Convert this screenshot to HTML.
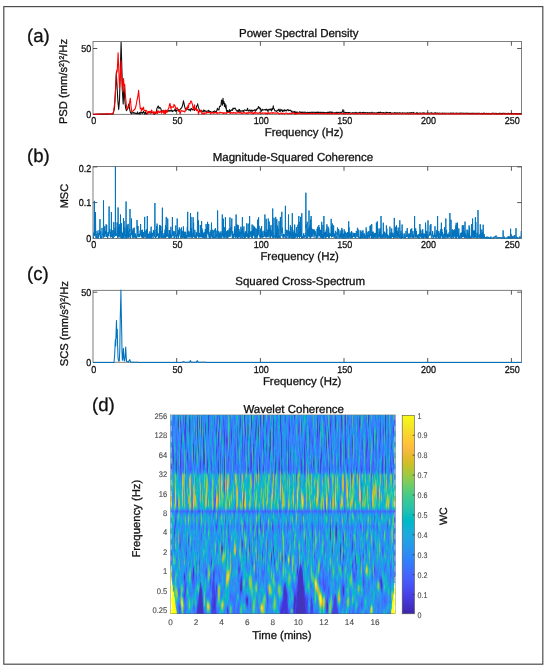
<!DOCTYPE html>
<html><head><meta charset="utf-8"><title>Figure</title>
<style>
html,body{margin:0;padding:0;background:#fff}
#fig{position:relative;width:550px;height:671px;background:#fff;overflow:hidden;font-family:"Liberation Sans",Arial,sans-serif}
#hm{position:absolute;left:170px;top:415px;width:226px;height:199px;display:flex}#hm i{display:block;width:1px;height:199px;flex:none}
</style></head><body>
<div id="fig">
<div id="hm"><i style="background:linear-gradient(#9ce,#9cf,#9cf,#9bf,#9bf,#9bf,#9bf,#9cf,#9cf,#9cf,#9bf,#9ce,#8de,#9dc,#9dc,#9dc,#9dc,#9dc,#9dd,#9dc,#bdb,#adb,#9dc,#bda,#dd9,#ed9,#ed9,#fe9,#fd9,#dd9,#9dc,#8de,#9bf,#9ce,#9ce,#9cf,#9ce,#9ce,#8ce,#8ce,#8de,#9dc,#adb,#9dc,#8dd,#8dd,#9dc,#9dc,#9ce,#9cf,#9cf,#9ce,#ff8,#ff8,#ff8,#ff8,#ff8,#ff8,#ff8,#ff8,#ff8,#ff8,#ff8,#ff8,#ff8,#ff8,#ff8)"></i><i style="background:linear-gradient(#2ad,#2ad,#2ad,#29d,#29e,#38e,#38f,#38e,#29e,#2ad,#1ad,#1ad,#29d,#39e,#38e,#38e,#47e,#45e,#45e,#45e,#2ad,#3ba,#2ba,#1bb,#2bc,#2ac,#1bb,#7c6,#cb3,#cb3,#bb4,#4c9,#37f,#29e,#1ac,#0bc,#0bc,#1ad,#2bb,#2bb,#1ad,#2ad,#29d,#29d,#29e,#28e,#46e,#44c,#45e,#38e,#3ba,#5c7,#7c6,#6c7,#ac4,#ee2,#ef2,#ff1,#ff1,#ff1,#ff1,#ff1,#ff1,#ff1,#ff1,#ff1,#ff1)"></i><i style="background:linear-gradient(#3ba,#1ad,#38e,#37f,#46f,#46f,#46f,#46f,#46f,#46e,#45e,#45e,#45e,#46f,#37f,#38e,#38e,#38e,#38e,#1ad,#2ad,#2ad,#3ba,#5c8,#3ba,#0bc,#1ad,#29d,#38e,#38e,#39d,#39e,#47f,#0bc,#3ca,#2ba,#0bc,#2ad,#0bc,#1bc,#2ad,#29e,#29e,#29e,#29e,#29e,#29e,#38e,#38e,#39e,#2ad,#1bc,#39d,#38e,#38e,#39d,#4c9,#ee2,#ee2,#ff1,#ff1,#ff1,#ff1,#ff1,#ff1,#ff1,#ff1)"></i><i style="background:linear-gradient(#47f,#46f,#46f,#37f,#38f,#29e,#29d,#29e,#39e,#38e,#37f,#46f,#45e,#45e,#44d,#44d,#45d,#46e,#46f,#38f,#29d,#29e,#29e,#2ad,#29d,#29e,#38e,#38e,#2ad,#0bc,#1bb,#2ad,#37f,#1ad,#3ba,#3ba,#0bc,#29e,#29d,#29d,#29e,#29e,#29e,#29e,#29e,#29e,#1bc,#4c9,#6c7,#4c9,#2ad,#38e,#47f,#47f,#38e,#29e,#2ad,#3ad,#39d,#ef2,#ef2,#ff1,#ff1,#ff1,#ff1,#ff1,#ff1)"></i><i style="background:linear-gradient(#46f,#46f,#37f,#37f,#38f,#38f,#38e,#39e,#29e,#1ad,#1bb,#2bb,#2bb,#1ab,#1ab,#2ab,#1ab,#1ad,#29e,#2ad,#2bb,#1bc,#1bc,#1bb,#1bb,#2ac,#39d,#38e,#39d,#2ac,#5c8,#5c8,#38e,#29e,#29d,#2ad,#29e,#46f,#45e,#44d,#45e,#47e,#38e,#38e,#47e,#37f,#29e,#0bb,#5c7,#4c8,#0bc,#29e,#38e,#38e,#38e,#2ad,#1bb,#3ba,#3b9,#4c8,#4c9,#ef2,#ef2,#fe1,#ff1,#ff1,#ff1)"></i><i style="background:linear-gradient(#2ad,#29e,#29e,#29e,#38e,#38f,#38f,#38f,#38f,#38e,#38e,#39e,#39e,#38e,#38e,#38e,#37e,#37e,#37e,#29e,#7c6,#9b4,#9b4,#ab4,#cb4,#db4,#dc4,#dc4,#dc4,#dc4,#db4,#3ba,#46f,#47f,#46f,#45e,#45e,#45e,#38e,#29d,#2bb,#3b9,#4b8,#5c7,#4c8,#0ac,#29e,#2ad,#1bb,#1bc,#29e,#29e,#2ad,#3b9,#5c7,#4c9,#3ba,#4c8,#8c5,#8c5,#5c7,#3c9,#4c9,#db4,#ee2,#ef1,#ff1)"></i><i style="background:linear-gradient(#1bc,#2ad,#29e,#38e,#38f,#37f,#47f,#46f,#46f,#46f,#46f,#46f,#46f,#46f,#46f,#45e,#44d,#44d,#44d,#45d,#2ac,#2bc,#1bc,#1bb,#1bb,#1bb,#2bc,#2ac,#3ac,#39d,#39d,#38e,#45e,#37f,#47f,#37f,#38e,#29e,#0ac,#0bc,#2ad,#29d,#2ad,#1bb,#1bb,#2ad,#29e,#38f,#37f,#38f,#38e,#29e,#0bc,#3ca,#1bb,#2ad,#2ad,#3ba,#8c5,#ac4,#8c5,#3c9,#2ad,#3ad,#2ac,#ac4,#ee2)"></i><i style="background:linear-gradient(#29e,#38e,#38e,#37e,#38e,#38e,#38e,#38f,#38f,#37f,#37f,#37f,#38f,#38f,#38f,#38f,#38e,#29d,#1ad,#2ab,#2ba,#1bb,#0bc,#1bc,#1ad,#1bc,#1bc,#2ad,#47e,#55d,#55d,#47f,#45e,#39e,#2bb,#2ba,#0bc,#29e,#29e,#29d,#39d,#38e,#38e,#29d,#1bb,#0bc,#29e,#38e,#38e,#29e,#1ad,#1bb,#1bb,#1bc,#29e,#38e,#38e,#29e,#2bb,#6c7,#6c6,#3ba,#29e,#38f,#38f,#38e,#48e)"></i><i style="background:linear-gradient(#37f,#45e,#44d,#44d,#44d,#46e,#37f,#38e,#29e,#29d,#29e,#28e,#38e,#38f,#37f,#47f,#47e,#46e,#46e,#47f,#1ad,#0bc,#1ad,#1ad,#0bc,#2ba,#3c9,#5c8,#8b5,#bb4,#bb4,#3ba,#38e,#4c9,#5c8,#1bc,#29e,#38f,#2ad,#3b9,#6b7,#7b6,#7b7,#3ba,#2ad,#2ad,#0bc,#2bb,#2ba,#0bc,#2ad,#29d,#29e,#29e,#29e,#38e,#38e,#38f,#37f,#37e,#38e,#39e,#38f,#46f,#46f,#37f,#38f)"></i><i style="background:linear-gradient(#1ad,#3ba,#4b9,#4b9,#4b9,#2bb,#29e,#38f,#38f,#38e,#2ad,#1ac,#2ab,#2bb,#3ba,#3ba,#3ba,#1ac,#29d,#38e,#47f,#47f,#38e,#2ad,#0bc,#1bb,#1bb,#3c9,#5c7,#6c7,#7c6,#4c9,#29e,#2ad,#2ad,#29e,#28e,#38f,#29e,#39e,#47e,#47e,#38e,#37e,#37f,#38f,#29e,#29e,#2ad,#3ba,#4b9,#3ba,#1ad,#29e,#29e,#2ad,#29e,#38f,#46f,#46f,#37f,#38e,#38e,#46f,#44e,#45e,#46f)"></i><i style="background:linear-gradient(#38e,#46e,#45d,#45e,#46e,#38e,#38e,#38e,#38e,#37e,#37f,#46f,#45e,#44d,#44d,#44d,#44d,#44d,#45e,#45e,#37f,#29e,#1ad,#1bc,#1ac,#2ad,#2ad,#0bc,#1bb,#1bc,#2ac,#2ad,#46f,#38f,#29e,#2ad,#0bc,#1ad,#2ad,#29e,#38e,#37f,#46f,#45e,#46f,#38e,#29e,#29d,#29e,#38e,#38e,#39e,#29e,#2ad,#1ac,#0bc,#1ad,#2ad,#39d,#39d,#1bc,#4b9,#3ba,#39d,#37e,#46e,#46f)"></i><i style="background:linear-gradient(#3ba,#1bb,#2ad,#38e,#37f,#46f,#45e,#44d,#44d,#44d,#45e,#46f,#37f,#37f,#37f,#37f,#46f,#46f,#46f,#46f,#47e,#47e,#48e,#48e,#39d,#2ac,#3ba,#1bb,#2ac,#2ac,#1bb,#2ad,#46f,#29e,#2ad,#0bc,#0bc,#38e,#38f,#37f,#37f,#38e,#38e,#29e,#29e,#38e,#38e,#29e,#29d,#29e,#29e,#29e,#29e,#29e,#29e,#29e,#1bc,#4c8,#7c6,#6c7,#6c6,#db4,#ed3,#eb4,#7c7,#3ba,#1bb)"></i><i style="background:linear-gradient(#29d,#2ad,#2ad,#29d,#29e,#38e,#29e,#29d,#2ad,#1ac,#0ac,#1ac,#2ad,#38e,#38f,#37f,#37f,#37f,#37f,#1ac,#cb4,#cb3,#cb3,#cb4,#cb4,#cb5,#db5,#db5,#db5,#bb4,#7c6,#0bc,#37f,#38e,#38e,#29e,#29e,#38f,#38f,#38e,#38e,#38e,#38e,#29e,#2ad,#2ad,#29e,#29e,#29e,#39e,#29e,#2ad,#1ad,#29e,#38e,#38e,#1ad,#4c8,#5c7,#1bb,#1ac,#7c6,#dd3,#ee3,#db4,#9c4,#7c6)"></i><i style="background:linear-gradient(#47e,#46e,#45e,#46f,#37f,#29e,#1ac,#3bb,#3ba,#1bb,#1ac,#29d,#38e,#38e,#37e,#47e,#46e,#46e,#46f,#38e,#6c7,#8c5,#8c5,#8c5,#4c9,#3ac,#49c,#3ac,#3ac,#2bb,#1ba,#2ad,#46f,#29e,#2ad,#29d,#29e,#38f,#38e,#29e,#2ad,#2ad,#29e,#29e,#29d,#2ad,#2ad,#2ad,#29d,#39d,#29e,#29e,#29e,#38e,#37f,#38f,#39e,#29d,#39e,#37f,#46f,#39d,#2ba,#4c9,#4b9,#1bb,#2ad)"></i><i style="background:linear-gradient(#3ba,#2ab,#1ac,#38e,#37f,#45e,#44d,#45e,#46e,#38e,#29e,#0ac,#3ba,#3b9,#4b9,#4b9,#4b9,#3ba,#3bb,#4b9,#8c6,#5c8,#4c8,#5c8,#5c7,#6c7,#7c6,#7c6,#6c7,#6c7,#8c5,#3b9,#37f,#29e,#2ad,#2ad,#39e,#38f,#29e,#29d,#2ad,#29e,#29e,#29e,#38e,#38e,#29e,#1bc,#4b8,#5c8,#1bc,#29e,#47f,#44d,#43c,#45e,#46f,#46f,#46f,#45e,#44e,#45e,#37f,#38e,#38e,#37f,#37f)"></i><i style="background:linear-gradient(#45e,#44d,#44d,#44d,#44d,#44e,#44e,#44e,#44e,#44e,#45e,#46e,#47f,#38e,#39e,#29d,#38e,#47e,#46e,#45d,#39e,#39e,#38e,#47e,#37e,#38e,#39d,#2ad,#2ad,#2ad,#3ad,#39e,#46f,#0bc,#4c8,#6c7,#4b9,#1bc,#0bc,#0bc,#2ad,#29e,#29e,#38e,#38e,#38e,#38e,#38e,#38e,#38e,#29e,#29e,#38f,#37f,#37e,#37f,#45f,#44d,#44e,#45e,#46f,#46f,#37f,#37f,#46f,#46f,#47f)"></i><i style="background:linear-gradient(#38e,#47e,#47f,#37e,#38e,#38e,#38e,#38e,#37e,#37f,#37f,#37f,#38f,#38e,#28e,#29e,#29e,#2ad,#1ad,#1ac,#2ad,#2ad,#1ad,#2ad,#2ad,#2ad,#39e,#38e,#29e,#29e,#1ad,#1ad,#46f,#28e,#38e,#38e,#39e,#38e,#29e,#29d,#29e,#29e,#38e,#38f,#37f,#46f,#45e,#46f,#38f,#29e,#38f,#46f,#46f,#38f,#29e,#38e,#46f,#47f,#29d,#1ac,#29d,#38e,#38f,#38f,#37f,#38f,#38e)"></i><i style="background:linear-gradient(#3ba,#3ba,#2bb,#1ad,#29d,#29d,#1ad,#0bc,#0bc,#2ad,#29e,#37f,#46e,#44d,#44d,#44e,#46f,#37f,#37f,#37f,#29e,#29e,#29e,#1ad,#2ba,#5c8,#3c9,#2bb,#1ac,#2ad,#29d,#38f,#45f,#38e,#39d,#39d,#39e,#38e,#0bc,#3ba,#3ba,#2bb,#2bb,#1ac,#2ad,#29e,#29e,#29e,#29e,#29d,#29e,#29e,#29e,#2ad,#1ad,#2ad,#29e,#1ad,#3c9,#4c8,#0bc,#29d,#39e,#39e,#29e,#29e,#1ad)"></i><i style="background:linear-gradient(#2ad,#1ac,#1bb,#1bb,#1ab,#1ab,#1bb,#1bb,#1bb,#1bb,#1bc,#1ad,#29e,#38e,#38e,#37f,#46f,#46f,#46f,#47f,#38e,#39d,#39d,#39d,#39d,#2ac,#1bb,#6c6,#ab4,#7c6,#1bb,#39d,#46f,#3ba,#8c6,#8c6,#4c8,#2ad,#29d,#29e,#37e,#45e,#45e,#46f,#38f,#29e,#29e,#29d,#0ac,#2bb,#1bc,#1ad,#2ad,#2ad,#1bc,#0bc,#1ad,#2ad,#1ac,#1bc,#1bb,#2ba,#3ba,#3b9,#2bb,#1ad,#29d)"></i><i style="background:linear-gradient(#38f,#45e,#44d,#44d,#44d,#44d,#45e,#46f,#47f,#47f,#37f,#37f,#38f,#38e,#29e,#38e,#37f,#37f,#37f,#37f,#1bb,#8c5,#cb3,#cb3,#9c5,#4c8,#4c8,#9c4,#cb3,#cb3,#bb3,#5c7,#29e,#2ad,#2ad,#2ad,#1ac,#1ad,#2ad,#29e,#29e,#29d,#29d,#29d,#2ad,#1ad,#2ad,#29e,#38f,#47f,#37f,#39e,#2bb,#6c7,#5c7,#3c9,#1bc,#38e,#38f,#38e,#29d,#2bb,#5c7,#7c6,#5c8,#1ad,#38e)"></i><i style="background:linear-gradient(#29e,#38e,#37e,#37e,#37e,#37f,#37f,#47f,#37f,#38f,#38e,#38e,#38f,#37f,#47f,#46f,#46f,#46f,#45f,#37f,#7c6,#cb3,#db4,#cb3,#cb3,#db5,#db5,#9c5,#4c9,#8c5,#eb4,#9b5,#38e,#29d,#2ad,#2ad,#2ad,#29e,#29e,#2ad,#1bb,#4c9,#4c9,#2bb,#1ad,#1ad,#1ad,#29e,#29e,#29e,#1ac,#3ba,#4c8,#4c8,#3ba,#2bb,#0bc,#29e,#38e,#37f,#38e,#29e,#1bc,#1bb,#1bc,#29e,#38e)"></i><i style="background:linear-gradient(#1bb,#1bb,#1ac,#29e,#29e,#29e,#29e,#1ad,#0bc,#1bc,#0bc,#0bc,#1ac,#2ad,#38e,#38e,#37f,#46f,#46f,#47f,#2ad,#39d,#39d,#39d,#39d,#38e,#48e,#38e,#29d,#39d,#39d,#38e,#45e,#37f,#38e,#29e,#38e,#37f,#38e,#29e,#2ad,#2ad,#29d,#38e,#46f,#46f,#38f,#29e,#1ad,#1bc,#1ad,#39e,#38e,#37e,#37f,#38e,#29e,#1ad,#29d,#38e,#38e,#2ad,#0bc,#1bb,#2ad,#39e,#39e)"></i><i style="background:linear-gradient(#47e,#47e,#37f,#38f,#38e,#29e,#2ad,#2ad,#2ad,#2ad,#1ac,#2ba,#3b9,#4b9,#4b9,#3ba,#1ac,#29e,#37f,#38e,#1ad,#2ad,#2ad,#2ad,#39d,#39d,#38e,#38e,#48e,#57e,#56e,#47e,#45e,#29e,#2ad,#29e,#38f,#37f,#29e,#1ad,#29d,#29e,#38e,#29e,#29e,#29e,#29e,#29e,#29e,#28e,#38e,#38e,#37f,#45f,#45e,#45e,#46f,#37f,#38f,#38e,#29e,#1bb,#3ba,#1bb,#29e,#38e,#39e)"></i><i style="background:linear-gradient(#3ba,#1ac,#2ad,#29e,#38e,#38e,#38e,#38f,#37f,#46f,#44d,#44d,#44c,#44c,#44c,#45d,#37f,#38e,#1ad,#2bb,#2ad,#29d,#2ad,#3ba,#8c5,#bb3,#bb3,#cb3,#db4,#eb4,#eb4,#ab4,#38e,#1ad,#3b9,#3ba,#1ad,#38f,#38f,#29e,#29e,#2ad,#29e,#29e,#2ad,#1bc,#0bc,#29d,#29e,#39e,#47f,#44c,#43c,#43c,#44e,#45f,#46f,#46f,#37f,#38e,#29e,#1ad,#29d,#38e,#46f,#47f,#38e)"></i><i style="background:linear-gradient(#39e,#38e,#29e,#1bc,#3ba,#3ba,#1ac,#29d,#38e,#38e,#29e,#29d,#1ad,#1ad,#29d,#29d,#38e,#37f,#37f,#38e,#4c9,#5c8,#4c9,#5c8,#7c6,#9c4,#cb3,#db3,#cb3,#8c5,#6c7,#1bb,#37f,#29e,#38e,#39e,#29e,#29e,#1ad,#2ad,#29e,#39e,#37f,#47f,#37f,#29e,#0bc,#3ba,#3b9,#3c9,#1bb,#29d,#38e,#37e,#37f,#46f,#46f,#37f,#38e,#29e,#2ad,#2ad,#2ad,#38e,#46f,#47f,#37f)"></i><i style="background:linear-gradient(#39e,#38e,#38f,#37f,#47e,#46e,#46e,#46e,#37f,#38f,#38f,#38f,#37f,#46f,#45e,#45e,#46e,#47f,#38f,#2ad,#2ad,#29d,#29d,#39e,#39d,#3ad,#1bb,#ac4,#db4,#cb3,#7c5,#1bc,#46f,#37f,#47f,#47e,#37f,#37f,#28e,#29e,#38e,#29e,#29e,#29d,#29e,#39e,#29e,#29d,#2ad,#1ac,#0bc,#2bb,#1bc,#29d,#38e,#38e,#38e,#29e,#0bc,#1bb,#0bc,#1bc,#3ba,#2bb,#29e,#38f,#47f)"></i><i style="background:linear-gradient(#3b9,#1ac,#29d,#29d,#1ad,#2ab,#3ba,#3ba,#1ac,#2ad,#38e,#38e,#38e,#38e,#39e,#29d,#29d,#29e,#29e,#2ad,#1bb,#1bb,#1bc,#1ac,#1bc,#2bb,#1bb,#2ba,#3b9,#4c8,#6c6,#3ba,#47f,#29d,#3ba,#4b9,#2bb,#2ad,#2ad,#2ad,#29e,#29e,#29d,#29d,#29e,#29e,#1ad,#1bc,#2ad,#28e,#37e,#37e,#38e,#37f,#46f,#37f,#38e,#2ad,#1bb,#0bc,#29e,#29d,#1bc,#1ac,#38e,#46f,#45e)"></i><i style="background:linear-gradient(#46e,#45d,#44d,#44d,#44c,#44c,#44c,#44d,#46e,#37f,#38e,#1ac,#3ba,#4b9,#4b9,#3ba,#2bb,#29e,#37f,#46f,#29d,#0bc,#1bb,#2ba,#2ba,#1bb,#0bc,#1bc,#0bc,#1bb,#2bb,#2ad,#46f,#29e,#2ad,#1bb,#1bb,#2ad,#29d,#29d,#29e,#29e,#29e,#29e,#29e,#39e,#28e,#29e,#29e,#29d,#1bc,#3b9,#3b9,#1bb,#1ad,#1ad,#2bb,#3ca,#2ba,#1ac,#38e,#47f,#46e,#45e,#44d,#43d,#43d)"></i><i style="background:linear-gradient(#1ad,#2ab,#3b9,#4b9,#3ba,#2ab,#1ac,#29d,#38e,#37f,#46e,#45d,#45c,#46e,#47e,#38e,#29e,#39e,#38f,#38e,#1ad,#2ad,#2ad,#2ad,#1ad,#1bc,#0bc,#1ad,#29e,#38e,#38e,#38e,#45f,#29e,#2ad,#29d,#38e,#37f,#38e,#29e,#29e,#2ad,#0ac,#2ad,#29e,#29e,#2ad,#1bc,#1bc,#1ac,#3ba,#3b9,#1bc,#29e,#38e,#29e,#0bc,#3c9,#5c8,#1bb,#37e,#45e,#44d,#43d,#43c,#43c,#43b)"></i><i style="background:linear-gradient(#47e,#46e,#45c,#45c,#45d,#47e,#38e,#28e,#29e,#1bc,#3ba,#3ba,#2ab,#1ad,#29e,#38e,#37f,#37f,#46f,#47f,#0bc,#3ca,#3c9,#3ba,#2ba,#1bb,#1bb,#2ac,#3ad,#29d,#29d,#38e,#45e,#38f,#38f,#47f,#46f,#46f,#37f,#38f,#38f,#38f,#38f,#38e,#38e,#38e,#38e,#38e,#46e,#45e,#46e,#37e,#38f,#37f,#38f,#29e,#1ac,#1ac,#46e,#44c,#43c,#43c,#43c,#43c,#43b,#43b,#43b)"></i><i style="background:linear-gradient(#4b9,#3ba,#4b9,#4b9,#4b9,#4b9,#3ba,#1ac,#29e,#38e,#38e,#38e,#38e,#47f,#46e,#45e,#44e,#44e,#45e,#46f,#2ad,#1bc,#3ba,#6c7,#8c5,#8c5,#9b5,#ab4,#9b5,#4c9,#1bb,#2ad,#37f,#2ad,#2ad,#29d,#39d,#29e,#29e,#29e,#29e,#38e,#38f,#38e,#39e,#29e,#29e,#29e,#29e,#29e,#39e,#29e,#29e,#39e,#28e,#29e,#44c,#44c,#43c,#43b,#43b,#43b,#43b,#43b,#43b,#43b,#43b)"></i><i style="background:linear-gradient(#37e,#46e,#45e,#45d,#45c,#45c,#45d,#46e,#47f,#38f,#38e,#2ad,#1ad,#2ad,#29d,#38e,#38e,#38f,#38e,#38e,#2ad,#2ad,#29d,#39d,#39d,#39d,#38d,#49c,#2ac,#1bb,#0bc,#2ad,#29e,#5b8,#6c7,#6c7,#5c8,#0bc,#38e,#47f,#45e,#46f,#38e,#29e,#29d,#29e,#29e,#29e,#29e,#2ad,#29d,#29e,#29e,#2ad,#0bc,#1bb,#2ad,#46e,#43c,#43c,#43c,#43c,#43c,#43b,#43b,#43b,#43b)"></i><i style="background:linear-gradient(#29e,#38e,#29d,#1ac,#2ab,#3ba,#3ba,#2ab,#1ac,#29d,#29d,#1ad,#1bb,#3ba,#2bb,#1ac,#28e,#37f,#38f,#29e,#1bb,#0bc,#0bc,#1bb,#3ba,#3ba,#5c8,#8b5,#7c6,#3c9,#2bb,#2ad,#45e,#47e,#39d,#2ad,#29d,#38e,#38e,#29d,#2ad,#29e,#29e,#2ad,#1ad,#2ad,#29d,#2ad,#1ad,#2ad,#39e,#38f,#38e,#2ad,#1bb,#0bc,#2ad,#29e,#38e,#46e,#45e,#44d,#44d,#43c,#43c,#43c,#43c)"></i><i style="background:linear-gradient(#29e,#38e,#38f,#37f,#37f,#47e,#46e,#46e,#44d,#44d,#44d,#44d,#44d,#44d,#44d,#44d,#44e,#45e,#45f,#47f,#2ad,#2ad,#2ac,#2ac,#2ad,#2ad,#2ad,#2ac,#2ac,#1bc,#1bb,#0bc,#38f,#29d,#2ad,#2ad,#29e,#37f,#47f,#38e,#2ad,#2ad,#29e,#29e,#1ad,#3c9,#3c9,#1bb,#29d,#38e,#37f,#38f,#38e,#29e,#29e,#29e,#29d,#1ad,#1bc,#1ac,#1bb,#2ba,#2ac,#39d,#37e,#45e,#44d)"></i><i style="background:linear-gradient(#37f,#38f,#38e,#29e,#29d,#2ad,#1ac,#1ac,#1ac,#29d,#38e,#37e,#46e,#44d,#44c,#44c,#44d,#46e,#37f,#2ad,#3c9,#5c8,#7c6,#7c6,#4c8,#2ba,#2bb,#1bb,#1bb,#1bb,#2ba,#0bc,#38e,#1bb,#1ad,#2ad,#2ad,#2ad,#1bb,#2bb,#0bc,#2ad,#29e,#29e,#29d,#1bc,#1bc,#29d,#39e,#38e,#38e,#38e,#38f,#38f,#38e,#29e,#1bc,#2ba,#2ba,#3ca,#5c8,#6c7,#7c6,#4c9,#0ac,#38e,#46f)"></i><i style="background:linear-gradient(#29e,#38f,#47f,#45e,#44d,#44d,#45e,#37f,#29e,#2bb,#3b9,#4b9,#4b9,#4b9,#4b9,#4b9,#3b9,#2bb,#1ac,#1ac,#3c9,#1bb,#2bb,#2ba,#3b9,#3ba,#4c8,#9c4,#cb3,#db4,#cb3,#3c9,#37f,#2ad,#0bc,#2bb,#3ba,#1bc,#1bb,#2ad,#29e,#2ad,#2ba,#3ba,#0bc,#2ad,#29e,#29e,#29e,#38e,#38f,#47f,#46f,#37f,#38e,#2ad,#2bb,#2ba,#0bc,#2ad,#29d,#39d,#2ad,#2ad,#29d,#38e,#47f)"></i><i style="background:linear-gradient(#29e,#29e,#2ad,#1ac,#1ad,#29e,#38e,#38f,#38f,#38e,#38e,#38e,#38e,#38e,#38e,#38e,#38e,#38e,#37e,#38e,#5c8,#7c6,#8c5,#9c4,#cb3,#db4,#db4,#db4,#cb3,#cb3,#8c5,#0bc,#46f,#38f,#29e,#38e,#38e,#37f,#37f,#37f,#38f,#29e,#1bc,#1bc,#2ad,#2ad,#1ad,#0bc,#1bc,#2ad,#38e,#46f,#45e,#45e,#47f,#38e,#29d,#2ad,#29e,#38f,#37f,#29e,#1bc,#3ba,#2ba,#2ad,#38e)"></i><i style="background:linear-gradient(#29d,#29e,#29d,#29d,#29d,#29d,#29e,#38e,#38f,#38f,#38f,#38f,#38f,#38f,#37f,#45e,#44d,#44d,#44d,#45e,#1bc,#4c9,#7c6,#8c5,#7c6,#5c7,#3c9,#1bc,#39c,#48d,#39d,#29d,#46f,#1ad,#0bc,#2ad,#38e,#47f,#37f,#38e,#38e,#29e,#2ad,#1ad,#1ad,#2ad,#29e,#29e,#29e,#29e,#39e,#39e,#29d,#2ac,#2ac,#2ad,#29e,#29e,#38f,#37f,#37f,#29d,#6c7,#ec3,#eb4,#4c9,#2ad)"></i><i style="background:linear-gradient(#44d,#44d,#44d,#44d,#44d,#44d,#45e,#46f,#47f,#38f,#38e,#2ad,#1ad,#1ac,#1ac,#1ac,#0ac,#0ac,#2bb,#2bb,#28e,#38e,#38e,#39d,#2ad,#1bc,#0bc,#1bb,#4c9,#7c6,#7c6,#1ad,#46f,#1ad,#2bb,#2bb,#1bc,#1ad,#2bb,#4c8,#3c9,#2ad,#29e,#29e,#29e,#29e,#38e,#38e,#29e,#0bc,#3ba,#4c9,#5c7,#7c6,#6c7,#3c9,#1ac,#29e,#38f,#37f,#37f,#29e,#4c8,#ec3,#ec3,#5c7,#1ad)"></i><i style="background:linear-gradient(#29d,#38e,#37e,#38e,#38e,#29e,#29e,#29e,#38e,#38f,#38f,#37f,#38f,#38f,#38e,#29e,#2ad,#2ad,#29d,#39e,#29d,#1ad,#0ac,#1ad,#2ad,#2ad,#2ad,#1bc,#0bb,#1bb,#1bb,#2ad,#46f,#37f,#39e,#29d,#2ad,#2ad,#1ad,#1bc,#0bb,#1bb,#29d,#38f,#46f,#37f,#38f,#38f,#38f,#28e,#2ad,#3b9,#7c6,#7c6,#3ba,#29d,#38e,#47f,#46f,#47f,#47f,#37f,#2ad,#6c7,#8c5,#3ba,#2ad)"></i><i style="background:linear-gradient(#38e,#38f,#38f,#38e,#38e,#38e,#38e,#29d,#1ad,#1ac,#29d,#38e,#37f,#37f,#37f,#37f,#37f,#38e,#38f,#29e,#1bc,#29e,#38f,#37f,#38e,#29d,#2ad,#1ac,#1ad,#2ad,#1bc,#1ad,#46f,#38e,#29e,#29e,#29e,#38f,#38e,#29e,#29d,#29e,#29e,#29e,#29e,#29e,#29e,#38e,#38f,#37f,#37f,#38e,#38e,#47e,#46e,#45e,#45e,#46f,#37f,#38e,#38e,#38e,#38e,#29d,#2ad,#29e,#38e)"></i><i style="background:linear-gradient(#29e,#29e,#1ad,#1bc,#0ac,#2ad,#29e,#29e,#29e,#29e,#29e,#38e,#38e,#38f,#37f,#46e,#45e,#45e,#45e,#37f,#2ba,#1bc,#39d,#39d,#1ac,#3ba,#3c9,#3c9,#3b9,#3ba,#1bb,#39d,#46f,#29e,#2ad,#2ad,#29e,#37f,#47f,#37f,#37f,#38f,#38e,#29e,#29d,#2ad,#29d,#38e,#45e,#44d,#46e,#39e,#39e,#37f,#47f,#37f,#37f,#37f,#37f,#38e,#38f,#46f,#45f,#45e,#45e,#45e,#45e)"></i><i style="background:linear-gradient(#29e,#28e,#38e,#38e,#38e,#38f,#37f,#46f,#46f,#46f,#37f,#38f,#29e,#1ac,#2bb,#2bb,#1ac,#29e,#38e,#38e,#2bb,#4c8,#8c6,#8c5,#7c6,#9c5,#8c5,#9c5,#cb4,#db5,#cb4,#6c7,#38e,#29e,#29e,#29e,#29e,#38f,#38e,#29e,#29e,#38e,#37f,#38f,#29e,#1ad,#1ad,#2ad,#1ac,#3ba,#4b9,#2ba,#29d,#38e,#38f,#46f,#45e,#44e,#44d,#44e,#45e,#44e,#44e,#44e,#44e,#44e,#44e)"></i><i style="background:linear-gradient(#1bc,#1ac,#1ad,#29d,#29e,#38e,#38f,#38f,#38f,#37f,#47f,#46f,#46f,#47f,#38f,#38e,#29e,#29e,#39e,#38e,#2ad,#2bb,#3c9,#3c9,#3ba,#1bb,#2ac,#2ac,#1ac,#3ba,#4b9,#2ac,#45e,#46e,#28e,#2ad,#2ad,#38f,#37f,#38f,#38e,#29e,#29d,#2ad,#29d,#29e,#29e,#29e,#2ad,#0bc,#1bb,#1ac,#45e,#44e,#44e,#44e,#44e,#44e,#44e,#44e,#44e,#44d,#44d,#43d,#43d,#44d,#44d)"></i><i style="background:linear-gradient(#38e,#46e,#46e,#46f,#37f,#38f,#29e,#1ad,#1ad,#2ad,#29d,#29d,#29e,#38e,#38f,#38f,#38f,#37f,#47f,#37f,#2ad,#2ad,#2ad,#29d,#29d,#29d,#29d,#38e,#37f,#46f,#46e,#45e,#45e,#29d,#0bc,#1ad,#1ad,#1ad,#1bc,#2ad,#29e,#29e,#2ad,#2ad,#2ad,#2ad,#2ad,#2ad,#29e,#29e,#38e,#46f,#45e,#45e,#46f,#46f,#45e,#45e,#44e,#44e,#44d,#43d,#43c,#43c,#43d,#44d,#44d)"></i><i style="background:linear-gradient(#3ba,#1bb,#1ad,#29e,#38e,#37f,#38e,#38e,#2ad,#1bc,#2bb,#1bb,#1ac,#1ac,#1ac,#1ac,#1ad,#29e,#38e,#38e,#29e,#38e,#29e,#2ad,#39e,#47e,#47e,#56e,#55e,#56e,#48e,#39d,#37f,#2ad,#2ac,#29e,#37f,#37f,#38e,#29e,#29e,#29e,#1bc,#5c8,#6c7,#5c8,#3ba,#1ad,#29e,#29e,#38f,#37f,#37f,#38e,#29e,#29e,#38e,#37f,#46f,#45f,#44e,#44d,#44d,#44e,#44e,#44e,#44e)"></i><i style="background:linear-gradient(#2ad,#38e,#37f,#46f,#45e,#44d,#45d,#46e,#37f,#37f,#46f,#45e,#44d,#45e,#46e,#46f,#37f,#37f,#38f,#38f,#29e,#29e,#29e,#1ad,#4c8,#7b6,#8b5,#cb3,#eb4,#eb4,#eb4,#9b4,#1ad,#5c8,#6b7,#1ac,#37f,#44e,#45e,#38f,#29e,#2ad,#29d,#39e,#38e,#37e,#38e,#29e,#1ad,#1ad,#38e,#47f,#37f,#38e,#29e,#38e,#46f,#44d,#44d,#45e,#45e,#46f,#37f,#38e,#37f,#46f,#45f)"></i><i style="background:linear-gradient(#46f,#45e,#46e,#37f,#29e,#2ab,#3ba,#3ba,#1ab,#29e,#37f,#37f,#37f,#38e,#38e,#38e,#37f,#37f,#37f,#38e,#0bc,#1ad,#2ad,#2ad,#2ad,#1bb,#4c9,#ab4,#db4,#cb3,#8c5,#3ba,#47f,#37e,#46e,#46e,#46f,#46f,#38e,#29e,#29e,#29e,#38e,#37f,#37f,#37f,#38f,#39e,#29d,#29e,#38e,#38f,#38f,#38f,#38f,#38f,#38f,#38e,#39d,#39d,#39d,#39d,#2ad,#2ad,#38e,#37f,#47f)"></i><i style="background:linear-gradient(#38e,#29d,#3ba,#3ba,#1ad,#37f,#44d,#44d,#44d,#44d,#44d,#46f,#37f,#37f,#37f,#45e,#44d,#44d,#44d,#44d,#29d,#2ba,#5c8,#3ba,#2ac,#3ad,#39c,#49c,#49c,#3ac,#1bb,#1ad,#46f,#38f,#29e,#29d,#0bc,#1ad,#0bc,#1bc,#0ac,#0ac,#0bc,#1ad,#29d,#29d,#0bc,#3b9,#3b9,#2bb,#29e,#37f,#46f,#37f,#38f,#38e,#2ad,#7c6,#ab4,#ab4,#9c4,#7c6,#3c9,#2ad,#38e,#38e,#29e)"></i><i style="background:linear-gradient(#46e,#45e,#44d,#45d,#46e,#37f,#38e,#38e,#38e,#38e,#38e,#38f,#38e,#29e,#29d,#2ad,#1ad,#1ad,#1ac,#2ab,#7b7,#7c6,#8c5,#ab4,#ab4,#ab4,#bb4,#cb4,#cb4,#9c5,#5c7,#1ad,#46f,#37f,#29e,#2ad,#1bb,#1ad,#2ad,#29e,#38f,#28e,#29d,#1bb,#2bb,#1bb,#0bc,#2ad,#39e,#29e,#29e,#29e,#38f,#46f,#46f,#37f,#2ad,#6c7,#9c4,#9c4,#7c6,#5c7,#3ca,#2ad,#29e,#29e,#2ad)"></i><i style="background:linear-gradient(#1bc,#1ad,#29d,#2ad,#2bb,#3ba,#4b9,#4b9,#3ba,#1ac,#38e,#37f,#46f,#45e,#45e,#45d,#45e,#46e,#46e,#46e,#48d,#49d,#49d,#49d,#4ac,#3ab,#2bb,#2ba,#3ba,#4c9,#3c9,#1ac,#46f,#38e,#2ad,#2ad,#2ad,#29e,#2ad,#29e,#29e,#29e,#2ad,#5b8,#7b6,#6b7,#3ba,#1ad,#2ad,#29e,#29e,#38e,#38e,#38f,#47f,#37f,#39e,#1bc,#1bb,#39d,#38e,#39d,#1bc,#3ba,#1bb,#1bc,#2ad)"></i><i style="background:linear-gradient(#0bc,#1ad,#2ad,#29e,#38e,#38e,#47e,#47e,#47e,#37e,#37f,#38f,#38e,#38e,#29d,#1ac,#2ab,#1ac,#2ad,#1ac,#ab4,#ab4,#cb4,#db4,#db5,#cb4,#8c5,#5c8,#4c8,#3ca,#1bb,#2ad,#38e,#3b9,#6c7,#3c9,#2ad,#37f,#46e,#37f,#29e,#2ad,#38e,#46e,#44d,#45d,#46e,#38e,#2ad,#1ac,#29d,#38e,#38e,#38e,#38e,#38e,#29e,#29e,#29e,#37f,#47f,#29e,#3c9,#ac4,#7c6,#2ba,#1ac)"></i><i style="background:linear-gradient(#29e,#38e,#38e,#38e,#38f,#37f,#37f,#38e,#2ad,#1bb,#3bb,#2bb,#1bc,#2ad,#38f,#37f,#46e,#46e,#46e,#38e,#2ba,#3ba,#6c7,#6c7,#2ba,#3ba,#7c6,#8c5,#5c7,#4c8,#3c9,#2ad,#46f,#39e,#2ac,#1bb,#2bb,#0bc,#0ac,#2ad,#29d,#29d,#29e,#47f,#44d,#45d,#39d,#5c8,#ab3,#3c9,#29d,#38f,#38e,#2ad,#1bc,#0bc,#2ad,#29e,#38e,#38e,#29e,#0bc,#9c4,#ec3,#ac4,#3ba,#1ad)"></i><i style="background:linear-gradient(#37f,#46f,#45e,#45e,#46f,#46f,#37f,#38e,#38e,#29d,#29d,#29e,#38e,#38f,#37f,#38e,#29e,#29d,#1ac,#1ad,#29d,#39e,#38e,#38e,#29d,#1ac,#3ba,#4c8,#3ba,#1bb,#0bb,#1ad,#47f,#29e,#39e,#29d,#2ad,#1ad,#2bb,#3ba,#3ba,#3ba,#3bb,#1ac,#1ab,#4b9,#8c5,#cb3,#9c4,#2ba,#1bb,#0bc,#29e,#38e,#29e,#29e,#29e,#38e,#38e,#29e,#0bc,#1bb,#4c8,#7c6,#3b9,#2ad,#38e)"></i><i style="background:linear-gradient(#1ac,#29e,#37f,#37f,#46f,#45f,#44e,#44d,#44d,#44d,#45e,#46f,#46f,#46e,#45e,#44d,#44d,#44d,#44c,#44c,#45d,#46e,#56e,#55d,#55d,#46e,#37e,#39e,#2ad,#1bc,#1bc,#39d,#46f,#1bb,#4b9,#3ba,#2ad,#38e,#38e,#38e,#38e,#38e,#38e,#38e,#29e,#2ac,#4c8,#7c6,#3c9,#1bc,#1bc,#2ad,#29e,#38e,#38e,#38e,#38e,#28e,#29e,#29d,#2ad,#29d,#2ad,#1bc,#2ad,#38e,#37f)"></i><i style="background:linear-gradient(#46f,#46f,#47f,#37f,#37f,#37f,#38e,#38e,#28e,#38e,#38e,#38e,#29e,#2ab,#4b9,#4b9,#4b9,#3ba,#3ba,#4b9,#6b7,#7b6,#bb4,#ca4,#ca4,#ab5,#4c9,#3ba,#3b9,#5c8,#8c5,#6c7,#38f,#38e,#37e,#46e,#46f,#47f,#38e,#29d,#29d,#2ad,#1bc,#3ba,#3ba,#3c9,#5c8,#4c8,#0bc,#29d,#29e,#39e,#38e,#38e,#39d,#2ac,#1bb,#1bb,#0bc,#1bb,#2ba,#1bb,#1ad,#29d,#38e,#38f,#38f)"></i><i style="background:linear-gradient(#29e,#38e,#38f,#38f,#38f,#37f,#46f,#45e,#44e,#44e,#45e,#46f,#46f,#47e,#47e,#47e,#37e,#37f,#37f,#38e,#1bb,#3ac,#49c,#49c,#4ac,#3ac,#1bb,#4c8,#7c6,#7c5,#9c4,#5c8,#38e,#29e,#2ad,#1ad,#1ad,#1ad,#3ba,#4c9,#3ba,#1bb,#1bc,#2ad,#29d,#29d,#29d,#29d,#29d,#29d,#0bb,#3ba,#5c8,#8c5,#cb3,#db3,#9c4,#4c8,#1bb,#0bc,#1bb,#0bb,#1ad,#39e,#37f,#37f,#38e)"></i><i style="background:linear-gradient(#38e,#38e,#38e,#38e,#39e,#38e,#38e,#47e,#45e,#45d,#46e,#37e,#38e,#29e,#29e,#38e,#37f,#46f,#46f,#37f,#4c8,#8c5,#cb3,#eb4,#dc4,#db5,#bb3,#7c6,#3ba,#1bb,#1bb,#2ad,#46f,#38e,#29d,#2ad,#2ad,#29e,#29d,#29d,#2ad,#1ad,#1ad,#1ac,#0bc,#1bc,#2ad,#0bc,#3c9,#4c8,#3ca,#3ca,#9c4,#ec3,#ed2,#fb3,#8c5,#2ba,#1ad,#1ad,#0bc,#0bc,#2ad,#38f,#45e,#43c,#45e)"></i><i style="background:linear-gradient(#5b8,#4b9,#3c9,#3c9,#3c9,#4c9,#4b9,#4b9,#4b9,#4b9,#4b9,#3ba,#29e,#47f,#45e,#45e,#46f,#46f,#46f,#38e,#7c6,#bb3,#cb3,#bb3,#6c7,#3ba,#4c9,#4c8,#3c9,#1bb,#1bb,#2ad,#46f,#29e,#2ad,#29e,#37f,#45e,#46e,#46f,#46f,#46f,#46f,#38e,#1ad,#3ba,#3ba,#0bc,#0bc,#1bb,#2bb,#3c9,#bc3,#ec3,#ec3,#bb3,#4c9,#1bb,#0bc,#0bc,#1ad,#2ad,#29e,#38e,#47f,#45e,#45e)"></i><i style="background:linear-gradient(#38e,#39e,#1ac,#2bb,#2bb,#1bc,#29d,#38e,#38e,#37e,#37e,#37e,#37f,#37f,#37f,#37f,#38f,#38e,#38f,#38f,#39d,#2ad,#3ad,#39d,#29d,#2ad,#2ad,#1bc,#6c6,#db5,#db5,#2ba,#46f,#39e,#2ad,#2ad,#2ad,#29d,#1ad,#29e,#38f,#46f,#46f,#37f,#37f,#47e,#38e,#39e,#39d,#39d,#39d,#2ba,#7c5,#9c5,#5c7,#2ac,#29e,#29e,#29e,#29e,#38e,#38f,#38e,#2ad,#1ac,#2ad,#38e)"></i><i style="background:linear-gradient(#47e,#47f,#37f,#37f,#37f,#37f,#37f,#37e,#38e,#38e,#38f,#38f,#38e,#29e,#29e,#38e,#37f,#47f,#47f,#37f,#38e,#38f,#37f,#38e,#2ad,#1ac,#1bb,#3c9,#4c8,#2ba,#2ba,#2ba,#46f,#38f,#2ad,#3c9,#3b9,#1ad,#29e,#29e,#38e,#38e,#29e,#38e,#29e,#1ad,#5b8,#7b7,#6b7,#7b6,#8c6,#8c5,#7c6,#2bb,#2ad,#29e,#38e,#38f,#38f,#37f,#46f,#46f,#38e,#0bc,#6c7,#6c6,#3ba)"></i><i style="background:linear-gradient(#4b9,#1ac,#38e,#37f,#46f,#45e,#44d,#44d,#44d,#45e,#46f,#47f,#37f,#37f,#38f,#38e,#38e,#37f,#37f,#38f,#29e,#29e,#2ad,#1ad,#1ac,#0bc,#3c9,#8c5,#8c5,#5c7,#2ba,#2ad,#37f,#2ad,#2ad,#29d,#38e,#37f,#38e,#1ad,#3ba,#4c9,#0bc,#29e,#29e,#29e,#29d,#39d,#38e,#39d,#39d,#39d,#38e,#38e,#29e,#29e,#29e,#38e,#38e,#38f,#37f,#47f,#38f,#29d,#3ba,#3b9,#1bc)"></i><i style="background:linear-gradient(#39e,#38e,#47f,#47f,#37f,#38f,#38e,#29e,#29e,#29e,#29e,#29e,#29e,#2ad,#1ad,#1ac,#2bb,#2bb,#2bb,#1ad,#38e,#28e,#2ad,#1bc,#0bc,#1bb,#2bc,#3ac,#3ac,#1bc,#1bb,#2ad,#37f,#3ba,#3b9,#1ad,#29e,#38f,#29e,#1bc,#0bc,#2ad,#29e,#29e,#29d,#29d,#29d,#29e,#29e,#38e,#38e,#38e,#29e,#2ad,#29e,#38e,#38e,#29e,#29e,#38e,#37f,#46f,#37f,#38f,#38e,#38e,#38e)"></i><i style="background:linear-gradient(#29e,#38f,#38f,#38e,#39e,#28e,#38e,#38e,#38f,#38f,#38e,#38e,#38f,#38f,#37f,#47f,#46e,#46e,#46e,#47f,#2ad,#1ac,#1bc,#2bb,#3c9,#7c6,#8b5,#6c7,#3ba,#1bb,#1bb,#1ad,#46f,#38e,#29d,#29d,#29e,#38f,#29e,#2ad,#2ad,#29e,#38e,#39d,#2ac,#3ba,#2bb,#1ad,#29e,#29e,#38e,#29e,#2ad,#2ad,#29e,#38e,#38e,#29e,#29e,#38f,#47f,#47f,#37f,#37f,#47f,#46f,#46f)"></i><i style="background:linear-gradient(#38f,#37f,#37f,#38e,#2ad,#1ac,#1ac,#2ad,#38e,#37f,#47f,#46f,#46f,#37f,#37f,#37f,#37f,#37f,#37f,#38e,#1bb,#2ac,#3ac,#29d,#39e,#39e,#39d,#2ad,#1bc,#0bc,#1ac,#29e,#45f,#46f,#37f,#38f,#38e,#37f,#39e,#2ad,#2ad,#1bb,#5c8,#9b4,#db4,#db3,#6c6,#0bc,#29d,#29e,#29e,#2ad,#1ad,#1ac,#29d,#39e,#38e,#39e,#39e,#38e,#37f,#37f,#37f,#46f,#46f,#46f,#46f)"></i><i style="background:linear-gradient(#38e,#38e,#38e,#38e,#38f,#37f,#47f,#46f,#47f,#47f,#46f,#46f,#45e,#45e,#45e,#45e,#45e,#46f,#47f,#1ad,#cb4,#db4,#cb3,#5c8,#2ac,#3ac,#2ac,#1bc,#2ad,#38e,#47e,#47e,#46f,#1bc,#2bb,#1bc,#2bb,#1bc,#2bb,#0bc,#1ad,#1bc,#1bb,#4c9,#ab4,#db3,#8c6,#0bc,#29e,#38f,#38e,#29e,#2ad,#2ad,#29e,#38f,#38e,#38e,#38e,#38f,#37f,#37f,#37f,#38f,#38f,#38f,#37f)"></i><i style="background:linear-gradient(#2ba,#1bb,#1bb,#1bb,#1ac,#1ad,#29d,#29d,#1ac,#1ab,#2ab,#1ac,#2ad,#29e,#38e,#38e,#38f,#37f,#37f,#38e,#5c8,#6c6,#9c5,#ab3,#bb3,#cb3,#bb4,#8c6,#7c6,#8c5,#cb3,#8b5,#29e,#2ad,#2ad,#2ad,#29e,#38e,#38e,#2ad,#1bb,#1bb,#1ac,#2ad,#3ad,#48e,#46e,#38e,#2ad,#1ad,#2ad,#0bc,#3ba,#1bc,#29e,#39e,#29e,#38e,#38f,#37f,#38e,#29e,#2ad,#29e,#38f,#37f,#46f)"></i><i style="background:linear-gradient(#3ba,#1bb,#2ad,#38e,#37e,#46e,#46e,#46e,#45e,#45e,#45e,#46f,#37f,#38f,#38f,#38e,#38f,#37f,#46f,#46f,#2ad,#2ac,#1bc,#2ba,#6c6,#cb3,#eb4,#db4,#db4,#db4,#bb3,#2ba,#38f,#2ad,#2ad,#29e,#37f,#46f,#37f,#38e,#29e,#29d,#29d,#29e,#29e,#29e,#29e,#38e,#38e,#29e,#29e,#29e,#39e,#29e,#38e,#38e,#29e,#29e,#38e,#29e,#3ba,#1bc,#38e,#38f,#37f,#46f,#46f)"></i><i style="background:linear-gradient(#38e,#38e,#39e,#2ad,#1ac,#1ac,#1ac,#1ad,#29e,#37f,#37f,#37f,#38e,#38e,#38e,#37f,#37f,#37f,#37f,#37f,#38e,#38e,#29d,#1bc,#2ac,#39d,#3ad,#1bb,#2ba,#1bc,#3ad,#38e,#46f,#29e,#38e,#38f,#38e,#38f,#38f,#38e,#29e,#29e,#29e,#29e,#29d,#29d,#29d,#29e,#38f,#37f,#46f,#45e,#45e,#46f,#37f,#37f,#38f,#38e,#38e,#29e,#2bb,#2ad,#37f,#46f,#46f,#46f,#46f)"></i><i style="background:linear-gradient(#38e,#37f,#37f,#46f,#46e,#45e,#46e,#47f,#38f,#38e,#0ac,#3ba,#4b9,#4b9,#3ba,#2bb,#1ad,#28e,#38f,#38e,#3ba,#4b9,#3ba,#1ac,#2ad,#2ad,#29d,#29d,#2ad,#2ac,#1bc,#29d,#46f,#38e,#39e,#29e,#29e,#29e,#29e,#29e,#38e,#29e,#29d,#2ad,#3ba,#5c8,#3c9,#1bc,#29e,#38e,#46f,#44e,#45e,#37f,#38f,#37f,#37f,#37f,#37f,#37f,#37f,#37f,#38f,#37f,#38e,#38e,#38e)"></i><i style="background:linear-gradient(#46e,#45e,#44d,#44d,#45e,#37f,#38e,#29e,#1ad,#1ad,#2ad,#39e,#38e,#38e,#38e,#29d,#1ad,#1ad,#29d,#38e,#47e,#37e,#38e,#38e,#39e,#2ad,#2ad,#1ad,#1bb,#6c7,#bb3,#3c9,#46f,#39e,#1ad,#2ad,#39e,#46e,#46e,#38f,#29e,#2bb,#4b9,#4b9,#4c9,#5c8,#5c7,#4c8,#2bb,#29d,#38e,#37e,#38e,#38f,#46f,#45e,#44d,#43b,#43c,#45e,#46f,#37f,#29e,#1ac,#3b9,#3c9,#1bb)"></i><i style="background:linear-gradient(#3ba,#1ac,#1ad,#1ad,#1ad,#2ad,#2ad,#2ad,#1ad,#1ad,#2ad,#29d,#38e,#38f,#37f,#37f,#46f,#46f,#47f,#38e,#3ba,#3ba,#3ba,#4c9,#4c9,#1bb,#39d,#39d,#2ac,#2ba,#6c6,#3c9,#37f,#29d,#1bb,#3c9,#3ba,#2ad,#2ad,#2ad,#29e,#47f,#46e,#46e,#47e,#38e,#39d,#2ad,#1bc,#1bb,#3ba,#2bb,#29e,#37f,#44e,#43c,#43b,#43b,#43c,#46f,#38f,#29e,#1ac,#2ba,#4c8,#4c8,#3c9)"></i><i style="background:linear-gradient(#29d,#39e,#38e,#38e,#37e,#46e,#46e,#45e,#45e,#45e,#45e,#45e,#45e,#45f,#46f,#46f,#47f,#37f,#37f,#29e,#bb4,#cb4,#ab4,#3c9,#2ba,#8c5,#db5,#dc4,#db5,#ab4,#6c7,#3ba,#46f,#37f,#29e,#1bc,#5c8,#4b9,#5c8,#4b9,#2ad,#38f,#45e,#44c,#45e,#37f,#29e,#2ad,#0bc,#2ba,#1bb,#2ad,#38e,#47f,#37f,#38e,#38e,#37e,#37e,#37f,#38f,#39e,#29d,#2ad,#2ad,#29d,#29e)"></i><i style="background:linear-gradient(#4b9,#3b9,#4b9,#4b9,#4b9,#3ba,#3bb,#1ac,#29e,#38e,#38e,#38e,#37e,#37f,#37f,#37f,#37f,#37f,#37f,#37f,#48e,#39d,#1bb,#6c7,#8c5,#3b9,#3ad,#48e,#56d,#56d,#56d,#47e,#45e,#38e,#29e,#29d,#39d,#37e,#37e,#38e,#38e,#39e,#29e,#38e,#29e,#29e,#29d,#29e,#29d,#2ad,#0bc,#0bc,#1ad,#2ad,#0bc,#3ba,#4c8,#3b9,#1bb,#29d,#38e,#38e,#29e,#1bc,#1bc,#29e,#38e)"></i><i style="background:linear-gradient(#44c,#44d,#44d,#46e,#37e,#38e,#38e,#38e,#37f,#46f,#45e,#45e,#45e,#45e,#46f,#47f,#37f,#37f,#37f,#38e,#29d,#29d,#2ad,#2ad,#2ad,#2ad,#39d,#2ac,#5b8,#bb3,#db3,#4b9,#37f,#38e,#38e,#46f,#45e,#46f,#29e,#3ba,#5c8,#3c9,#1bc,#39d,#39d,#29e,#1ad,#1bb,#0bc,#2ad,#29e,#2ad,#1bc,#0bc,#1bb,#3ca,#3c9,#2ba,#0bc,#2ad,#29e,#38e,#29d,#2bb,#3ba,#2ad,#38e)"></i><i style="background:linear-gradient(#0ac,#29d,#38e,#37f,#45e,#44d,#44d,#45e,#46f,#38f,#29d,#1ac,#1ac,#1ad,#29e,#38e,#37f,#46e,#46e,#38e,#4c9,#3ba,#0bc,#1bc,#0bc,#5c8,#cb4,#dc4,#dc4,#dc3,#ec3,#9c5,#37f,#2ad,#1ad,#29e,#37f,#45e,#46f,#29d,#2ba,#6c7,#7c6,#7c6,#5c8,#1ac,#29d,#1ad,#1ad,#29e,#38e,#29e,#0bc,#1bb,#0bb,#1ad,#29d,#29d,#29d,#29e,#38f,#46f,#37f,#29d,#2ad,#29e,#37f)"></i><i style="background:linear-gradient(#1ac,#2ad,#2ad,#1ac,#3bb,#3ba,#3ba,#1ac,#29e,#38f,#38f,#38e,#29d,#0ac,#3ba,#3ba,#3ba,#3ba,#3ba,#5b8,#7c6,#1bc,#1ad,#1bc,#0bc,#1bc,#2bc,#2ac,#2bc,#1bc,#3ac,#39d,#46f,#1ad,#1ac,#2ad,#29e,#38f,#29e,#1ad,#2ba,#4c9,#3ba,#2ad,#38e,#47e,#45e,#46e,#46e,#46f,#37f,#38e,#1ad,#2ba,#1ad,#38e,#37f,#38e,#2ad,#29e,#46f,#43c,#43c,#45e,#38e,#39e,#38f)"></i><i style="background:linear-gradient(#29e,#38e,#37f,#37f,#46e,#46e,#46e,#46e,#45e,#46e,#46e,#46e,#46e,#46e,#46e,#37e,#38e,#37e,#37e,#37e,#2ad,#2ad,#1ad,#0bc,#0bb,#0bc,#1bc,#0bb,#1bb,#1bc,#2ad,#38e,#46f,#1ac,#3ba,#2bb,#2ad,#38f,#38e,#38e,#38e,#38e,#29e,#29d,#1bc,#2bb,#2bb,#2bb,#1bb,#1ad,#38e,#38f,#38e,#2ad,#1ad,#29e,#38e,#29e,#0bc,#2ad,#46f,#43c,#43b,#44e,#37f,#38e,#38e)"></i><i style="background:linear-gradient(#28e,#38f,#37f,#47f,#46e,#46e,#46e,#38e,#29d,#1bc,#2bb,#2bb,#2bb,#3ba,#2bb,#1ac,#38f,#46f,#44d,#45e,#2ad,#1ad,#1ac,#0bc,#1bb,#1bb,#1bb,#0bc,#1ad,#2ac,#2bc,#1ac,#46f,#38e,#38e,#38e,#38e,#46f,#46f,#46f,#37f,#38f,#29e,#1ac,#4b9,#6b7,#5c8,#3b9,#2bb,#1ad,#29e,#29e,#29e,#1ad,#1bb,#2ba,#1bb,#1ac,#1ad,#2ad,#38e,#37f,#37f,#37f,#38e,#38e,#39e)"></i><i style="background:linear-gradient(#1bc,#2ad,#1ad,#2bb,#3b9,#3b9,#3ba,#2bb,#0ac,#2ad,#29e,#38e,#38e,#38e,#29e,#29d,#29d,#29e,#29e,#29d,#2bb,#2ba,#1bb,#1bb,#2ba,#6c7,#5c7,#2ba,#3ba,#9c4,#cb3,#3c9,#46f,#37f,#29e,#2ad,#29d,#38e,#38e,#29e,#29e,#37f,#46e,#45d,#44c,#45d,#38e,#29d,#29e,#29e,#38e,#28e,#29e,#0bc,#6c7,#8c5,#7c6,#4c8,#1bb,#1ad,#2ad,#29d,#29e,#38e,#38e,#38e,#29e)"></i><i style="background:linear-gradient(#1bb,#2bb,#3ba,#3ba,#2bb,#29d,#38e,#46e,#45e,#45e,#45e,#45e,#46f,#45e,#45e,#45e,#45e,#45e,#44e,#46f,#5c8,#ab4,#bb3,#bb3,#7c6,#3c9,#4c8,#8c5,#8c5,#6c7,#6c7,#1bc,#46f,#38e,#2ad,#2bb,#3ba,#2bb,#3ba,#1bb,#29e,#29e,#1ad,#1ac,#29e,#38e,#38e,#29e,#29e,#29e,#2ad,#0bc,#2bb,#3c9,#7c6,#9c4,#9c4,#8c5,#3ca,#2ad,#29e,#38e,#37f,#46f,#37f,#38e,#29d)"></i><i style="background:linear-gradient(#44c,#44c,#44c,#44d,#44d,#46f,#38f,#29e,#1ad,#1ad,#29d,#38e,#47e,#45e,#44d,#44d,#44d,#44d,#45e,#37f,#3ba,#4b9,#6c7,#7c6,#5c8,#3ba,#2bb,#3ba,#2bb,#1bc,#2ad,#28e,#37f,#2ad,#29e,#39e,#29d,#2ad,#1ac,#2ad,#29e,#29d,#29d,#28e,#38e,#38e,#37f,#46f,#46f,#37f,#38e,#29e,#29e,#1ac,#4c8,#7c6,#8c5,#7c5,#5c7,#4c9,#2ba,#2ad,#38e,#38e,#38e,#29e,#29d)"></i><i style="background:linear-gradient(#5b8,#3ba,#1ad,#28e,#38e,#38f,#38e,#29e,#29e,#2ad,#1ac,#3ba,#4b9,#4b9,#4b9,#3ba,#2ab,#1ad,#29e,#37f,#46f,#37e,#38e,#38e,#47e,#47e,#37f,#39e,#2ad,#2ad,#1ad,#29d,#45f,#38f,#29e,#29e,#29e,#37f,#37f,#38f,#29d,#3b9,#3b9,#2bb,#3ba,#3ba,#1bb,#29e,#37f,#45e,#46e,#38e,#29e,#29e,#29d,#2ad,#1bb,#3ba,#3ca,#3ca,#3ba,#2bb,#1bb,#2ba,#3ba,#1bb,#2ad)"></i><i style="background:linear-gradient(#3ba,#0bc,#29d,#38e,#38e,#38e,#38e,#38f,#37f,#46f,#45e,#44d,#44d,#45d,#46e,#46e,#46e,#46e,#47f,#37f,#46e,#46e,#46e,#47e,#38e,#29d,#2ad,#2ad,#2ad,#1ac,#0bc,#1ad,#46f,#37f,#38e,#38e,#37f,#45e,#46e,#47e,#38e,#37e,#38e,#39e,#29d,#29d,#29e,#29e,#39e,#29d,#3ba,#3ba,#2ad,#29e,#38e,#38e,#29e,#1ad,#1bc,#2ad,#2ad,#1bb,#4c8,#7c5,#8c5,#6c7,#3ba)"></i><i style="background:linear-gradient(#38e,#38e,#38e,#2ad,#1ac,#1ad,#29e,#38e,#37f,#47f,#46f,#37f,#37f,#47f,#37f,#38f,#29e,#2ad,#1ad,#0bc,#4b9,#6b7,#9b5,#8b6,#4c9,#3ba,#5c7,#5c8,#3ca,#2ba,#2ac,#38e,#46f,#29e,#29e,#38e,#38e,#38e,#1bc,#4b8,#5b8,#0ac,#29e,#38e,#38e,#39e,#29e,#2ad,#3ba,#5b8,#7c7,#7c6,#5b8,#1ac,#38e,#38e,#29d,#2ad,#2ac,#2ad,#0bc,#3c9,#5c7,#5c7,#4c9,#3ba,#1bb)"></i><i style="background:linear-gradient(#29e,#38e,#37f,#37f,#46e,#45e,#44d,#44d,#45e,#47f,#38e,#2ad,#2bb,#2bb,#1ac,#2ad,#29e,#29e,#29e,#1bb,#3c9,#3ac,#39d,#2ad,#1bc,#1bb,#2bb,#1bb,#4c8,#bb3,#cb4,#4c8,#37f,#29e,#2ad,#2ad,#2ba,#3ba,#3ba,#2ad,#38e,#28e,#29e,#1ad,#3c9,#4c9,#1bc,#39d,#38e,#37e,#47e,#47e,#46e,#46e,#46f,#38e,#1bb,#6c7,#5c7,#2bb,#2bb,#3ba,#2ba,#2ad,#39e,#39e,#29e)"></i><i style="background:linear-gradient(#38e,#46f,#45e,#44e,#45e,#46e,#37e,#29d,#0ac,#2bb,#0bc,#29e,#38e,#37f,#37f,#37f,#37f,#37f,#37f,#1ad,#9b5,#ab4,#6c7,#0bc,#1bb,#3c9,#7c6,#9c5,#8c5,#7c6,#5c8,#1bb,#38f,#3ba,#7c6,#7c6,#3ba,#38e,#37e,#38e,#29e,#1ac,#2bb,#2bb,#2ba,#4c9,#5b7,#6b7,#3ba,#29e,#38f,#47f,#47f,#46f,#46f,#29e,#3c9,#bb3,#9c4,#1bb,#29e,#38e,#38e,#38e,#38e,#29e,#2ad)"></i><i style="background:linear-gradient(#37f,#37f,#38e,#29d,#1ab,#2ab,#2ab,#1ac,#2ad,#38e,#38f,#37f,#37f,#37f,#37f,#47f,#46e,#45e,#44d,#44c,#57d,#48d,#39d,#1bc,#2ba,#2bb,#1bb,#1bb,#1bb,#2ac,#2ad,#29d,#45e,#47e,#39d,#39d,#37f,#45e,#45e,#45e,#45e,#46f,#38e,#38e,#38e,#37e,#46e,#46d,#47e,#38e,#29e,#39e,#39e,#29e,#29e,#29e,#2ad,#2ac,#1bc,#2ad,#38e,#38f,#37f,#37f,#38f,#38e,#29e)"></i><i style="background:linear-gradient(#3ba,#1ad,#38e,#37f,#45d,#44c,#44c,#45d,#46e,#37f,#37f,#37f,#37f,#37f,#38e,#1ac,#3ba,#3ba,#3ba,#5b8,#ab4,#9b5,#8b5,#5c8,#1bb,#1bc,#0bc,#0bc,#0bb,#1bb,#3ba,#0bc,#37f,#2bb,#3c9,#1bc,#29e,#38e,#2ad,#2ad,#29d,#38e,#38f,#38f,#29e,#29e,#1bb,#3b9,#3ba,#1ad,#39e,#37f,#47f,#37f,#38e,#38e,#38e,#38f,#28e,#29e,#1ad,#1ac,#2ad,#38e,#38f,#37f,#37f)"></i><i style="background:linear-gradient(#1bb,#1ab,#1ac,#2ab,#3ba,#3b9,#4b9,#3b9,#3ba,#1bb,#1ad,#29e,#38e,#37f,#45e,#44d,#44d,#44d,#44d,#46e,#2ac,#2ac,#2ad,#2ad,#0bc,#0bc,#1ad,#2ad,#1ac,#2ba,#7c6,#3ba,#29e,#3ba,#3b9,#1bb,#1ac,#1ac,#4b9,#4c9,#1bb,#29d,#28e,#38f,#38f,#38f,#38e,#39e,#29e,#29e,#29e,#2ad,#2ad,#29e,#29e,#39e,#38e,#38e,#29e,#1ac,#2ba,#1bb,#2ad,#2ad,#39d,#38e,#38f)"></i><i style="background:linear-gradient(#44d,#44d,#44d,#44d,#45d,#46e,#47e,#37e,#37f,#37f,#37f,#37f,#38f,#37f,#37f,#46f,#46f,#46f,#46f,#46f,#29e,#2ad,#1ad,#1ad,#2ad,#2ac,#1bc,#3ba,#3ba,#1bc,#2ad,#29d,#47f,#38e,#46e,#45e,#45d,#44d,#46e,#39e,#0bc,#2bb,#1bc,#2ad,#29d,#29d,#29e,#39e,#39e,#29e,#29e,#29e,#2ad,#2ad,#29e,#38e,#38e,#29e,#2ad,#1ac,#2ad,#29e,#2ad,#4b9,#8c6,#3ba,#2ad)"></i><i style="background:linear-gradient(#2ac,#39d,#39d,#29d,#29e,#38e,#38f,#37f,#37f,#37f,#37f,#37f,#37f,#37f,#38e,#38e,#29e,#29e,#29e,#29e,#29e,#29e,#2ad,#1bc,#3ba,#8c5,#9b4,#5c7,#1bb,#1bc,#1ac,#1ad,#46f,#39e,#1ad,#3ba,#1ac,#37f,#46f,#46e,#38e,#2ad,#2bb,#2ba,#0bc,#1ad,#1ac,#3ba,#3ba,#1ad,#29e,#38e,#37f,#47f,#47f,#38f,#39e,#1ad,#0bc,#29d,#38e,#38e,#1ac,#cb3,#ee2,#eb4,#3ba)"></i><i style="background:linear-gradient(#6b7,#5b8,#4b9,#2bb,#29e,#38f,#37f,#37f,#37f,#37f,#37f,#38e,#2ad,#2bb,#3ba,#3ba,#1ac,#38e,#37f,#38e,#2ba,#0bc,#1bc,#1bc,#2ad,#3ac,#2ac,#2ba,#4c8,#4c8,#3b9,#2ad,#46f,#29e,#1ad,#2ad,#29e,#38e,#38e,#39d,#2ad,#2ad,#1bc,#1ac,#29e,#37f,#45e,#45d,#46e,#38e,#38e,#38f,#46f,#46f,#47f,#38e,#29e,#1ad,#1bc,#2ad,#29e,#2ad,#3ca,#cb3,#fc3,#db3,#6c6)"></i><i style="background:linear-gradient(#44c,#44d,#44d,#44d,#46e,#47f,#37f,#46f,#45e,#44d,#44d,#44d,#46e,#47f,#37e,#37f,#47f,#45e,#44d,#46e,#1bb,#2bb,#1bb,#0bc,#0bc,#3ba,#4c8,#6c6,#ab4,#bb3,#bb4,#5c8,#46f,#37f,#38e,#29e,#2bb,#3b9,#5b8,#6b7,#4c9,#1ad,#29e,#37f,#37f,#38e,#29e,#1ac,#3ba,#2bb,#29e,#38f,#46f,#46f,#47f,#37f,#38e,#29e,#2ad,#0bc,#2ba,#5c8,#6c6,#8c5,#ac4,#ac4,#6c7)"></i><i style="background:linear-gradient(#37f,#46f,#37f,#38e,#29d,#1ad,#2ad,#2ad,#1ad,#0ac,#1bb,#1ac,#38e,#37f,#46f,#46f,#37f,#29e,#1ac,#2bb,#1bc,#2ba,#3c9,#2bb,#1bb,#3c9,#2ba,#1bb,#1bc,#1bb,#1bb,#2ad,#46f,#29e,#2ad,#29e,#39e,#47f,#47e,#37e,#38e,#38e,#38f,#38f,#38e,#29e,#29d,#29d,#39d,#38e,#37f,#46f,#46f,#38e,#29e,#29e,#39e,#39e,#29e,#0bc,#4c8,#7c6,#6c6,#4c9,#4c9,#4c8,#3c9)"></i><i style="background:linear-gradient(#29d,#29d,#1ad,#0ac,#1ac,#2ad,#29d,#29e,#2ad,#1ac,#1bc,#0ac,#1ad,#29e,#38f,#37f,#37f,#47f,#37f,#38e,#2ba,#3c9,#3c9,#4c8,#7c6,#5c7,#5c8,#5c8,#1bb,#2ad,#39d,#37e,#45f,#38e,#38e,#38f,#37f,#46f,#37f,#38f,#28e,#29e,#2ad,#1bc,#2ad,#29d,#1ad,#2bb,#2bb,#2bb,#1ac,#1ad,#29e,#29e,#29e,#29e,#29e,#29e,#29e,#2ad,#3ba,#4c8,#3ba,#2ad,#29e,#39e,#29d)"></i><i style="background:linear-gradient(#6c7,#3ba,#29e,#37f,#45e,#44d,#45e,#46f,#37f,#47f,#45e,#45d,#45e,#47f,#37f,#38f,#38f,#38f,#38e,#2ad,#1bb,#1bc,#1ac,#2bc,#2bb,#1bb,#1bb,#1bb,#3b9,#8c5,#9b5,#3ba,#37f,#1ad,#2ad,#38e,#46f,#45e,#37f,#29e,#0bc,#3ba,#4b9,#5b8,#4b9,#2bb,#29e,#38e,#38e,#38f,#37f,#38e,#38e,#38e,#38f,#37f,#37f,#37f,#46f,#46f,#37f,#38e,#38e,#38f,#37f,#37f,#38e)"></i><i style="background:linear-gradient(#38e,#38e,#38f,#37f,#37f,#37e,#38e,#38e,#38f,#38e,#38e,#29d,#0ac,#1ac,#29d,#38e,#37f,#37f,#37f,#37f,#39e,#29d,#2ad,#4c9,#9c4,#9c4,#9c4,#bb4,#cb4,#9c5,#1bb,#29d,#46f,#29e,#28e,#38e,#38e,#38e,#29e,#0bc,#1ad,#38e,#46e,#46e,#46e,#46e,#47f,#37f,#38e,#29e,#2ad,#1ad,#1ad,#29e,#38e,#38e,#29e,#39e,#38e,#46f,#45e,#45e,#45e,#46f,#46f,#37f,#38e)"></i><i style="background:linear-gradient(#46f,#46f,#46f,#37f,#38f,#29e,#1ac,#1bb,#2bb,#2bb,#2bb,#0ac,#29d,#38e,#37f,#37f,#47f,#46f,#46f,#38f,#5c8,#7c6,#6c7,#4c8,#3c9,#3c9,#3ba,#1bb,#2bc,#2ac,#1bc,#2ad,#46f,#38e,#1bc,#7c6,#6c7,#3ba,#2bb,#29d,#38e,#38f,#38e,#38e,#39e,#29e,#2ad,#2ad,#29d,#1ad,#2ba,#3c9,#0bc,#29e,#39e,#29e,#1bb,#5c8,#4b9,#2ac,#38e,#37f,#37f,#37f,#38f,#38e,#29e)"></i><i style="background:linear-gradient(#47e,#46e,#46f,#47f,#47f,#47f,#47f,#37f,#37e,#37e,#47f,#45e,#44d,#44d,#44e,#46e,#46f,#47f,#47f,#38e,#4c9,#4c8,#3ba,#1bc,#1ac,#1bc,#2ad,#29d,#2ad,#1bc,#0bc,#2ad,#46f,#38e,#2ad,#2ad,#39d,#38e,#38e,#38f,#37f,#38f,#29e,#29e,#29e,#2ad,#2ba,#3ba,#1bc,#1ac,#0bc,#1bb,#1bc,#2ad,#29e,#29d,#3ca,#db3,#eb4,#9c4,#2bb,#29e,#38e,#29e,#38e,#38e,#29e)"></i><i style="background:linear-gradient(#4b9,#3ba,#2bb,#29d,#38f,#46e,#44d,#44d,#44d,#44d,#44d,#44d,#46e,#38e,#29d,#1ad,#1ac,#1ac,#2bb,#3ba,#3ba,#2ad,#2ad,#2ad,#29e,#28e,#38e,#38e,#3ad,#1bc,#1bb,#2ad,#46f,#29e,#29e,#29e,#39e,#38e,#38e,#38f,#38f,#38e,#29e,#38e,#29e,#0bc,#5b8,#4b9,#2ad,#38e,#38e,#38e,#39e,#29d,#2ad,#2ad,#2bb,#9c5,#bb3,#9c4,#0bb,#38e,#38e,#39e,#29e,#29e,#29e)"></i><i style="background:linear-gradient(#29d,#38e,#38e,#28e,#2ad,#3ba,#3b9,#4b9,#3b9,#3b9,#3b9,#3b9,#3ba,#2bb,#0bc,#2ad,#28e,#37f,#47f,#47e,#38e,#38e,#38e,#39e,#3ad,#2ac,#3ba,#8c6,#9c4,#9c4,#cb4,#8c5,#29d,#1ac,#1ad,#0ac,#3ba,#2bb,#1ac,#29e,#29e,#29e,#1bc,#3ba,#1bc,#29e,#45e,#44b,#44c,#46e,#38e,#1bc,#5b8,#6c7,#3c9,#1ac,#2ad,#1bb,#5c7,#5c8,#1bc,#38e,#38e,#38e,#39e,#38e,#38e)"></i><i style="background:linear-gradient(#38e,#29e,#2ad,#1ad,#1ad,#2ad,#1ac,#1ac,#2ad,#38e,#38e,#38e,#29d,#1ac,#1ac,#2ad,#29e,#38e,#38f,#37e,#48e,#39d,#2ba,#5c7,#9b4,#cb5,#db4,#eb4,#ab4,#3c9,#1bb,#2ad,#46f,#29d,#2ad,#28e,#46e,#44d,#45e,#47f,#37f,#37f,#37f,#38e,#29d,#29d,#1ad,#1ac,#1ad,#1ad,#2ad,#29e,#39e,#39d,#2ba,#3c9,#1bb,#0bc,#1bc,#1bc,#1ad,#29e,#29e,#2ad,#2ad,#38e,#37f)"></i><i style="background:linear-gradient(#38e,#46e,#44d,#44d,#44d,#44d,#44d,#44d,#44d,#44d,#44d,#45e,#45e,#45e,#46e,#46e,#37f,#38f,#2ad,#3b9,#bb4,#bb4,#bb4,#9b5,#3ba,#3ad,#39d,#39d,#39d,#2ac,#0bc,#1ad,#38f,#3ba,#3c9,#1ac,#38e,#46f,#46f,#37f,#29e,#29e,#38e,#47f,#44d,#44b,#45d,#37f,#29e,#29e,#38e,#39e,#1ad,#4c9,#6c6,#7c6,#5c7,#1bb,#2ad,#1ad,#0bc,#2bb,#3ba,#4c8,#4c8,#2ad,#38f)"></i><i style="background:linear-gradient(#1bb,#1bc,#0ac,#1ac,#1ac,#1ac,#2ad,#29e,#28e,#28e,#29d,#2ad,#1ad,#1ac,#2ab,#3bb,#2ab,#1ac,#28e,#37e,#47e,#57d,#57d,#47e,#38e,#39e,#39d,#2ac,#3ba,#5c7,#2ba,#2ad,#46f,#29d,#0bb,#1bb,#0bc,#29e,#29e,#29d,#0bc,#1bc,#1ac,#1ad,#1bb,#3ba,#1ad,#38f,#45e,#44d,#46f,#38e,#2ad,#2ad,#1bc,#3ba,#4c9,#2bb,#1ac,#0bc,#3c9,#6c6,#8c5,#8c5,#7c6,#2ba,#29e)"></i><i style="background:linear-gradient(#0bc,#2ad,#29e,#38e,#38f,#37f,#37f,#38f,#38f,#38e,#38e,#38f,#37f,#47f,#46e,#45e,#44d,#44d,#44d,#44d,#2ba,#6c7,#5c7,#4c9,#4c9,#6c7,#8c6,#6c7,#3c9,#2ba,#1bb,#1ad,#46f,#29e,#1ad,#2ad,#29d,#38e,#29d,#1ad,#1ad,#0bc,#1bb,#1bb,#1bb,#0bc,#2ad,#29e,#28e,#39d,#39d,#38e,#37f,#47f,#37f,#38e,#39e,#39e,#29e,#29e,#2ad,#3c9,#6c6,#6c6,#4c8,#0bc,#29e)"></i><i style="background:linear-gradient(#37f,#47f,#46f,#46f,#46f,#46f,#47f,#37f,#38e,#29e,#29e,#38e,#38f,#38f,#37f,#37f,#37e,#38e,#29d,#3b9,#7c6,#5c8,#4c8,#3c9,#2ba,#1bb,#1bb,#1bc,#1bc,#1bb,#1bb,#0bc,#46f,#38e,#29d,#1bc,#1bb,#29e,#29d,#1ac,#1bc,#1ac,#1ad,#1ad,#2ad,#29e,#38e,#29e,#1bc,#3c9,#4c8,#3ba,#2ad,#38e,#37f,#37f,#38f,#38e,#38e,#38f,#39e,#2ad,#1bb,#1bb,#0bc,#1ac,#2ad)"></i><i style="background:linear-gradient(#38e,#37f,#37f,#38f,#38e,#28e,#38e,#38f,#37f,#37f,#46f,#47f,#37f,#38f,#38f,#29e,#1ac,#1ac,#0ac,#29d,#2ad,#1bc,#1bb,#2ba,#3ba,#1ac,#2ad,#0bb,#3c9,#4c8,#5c7,#1bc,#46f,#38e,#29e,#29e,#29d,#38e,#38e,#38e,#38e,#38f,#38e,#29e,#29e,#38e,#37e,#38e,#29d,#1bc,#3c9,#3c9,#1ad,#38e,#37f,#37f,#29e,#2ac,#2ac,#39e,#38e,#38e,#29e,#29e,#2ad,#0bc,#2bb)"></i><i style="background:linear-gradient(#2bb,#0bc,#1ad,#1ac,#0bc,#0bc,#1ad,#29e,#38f,#38f,#38e,#29e,#29e,#29e,#38f,#37f,#46f,#46e,#46e,#47f,#38e,#29e,#29e,#39e,#39e,#2ad,#2bb,#3c9,#2bb,#3ba,#6c6,#5c8,#29e,#1bc,#29d,#38f,#46f,#46f,#38f,#29e,#29e,#38e,#38f,#38e,#29e,#2bb,#4b8,#5b8,#4b8,#3b9,#1bb,#2ad,#29e,#38f,#47f,#38f,#2ad,#5c7,#8c5,#4c8,#2ad,#29e,#38e,#38e,#38e,#1ad,#3b9)"></i><i style="background:linear-gradient(#2ad,#1ac,#0ac,#1ac,#2ad,#29d,#29e,#29e,#29e,#29e,#38e,#38e,#38f,#37f,#46e,#45e,#44d,#44d,#44d,#46e,#38e,#38e,#38d,#38e,#39d,#3ad,#3ac,#3ac,#39d,#28e,#38e,#47e,#45e,#38f,#29e,#38e,#38f,#46f,#37f,#37f,#38f,#38f,#38f,#38f,#29e,#29d,#39d,#39d,#38e,#38e,#37f,#38e,#2ad,#2ad,#29e,#29e,#1bb,#6c6,#8c5,#7c6,#4c8,#0bc,#39e,#38f,#37f,#37f,#38e)"></i><i style="background:linear-gradient(#44d,#44d,#44d,#44d,#44d,#44d,#46f,#38e,#29d,#1ac,#1ac,#1ad,#1ad,#1ac,#1ab,#1ab,#1ac,#1ac,#2ab,#5b8,#8b5,#8c5,#bb4,#db5,#db5,#db5,#cb4,#ab4,#5c8,#1ac,#29d,#38e,#45f,#37f,#29e,#2ad,#2ad,#29e,#29e,#29e,#29e,#29e,#38e,#38e,#29e,#2ad,#5c8,#7b6,#6b7,#1ac,#38e,#37f,#38e,#29e,#29e,#2ad,#1bb,#4c8,#5c8,#4c8,#3ca,#0bc,#38e,#46f,#45e,#44e,#44d)"></i><i style="background:linear-gradient(#1ac,#29d,#29d,#28e,#37e,#46f,#45e,#44d,#44d,#44d,#44d,#44d,#44d,#44d,#44d,#46e,#46e,#45e,#44d,#45d,#2ac,#1bc,#2ac,#3ac,#3ac,#49c,#49c,#49d,#39d,#39d,#3ad,#2ad,#46f,#38f,#38e,#39e,#38e,#47f,#37e,#38e,#37e,#38e,#38e,#29e,#29e,#29e,#39e,#38e,#38e,#38f,#37f,#47f,#38f,#29e,#2ad,#29d,#29e,#2ad,#1bb,#3ca,#2bb,#29e,#46f,#45e,#44d,#43d,#43d)"></i><i style="background:linear-gradient(#28e,#38e,#38e,#39e,#29e,#29e,#29e,#29e,#38e,#38e,#38e,#38e,#38e,#38e,#38e,#38f,#38e,#37f,#37f,#46f,#29d,#2ad,#1ad,#3ba,#9b5,#bb4,#9c4,#7c6,#9c5,#bb3,#db4,#6c7,#38e,#1ad,#1ad,#2ad,#29e,#2ad,#3ba,#4c9,#4c9,#4b9,#3b9,#1bb,#2ad,#39d,#38e,#46e,#45d,#47e,#39e,#2ac,#1bc,#1bc,#2ad,#38e,#38f,#38e,#29d,#2ad,#38e,#46f,#44e,#43d,#43c,#43c,#43d)"></i><i style="background:linear-gradient(#2ad,#1ad,#2ad,#29e,#38e,#38e,#39e,#29e,#29e,#38e,#38f,#38f,#37f,#38f,#38e,#2ad,#1ad,#2ad,#29d,#2ad,#2ba,#3ba,#1bc,#2ad,#2ac,#2ba,#7c6,#ac3,#cb3,#cb3,#ac4,#1bb,#37f,#1ad,#1bc,#1ad,#2ad,#29e,#29d,#1bb,#4c8,#7c6,#7c6,#7c6,#7c7,#6c7,#6c7,#5b8,#5b8,#4b9,#4c9,#6c7,#7c6,#5c8,#1bb,#29e,#38f,#46f,#45e,#44d,#44d,#44d,#43d,#43d,#43d,#43d,#44d)"></i><i style="background:linear-gradient(#38e,#38f,#37f,#38f,#29e,#29e,#29e,#29e,#29e,#29e,#29d,#29d,#29e,#38f,#38f,#37f,#37f,#37f,#37f,#2ad,#3c9,#3c9,#2ba,#1bb,#1bb,#2bb,#3ba,#4c8,#6c6,#7c5,#6c7,#0bc,#47f,#1ad,#0bc,#2ad,#38e,#46f,#47f,#37f,#38e,#39d,#39d,#39d,#39d,#39d,#29d,#1ac,#1ac,#2ad,#2ad,#2ad,#3ac,#2ad,#1ad,#1ad,#45e,#43d,#43c,#43c,#43c,#43c,#43d,#43d,#43d,#44d,#44d)"></i><i style="background:linear-gradient(#37f,#45e,#45e,#47f,#38f,#29e,#29e,#29e,#38e,#38e,#29e,#29e,#38e,#38f,#37f,#37f,#37f,#37f,#37f,#38f,#2ba,#3ba,#2ba,#2ba,#3ca,#0bc,#2ad,#2ad,#1bc,#1bc,#1bb,#29d,#45e,#37f,#2ad,#2ad,#29d,#38e,#38e,#29e,#29e,#29e,#29e,#29e,#29e,#38f,#46e,#44d,#45e,#38e,#1ad,#3c9,#4c9,#2bb,#2ad,#29d,#45e,#44d,#43c,#43c,#43c,#43c,#43c,#43d,#43d,#43d,#43d)"></i><i style="background:linear-gradient(#1ad,#1ac,#1ad,#29e,#38e,#38f,#37f,#47f,#46f,#45e,#45e,#45e,#46e,#47f,#37f,#38e,#38e,#37f,#37f,#37f,#38e,#38e,#39d,#2ad,#2ac,#2ad,#29d,#29e,#29e,#29e,#38e,#37f,#46f,#29e,#1ad,#3b9,#4b9,#1ac,#29d,#29e,#39e,#37f,#46f,#46f,#38f,#38e,#38f,#37f,#37f,#38e,#29e,#1ad,#1bc,#2ad,#2ad,#0bc,#0ac,#28e,#45e,#43d,#43c,#43c,#43d,#43d,#43d,#43d,#43c)"></i><i style="background:linear-gradient(#2ad,#29e,#38e,#38e,#29e,#1ad,#1ad,#29d,#29e,#38e,#38e,#29d,#1ac,#3bb,#3ba,#3ba,#3ba,#2ab,#1ab,#3ba,#3ba,#3b9,#5c8,#4c8,#3c9,#3ba,#0bc,#2ad,#39d,#39d,#39d,#39d,#47f,#39e,#38e,#38e,#37e,#46f,#46f,#37f,#29e,#29e,#29e,#38e,#37f,#37f,#29e,#2ad,#1bb,#1ac,#2ad,#29d,#2ad,#29e,#39e,#2ad,#0bb,#1ac,#38e,#46f,#45e,#45e,#45e,#44e,#44d,#44d,#43d)"></i><i style="background:linear-gradient(#29e,#38e,#37f,#37f,#37f,#37f,#47f,#46f,#46f,#45e,#45e,#45d,#45d,#45d,#45d,#44d,#44d,#44d,#44d,#45d,#1bc,#2ac,#39d,#39d,#2ad,#2ac,#0bb,#3ba,#6c6,#bb4,#db4,#7c6,#38e,#29e,#29e,#38f,#46f,#46f,#38e,#2ad,#1ad,#29e,#29e,#37f,#46e,#47f,#2ad,#8c5,#dd4,#bb4,#2bb,#1ac,#1bb,#3b9,#4c8,#4c8,#3c9,#2ba,#2ad,#38e,#38f,#37f,#38e,#38e,#37f,#45f,#44e)"></i><i style="background:linear-gradient(#47f,#46f,#46e,#45e,#44d,#44d,#45f,#37f,#38f,#29e,#29d,#1ad,#1ac,#1ac,#29d,#38e,#37f,#37f,#37f,#37f,#0bc,#4c9,#8b5,#7c6,#3c9,#4c9,#5c8,#4c8,#3c9,#4c9,#5c8,#1bb,#46f,#38e,#29d,#29d,#29e,#37f,#38e,#39e,#29e,#29e,#2ad,#1ac,#2bb,#3ba,#2bb,#4b9,#5c8,#2bb,#29d,#29e,#0bc,#5c7,#7c6,#5c7,#3ca,#0bc,#2ad,#29e,#29e,#2ad,#0bc,#1ad,#38e,#46f,#46f)"></i><i style="background:linear-gradient(#1bc,#1ac,#1ad,#29e,#38e,#38e,#38f,#38f,#38f,#38f,#37f,#37f,#46e,#45d,#45e,#45e,#46f,#46f,#46f,#46f,#29d,#2ad,#2ac,#1bb,#0bb,#1bc,#1ac,#1bc,#1bc,#1bc,#1bc,#2ad,#46f,#1ad,#2bb,#2bb,#2ad,#38e,#2ad,#2bb,#0bc,#29d,#2ad,#2ba,#3ba,#2ad,#38e,#46e,#46e,#46e,#37f,#39e,#2ad,#2bb,#4c9,#3ba,#0bc,#1ad,#2ad,#29e,#29e,#2ad,#2ad,#29e,#38e,#39e,#38f)"></i><i style="background:linear-gradient(#38e,#37f,#37f,#37f,#38f,#29e,#29e,#29e,#38e,#38e,#29e,#1ad,#1ac,#1ac,#2ad,#29e,#38e,#37f,#37f,#38f,#29e,#2ad,#1ad,#1ad,#1ac,#0bc,#0bc,#1bb,#3ba,#3c9,#2ba,#2ad,#37f,#0bc,#2ba,#2ad,#38e,#46f,#47f,#38e,#29e,#29e,#28e,#38e,#38e,#29e,#1ad,#2ad,#39d,#39d,#39d,#39d,#39e,#29e,#39e,#39e,#29e,#1ad,#1bb,#2bb,#1bc,#2ad,#29e,#38f,#29d,#6c7,#1ac)"></i><i style="background:linear-gradient(#38e,#37f,#47f,#37f,#37f,#37f,#37f,#47f,#37f,#37f,#38e,#29e,#2ad,#1ad,#1ad,#1ad,#2ad,#29e,#29d,#1ad,#2ad,#29d,#2ad,#1bc,#0bb,#1bb,#2ba,#4c9,#4c9,#2ba,#1bb,#2ad,#45f,#29e,#4c8,#6c7,#2bb,#29e,#38e,#38e,#38e,#29d,#0ac,#1ad,#29e,#29e,#29d,#3c9,#7c6,#8c6,#8c6,#8b6,#4c9,#1ad,#29e,#38f,#37f,#37f,#38e,#0bc,#3b9,#3ba,#1ad,#38e,#29d,#4b8,#29d)"></i><i style="background:linear-gradient(#1ab,#2ad,#29e,#38f,#37f,#46f,#46f,#47f,#38f,#38e,#38e,#38e,#38f,#37f,#47f,#47f,#46f,#46f,#46e,#37f,#4c9,#5c8,#4c9,#3ba,#4c8,#8c5,#bb4,#db5,#db5,#cb4,#ab4,#3ba,#46f,#38e,#38e,#38e,#29e,#0bc,#3ba,#29e,#47f,#46e,#38e,#29d,#2ad,#1ad,#2bb,#4c9,#5c8,#4c9,#2ac,#39d,#2ad,#1bb,#1bb,#29d,#37f,#46f,#46f,#37f,#38e,#38e,#37f,#45e,#44d,#46e,#45e)"></i><i style="background:linear-gradient(#44d,#45e,#37f,#37f,#37f,#38f,#38e,#38e,#38e,#38f,#37f,#37f,#38f,#38e,#38e,#38e,#38e,#38e,#38e,#29e,#1bc,#2ac,#2ad,#2ad,#2ad,#3ad,#39d,#39d,#39d,#39d,#39d,#38e,#46f,#37f,#37f,#38e,#29e,#38e,#39e,#1ad,#3ba,#5b8,#6c7,#5c8,#3ba,#0bc,#29d,#39e,#39e,#39e,#39e,#39e,#2ad,#3c9,#5c8,#2bb,#29e,#37f,#46f,#45e,#44d,#43c,#43b,#43b,#43c,#43d,#44d)"></i><i style="background:linear-gradient(#38e,#38e,#38e,#38e,#39e,#38e,#38e,#38e,#37f,#38f,#38e,#2ad,#1bc,#1bb,#0bc,#2ad,#29e,#38f,#38f,#29e,#2bb,#3ba,#3ba,#0bc,#2ad,#29e,#29e,#2ad,#1ad,#0bc,#4c8,#5c8,#29e,#2ad,#1ac,#1bc,#2ad,#29e,#2ad,#2bb,#3ca,#1bb,#2ac,#2ac,#2ad,#29e,#38e,#39e,#29e,#1ad,#3ba,#4b9,#3ba,#0bc,#2ad,#29e,#38e,#38f,#46f,#45f,#44e,#43c,#43d,#44d,#44d,#44d,#44d)"></i><i style="background:linear-gradient(#4b9,#2bb,#0ac,#1bb,#3ba,#3ba,#3ba,#1bb,#2ad,#38e,#38f,#37f,#38f,#38e,#2ad,#1bb,#1bc,#29d,#37f,#46f,#45d,#46d,#47e,#38e,#39d,#3ad,#2bc,#2bc,#2ac,#2ac,#2bc,#2ac,#29e,#5c8,#7c6,#6c7,#3ba,#1ad,#29e,#29d,#2ad,#29e,#38e,#38e,#29e,#29e,#29e,#38e,#38f,#38e,#39e,#39d,#29d,#28e,#38e,#38f,#37f,#46f,#45f,#45e,#44e,#44d,#43d,#44d,#43c,#43c,#43c)"></i><i style="background:linear-gradient(#29d,#38e,#38f,#38f,#38e,#38e,#38e,#29e,#29e,#38e,#38e,#38e,#38f,#38f,#38e,#38e,#37f,#47f,#46f,#46f,#4b8,#7b6,#4b8,#3b9,#7c6,#db4,#dc4,#dd4,#dc4,#db5,#ab4,#5c8,#37f,#39e,#39d,#38e,#38e,#38f,#38e,#29e,#29e,#29e,#38e,#37f,#47f,#37f,#37f,#38f,#38f,#38e,#47f,#44d,#43c,#44e,#46f,#46f,#45e,#44d,#44d,#43c,#43c,#43c,#43c,#43c,#43b,#43b,#43b)"></i><i style="background:linear-gradient(#39e,#38f,#37f,#46f,#45f,#45e,#45f,#47f,#38f,#29d,#1ac,#1bb,#2ad,#38e,#37f,#47f,#37f,#38f,#29d,#2ba,#ac4,#ab3,#ab4,#ac4,#9c5,#6c7,#3b9,#3ba,#3ba,#1bb,#1bc,#29d,#46f,#39e,#29e,#2ad,#1ad,#2ad,#29e,#38e,#38f,#29e,#0bc,#3ba,#2bb,#29d,#38e,#47e,#46e,#46e,#46e,#37f,#46e,#44e,#43d,#43c,#43c,#43c,#43c,#43b,#43b,#43b,#43b,#43b,#43b,#43b,#43b)"></i><i style="background:linear-gradient(#38e,#38f,#37f,#46e,#46e,#46e,#47f,#47f,#47f,#46f,#46e,#46f,#37f,#38f,#29e,#1ac,#1ac,#1ac,#1bb,#3c9,#5c8,#1bb,#2bc,#1bb,#3ba,#1bb,#2ad,#29d,#2ad,#0bc,#0bc,#29d,#46f,#29e,#29e,#38e,#38f,#47f,#37f,#38e,#29e,#29d,#1bb,#4c9,#5c8,#4c9,#3ba,#4c8,#6b7,#6b8,#1ab,#45e,#43c,#43c,#43b,#43b,#43b,#43b,#43b,#43b,#43b,#43b,#43b,#43b,#43b,#43b,#43b)"></i><i style="background:linear-gradient(#29e,#2ad,#2bb,#3ba,#4b9,#3ba,#2ab,#29e,#38f,#38f,#38f,#38f,#37f,#46f,#46f,#46f,#46e,#46f,#37f,#38e,#2ad,#29e,#29d,#29d,#39e,#39e,#39d,#39d,#39d,#2ac,#3c9,#3ba,#46f,#38e,#29e,#38e,#37f,#45e,#46f,#37f,#38e,#29e,#29e,#39e,#39d,#29d,#1ac,#1bc,#2ad,#47e,#44c,#43c,#43b,#43b,#43b,#43b,#43b,#43b,#43b,#43b,#43b,#43b,#43b,#43b,#43b,#43b,#43b)"></i><i style="background:linear-gradient(#38e,#47f,#46e,#45e,#45e,#45e,#46e,#37f,#38f,#38f,#38e,#29e,#38e,#37f,#47f,#45e,#44d,#44d,#44d,#45e,#2ad,#1bc,#2ba,#2ba,#1bb,#5c8,#cb4,#eb4,#db4,#bb3,#7c6,#2ba,#46f,#38f,#29e,#29e,#39e,#37f,#38e,#29e,#29e,#29e,#29e,#29e,#38e,#37f,#29e,#2ad,#0bc,#1bc,#46f,#43c,#43c,#43c,#43b,#43b,#43b,#43b,#43b,#43b,#43b,#43b,#43b,#43b,#43b,#43b,#43b)"></i><i style="background:linear-gradient(#2bb,#1ac,#29d,#29e,#38e,#38e,#38e,#38f,#38f,#37f,#37f,#46f,#46f,#37f,#38e,#29d,#29d,#38e,#37f,#46e,#2ad,#2bb,#1bb,#1bc,#1ac,#1bc,#4c9,#db4,#ec3,#ed3,#ec3,#7c6,#46f,#46f,#38e,#38e,#37e,#46f,#47f,#38e,#39e,#29d,#1ad,#0bc,#2bb,#2bb,#0bc,#2ad,#29e,#28e,#37f,#37f,#45e,#44d,#43c,#43c,#43c,#43c,#43b,#43b,#43b,#43b,#43b,#43b,#43b,#43b,#43b)"></i><i style="background:linear-gradient(#38e,#28e,#38e,#2ad,#1bc,#2bb,#1bb,#1ad,#29e,#38e,#38e,#29e,#29d,#1ac,#1ab,#2bb,#2bb,#1ac,#1ac,#1ab,#1bc,#2ad,#29e,#29d,#1ad,#0bc,#1bb,#4c9,#9c5,#9c4,#5c8,#2ac,#37f,#0ac,#6c7,#6c7,#3b9,#1ad,#1ac,#2bb,#2ba,#1bb,#1ad,#29e,#29e,#29d,#2ad,#29e,#38e,#37f,#38e,#29e,#1ac,#1ad,#38e,#46f,#45e,#43d,#43c,#43c,#43c,#43b,#43b,#43b,#43b,#43b,#43b)"></i><i style="background:linear-gradient(#1bb,#1bb,#2bb,#1bc,#1ad,#29e,#38e,#38e,#37f,#46f,#45e,#44d,#44d,#44d,#44d,#44d,#44d,#44d,#44d,#44d,#37f,#38e,#28e,#29d,#1ad,#0bc,#1ac,#29d,#39d,#39d,#29e,#38f,#46f,#29d,#29d,#2ad,#2ad,#0bc,#3ba,#5c8,#6c7,#5b8,#1ad,#38e,#38f,#38e,#29e,#29e,#2ad,#1bb,#2bb,#2ad,#29e,#29e,#29e,#38e,#37f,#46e,#45e,#44e,#44d,#43d,#43c,#43c,#43c,#43b,#43b)"></i><i style="background:linear-gradient(#0bc,#0ac,#2ad,#38e,#37f,#46f,#45e,#44e,#45e,#46f,#37f,#38e,#38e,#37e,#37f,#46f,#46e,#46e,#46e,#47e,#38e,#39d,#1bb,#4c8,#2ba,#1bb,#2ac,#39d,#48e,#38e,#2ad,#2ad,#46f,#38e,#29e,#2ad,#1ad,#38e,#39e,#39e,#38e,#46e,#45e,#46e,#47f,#47f,#37f,#29e,#0ac,#3b9,#3b9,#2bb,#1bb,#1bb,#1bc,#2ad,#1ad,#1ac,#2ad,#38f,#45f,#44e,#44e,#44d,#44d,#43d,#43c)"></i><i style="background:linear-gradient(#37f,#47f,#47f,#37f,#38e,#38e,#28e,#38e,#37e,#47f,#46e,#46e,#37f,#38e,#29e,#0ac,#2bb,#3ba,#3ba,#5b9,#8b6,#6c7,#7c5,#8c5,#7c6,#7c5,#8c5,#ab4,#bb4,#9b5,#7c6,#3ba,#46f,#38f,#29e,#29e,#37f,#46f,#38e,#1ad,#2bb,#3bb,#3ba,#2bb,#1ac,#2ad,#29d,#29e,#29e,#38e,#29d,#0bc,#0bc,#1ad,#1ac,#0bc,#0bb,#1bb,#0bc,#38e,#46f,#45e,#44e,#44e,#44e,#44e,#44e)"></i><i style="background:linear-gradient(#1ad,#1ad,#1ac,#1ac,#1bc,#1bc,#0bc,#1bb,#1bb,#1bb,#1bb,#1bb,#1bc,#0ac,#1ad,#2ad,#38e,#38e,#47e,#47e,#2ac,#3c9,#3c9,#1bb,#1bb,#1bb,#1bb,#2ba,#1bb,#2ac,#2ac,#29d,#46f,#1ad,#2bb,#1ad,#29e,#38f,#38e,#38e,#38e,#39e,#29d,#29d,#29d,#29e,#39e,#29d,#1bc,#3ba,#2bb,#29d,#29e,#29e,#1ac,#0bb,#2ba,#1bb,#2ad,#38e,#46f,#45e,#44e,#45e,#45e,#45e,#44e)"></i><i style="background:linear-gradient(#29e,#38f,#37f,#37f,#38e,#29e,#1ad,#1bb,#2ba,#2ba,#1bb,#2ad,#38e,#38e,#38f,#38e,#2ad,#1ac,#2bb,#4b9,#8c5,#7c6,#7c6,#6c6,#2ba,#1bc,#0bb,#1bb,#1bb,#1ad,#2ad,#29e,#46f,#29e,#29d,#29e,#2ad,#2ad,#29e,#38f,#37f,#29e,#2ad,#1bc,#0bc,#2bb,#3ba,#3ba,#3ba,#1bc,#29e,#37f,#38f,#29e,#2ad,#2bb,#3c9,#4c9,#1bb,#29e,#38f,#37f,#38f,#38e,#37f,#47f,#45f)"></i><i style="background:linear-gradient(#29e,#38e,#38f,#37f,#46f,#45e,#44d,#45e,#45e,#46e,#46e,#46f,#46f,#46f,#47f,#37f,#38f,#37f,#47f,#37e,#2ac,#1bb,#3c9,#6c7,#6c7,#4c8,#5c7,#8c5,#6c6,#2ba,#2ac,#39d,#46f,#2ad,#1ad,#2ad,#1ad,#1ac,#0bc,#2ad,#2ad,#1ad,#1ac,#1ad,#2ad,#2ad,#29d,#29d,#29d,#29e,#29e,#29e,#29e,#29e,#29e,#2ad,#3ba,#3b9,#2bb,#2ad,#38e,#38e,#29e,#2ad,#1ad,#38e,#46f)"></i><i style="background:linear-gradient(#38e,#37f,#37f,#37f,#37f,#37f,#46f,#46f,#37f,#37f,#38f,#38e,#29d,#1ac,#2bb,#1ac,#29e,#37f,#37f,#38e,#1bb,#2ac,#2ac,#2ac,#2bc,#2ba,#3ca,#1bb,#3ba,#ab4,#db5,#9b5,#38e,#29e,#2ad,#1ad,#1ad,#29e,#1ad,#2bb,#3ba,#0bc,#29e,#38e,#37f,#38e,#29e,#1ad,#2ad,#2ad,#2ad,#2ad,#1bc,#2ad,#29d,#38e,#37f,#37e,#38e,#38e,#38e,#37f,#46f,#46e,#45e,#45e,#45e)"></i><i style="background:linear-gradient(#29e,#38f,#37f,#46f,#46f,#47f,#37f,#37f,#37f,#37f,#38f,#38f,#38f,#38f,#37e,#47e,#46e,#45e,#46f,#38f,#9b4,#ab4,#8c6,#5c8,#6c7,#7c6,#5c7,#1bb,#1bc,#1bb,#2ba,#2ac,#47f,#1ad,#1ad,#29e,#37f,#46f,#38e,#29d,#29d,#29e,#29e,#29e,#29e,#29e,#39e,#29e,#2ad,#1bc,#3ba,#4c9,#6c7,#6c7,#4c9,#2ad,#38e,#37f,#38f,#38e,#37f,#44e,#44d,#44d,#44d,#44e,#44e)"></i><i style="background:linear-gradient(#39d,#38e,#38e,#38e,#38e,#38e,#38f,#37f,#46f,#45e,#45e,#46f,#37f,#38f,#29d,#2ab,#2ab,#1ad,#37f,#37f,#2ad,#39d,#39d,#39d,#2ad,#1bc,#1bb,#1bb,#2ba,#4c9,#2ba,#2ad,#46f,#38e,#38f,#38e,#37f,#45f,#45e,#45e,#45e,#46e,#37f,#38e,#37e,#38e,#39e,#29d,#29d,#29d,#29d,#29d,#2ac,#3ca,#5c7,#4c8,#1ac,#29e,#38e,#38f,#38f,#37f,#46f,#44e,#44d,#44e,#44e)"></i><i style="background:linear-gradient(#5b8,#3b9,#2bb,#1bc,#2ad,#29e,#38f,#37f,#37f,#37e,#38e,#38f,#37f,#37f,#46f,#45d,#44d,#45e,#46f,#38e,#1ad,#2ad,#2ac,#1bb,#1bb,#1ad,#29e,#39d,#3ad,#2ac,#1bc,#2ad,#47f,#29e,#2ad,#2ad,#29e,#37f,#38e,#29e,#29d,#1ad,#1ac,#3ba,#3b9,#3b9,#3ba,#2bb,#1bc,#1bc,#1ac,#2ad,#0ac,#3b9,#6c6,#4c8,#1bb,#2ad,#28e,#38e,#38e,#28e,#38e,#38e,#38e,#37f,#46f)"></i><i style="background:linear-gradient(#38e,#38e,#38e,#29e,#29e,#29e,#1ad,#1bc,#2bb,#2bb,#1bc,#29e,#38f,#37f,#47f,#46e,#46e,#46e,#46f,#47f,#1ad,#3ba,#7c6,#8c5,#3c9,#0bc,#0bc,#6c7,#9b5,#3c9,#0bc,#29d,#46f,#29e,#29d,#29d,#29e,#29e,#39e,#39e,#38e,#37e,#38e,#39d,#2ad,#39e,#46e,#45e,#47f,#29e,#29e,#38e,#47f,#38e,#2bc,#6c7,#6c7,#3ba,#1bc,#1bb,#2bb,#1bb,#2ad,#29e,#29e,#38e,#37f)"></i><i style="background:linear-gradient(#2ad,#29e,#29e,#38e,#38e,#38e,#38e,#38e,#39e,#39e,#29e,#29e,#2ad,#1ac,#2bb,#3ba,#3ba,#2ba,#1bc,#29d,#0bc,#3c9,#3c9,#1bb,#1bc,#0bc,#1bb,#1bb,#1bb,#1bb,#1bb,#1ad,#46f,#29e,#1ac,#1ad,#1ad,#1ac,#3ba,#4c8,#5c8,#6c7,#6c7,#6c7,#4b9,#1ad,#29e,#38e,#38f,#38f,#38f,#37f,#38e,#2ad,#4c8,#ec3,#ee2,#ec4,#9c4,#4c8,#4c8,#5c8,#3c9,#0ac,#39e,#37f,#47f)"></i><i style="background:linear-gradient(#2bb,#1ac,#2ab,#3ba,#3ba,#1ac,#38e,#37f,#37f,#37f,#37f,#38f,#38f,#38e,#38e,#29d,#1ad,#1bb,#2ba,#4b9,#0bc,#2ad,#3ad,#39d,#39d,#3ad,#1bb,#4c8,#ac4,#cb3,#ab3,#1bb,#46f,#29e,#2ad,#2ad,#29e,#38f,#38e,#39e,#2ad,#4c9,#4c9,#1ac,#29d,#29e,#29e,#39e,#37f,#37f,#29e,#1bc,#2ba,#2ba,#5c8,#cb3,#ed3,#fc3,#cb3,#3c9,#2ac,#2ad,#29d,#29e,#38f,#37f,#46f)"></i><i style="background:linear-gradient(#46f,#45e,#44d,#44d,#44d,#44d,#44d,#44d,#46f,#46f,#46f,#46f,#46f,#37f,#38f,#38e,#38f,#37f,#37f,#38e,#1bc,#2ba,#7c6,#cb4,#db4,#eb4,#ec4,#dc3,#ec4,#ac3,#4c8,#0bc,#47f,#29e,#2ad,#0bc,#1ac,#38e,#38f,#37f,#38f,#39e,#29d,#38e,#47f,#47f,#39e,#29e,#29e,#38e,#39d,#2ac,#2ba,#1bc,#2ad,#1bb,#6c7,#db3,#eb3,#6c6,#1bc,#29e,#28e,#38e,#38e,#37f,#47f)"></i><i style="background:linear-gradient(#37f,#37f,#38e,#29e,#29d,#38e,#37e,#46f,#46f,#46f,#46f,#37f,#38f,#37f,#47f,#46e,#45e,#45e,#45f,#37f,#3ca,#5c7,#6c6,#6c6,#7c6,#bb3,#bb3,#7c6,#4b9,#3b9,#3ba,#0bc,#46f,#38e,#37f,#37f,#46f,#46f,#37f,#38e,#39e,#38e,#47f,#47f,#38e,#29e,#29e,#29e,#1bc,#4c8,#7c6,#8c5,#7c6,#2bb,#38e,#29e,#2ac,#5c8,#cb3,#db3,#9c5,#4c9,#2bc,#2ad,#29e,#38e,#38f)"></i><i style="background:linear-gradient(#38e,#37f,#46f,#45e,#44d,#44d,#45d,#46e,#37e,#38e,#29e,#29e,#29e,#29e,#2ad,#2ab,#2ab,#29d,#38e,#37f,#1bb,#2bb,#1bc,#1bc,#1bc,#2ac,#39d,#38e,#37e,#38e,#39d,#29e,#46f,#0ac,#1ad,#29e,#29e,#38e,#1ac,#3ba,#3b9,#2bb,#2ad,#29e,#38e,#29e,#29e,#1ad,#3ba,#5c8,#5c7,#3ba,#39d,#37f,#46f,#46f,#37f,#2ad,#4c9,#cb3,#ed2,#ee2,#eb4,#8c5,#3b9,#1bc,#2ad)"></i><i style="background:linear-gradient(#37f,#37f,#37f,#38e,#29d,#0ac,#3ba,#3ba,#3ba,#3ba,#2bb,#1ac,#2ad,#38e,#37f,#44d,#44d,#44d,#44d,#44d,#29e,#29e,#29e,#29e,#29d,#2ad,#1ad,#1bc,#1bb,#3b9,#6c7,#3ba,#46f,#28e,#29e,#29e,#38e,#37f,#37f,#38e,#38e,#37f,#47f,#38e,#29d,#0bc,#0bc,#0bc,#2ad,#39e,#46e,#46e,#47f,#38f,#37f,#46f,#46f,#38f,#1ad,#8c5,#ee2,#ff1,#fe1,#ec3,#7c5,#3c9,#3ca)"></i><i style="background:linear-gradient(#1ad,#2ad,#2ad,#1ac,#0bc,#0bc,#2ad,#39e,#38e,#37e,#47f,#46e,#45e,#44d,#44d,#44e,#46e,#37f,#28e,#2ad,#29e,#39e,#39d,#39e,#39e,#29d,#1bc,#4c9,#7c6,#9c4,#9c4,#5c7,#38e,#29e,#2ad,#2ad,#29e,#38f,#38e,#38e,#38e,#29e,#29d,#2ad,#0bc,#1bc,#2ad,#29e,#38f,#37f,#37f,#38e,#29e,#1ad,#29e,#38e,#37f,#38e,#2ad,#3b9,#bc3,#ed3,#ed2,#cb3,#3c9,#0bb,#1bb)"></i><i style="background:linear-gradient(#1ad,#0ac,#2bb,#3ba,#3ba,#3ba,#2bb,#0bc,#1ad,#2ad,#29e,#29e,#38e,#28e,#29d,#1ad,#1ac,#2ad,#29e,#29e,#1bc,#4b9,#8b6,#6c7,#3ba,#3ba,#5c8,#7c5,#8c5,#5c7,#2ba,#39d,#45e,#46f,#38f,#38e,#38f,#37f,#38e,#29e,#2ad,#1bb,#3ba,#3ca,#3ca,#3c9,#3ba,#29e,#38f,#37f,#37f,#47f,#46f,#47f,#47f,#46f,#46f,#47f,#37f,#39e,#2ac,#5c7,#ac4,#7c6,#2ba,#1bc,#1ac)"></i><i style="background:linear-gradient(#46f,#46f,#37f,#38e,#38e,#38e,#29e,#2ad,#29d,#29e,#38e,#38e,#38e,#38e,#38e,#38f,#37f,#46f,#46f,#46f,#37f,#38e,#39d,#2ad,#0bc,#1bb,#1bb,#3b9,#8c5,#ab4,#cb4,#7c6,#37f,#38e,#29e,#29d,#29e,#38f,#38f,#37f,#29e,#0bc,#3ba,#3ba,#1ac,#39e,#38e,#38f,#29e,#2ad,#2ad,#38e,#37f,#46f,#45f,#45f,#45e,#45e,#46f,#38e,#2ba,#bc3,#eb3,#db3,#8c5,#3ca,#1bb)"></i><i style="background:linear-gradient(#37f,#46f,#46f,#47f,#37f,#38e,#28e,#38e,#37f,#46f,#46f,#47f,#38f,#29e,#2ad,#29e,#38f,#47f,#46f,#38f,#2ad,#2ac,#1ac,#1bc,#1bc,#2ad,#2ad,#2ad,#39d,#38e,#39d,#39d,#37f,#2bb,#2bb,#0bc,#0bc,#29e,#38e,#37f,#47f,#37f,#47f,#47f,#46e,#46e,#37f,#29e,#1ad,#2ad,#29e,#38e,#38f,#37f,#38f,#37f,#46f,#45e,#45f,#38e,#2ba,#9c4,#bb4,#9b4,#3b9,#1bc,#1bc)"></i><i style="background:linear-gradient(#1ac,#29e,#37f,#46f,#45e,#44d,#45e,#47f,#38f,#29e,#29e,#38e,#37f,#37f,#38f,#29e,#2ad,#29e,#37f,#38f,#5c7,#6c7,#4c8,#3c9,#3c9,#3b9,#3ba,#1bb,#39d,#57e,#55d,#55d,#45e,#29d,#1bc,#0bb,#1ac,#29e,#2ad,#1ad,#29e,#38e,#38e,#38e,#38e,#29d,#2bb,#3ba,#0bc,#2ad,#29e,#38e,#38e,#38f,#37f,#46f,#45f,#45f,#46f,#37f,#38e,#38d,#39d,#38d,#38e,#38e,#38e)"></i><i style="background:linear-gradient(#29e,#38f,#38f,#38e,#29e,#29e,#38e,#37e,#46e,#44d,#44c,#44d,#46e,#47f,#37f,#37f,#37f,#37f,#37f,#38f,#2ba,#2ba,#2ba,#3c9,#4c8,#8c5,#bb3,#cb4,#ec4,#dc4,#dc4,#bb4,#37f,#29d,#3c9,#4c8,#1bb,#38e,#29e,#1bb,#2ba,#2ad,#38e,#37f,#38e,#29d,#29d,#39e,#28e,#38e,#38e,#28e,#38e,#38f,#37f,#37f,#47f,#37f,#37f,#37f,#47f,#46f,#45e,#44d,#44d,#44e,#46f)"></i><i style="background:linear-gradient(#39d,#37e,#46e,#46e,#38f,#2ad,#3ba,#4b9,#4b9,#4b8,#4b9,#3ba,#1ad,#38e,#47f,#46e,#45e,#46e,#46f,#37f,#0bc,#4c8,#5c8,#3b9,#1bb,#1bb,#3ba,#6c7,#9b5,#7c6,#4c8,#2bb,#38e,#0ac,#1bb,#2ad,#28e,#37f,#29e,#1ac,#2bb,#2bb,#1ad,#29e,#39e,#29e,#29e,#29e,#29e,#29e,#1ad,#0bc,#29d,#38e,#37f,#37f,#37f,#37f,#37f,#37f,#46f,#45f,#44d,#43c,#43c,#44e,#46f)"></i><i style="background:linear-gradient(#4c8,#4b9,#4b9,#4b9,#1ad,#37f,#45d,#44c,#44c,#44d,#45e,#38e,#2ad,#2bb,#3ba,#3ba,#2ab,#1ac,#29d,#2ad,#3ba,#9b5,#cb4,#cb4,#bb4,#6c7,#1bc,#38e,#47e,#38e,#39e,#38e,#45e,#38f,#28e,#38e,#29e,#29e,#0bc,#0bc,#2ad,#29e,#29e,#29e,#29e,#29e,#29e,#29e,#29e,#2ad,#0bc,#2bb,#1bc,#29e,#29e,#38e,#38f,#46f,#45f,#45f,#46f,#37f,#38e,#38d,#38d,#39d,#39d)"></i><i style="background:linear-gradient(#29d,#39d,#39d,#29d,#1ac,#2ab,#2ab,#1ac,#28e,#37f,#47f,#46f,#46e,#46e,#47e,#37f,#46f,#45e,#44d,#44d,#46e,#47e,#38e,#39d,#3ad,#2ad,#2ad,#1ad,#1ac,#2ac,#2ad,#39e,#46f,#29d,#29e,#29e,#29e,#29d,#2ad,#29d,#28e,#29e,#2ad,#1bb,#1ac,#29d,#2ad,#0bc,#1bc,#2ad,#29d,#38e,#46f,#46f,#37f,#38e,#38e,#37f,#46f,#46f,#37f,#39e,#1bb,#5c8,#7c6,#6c6,#5c8)"></i><i style="background:linear-gradient(#37f,#46f,#45e,#44d,#44d,#44d,#45e,#37f,#38f,#38e,#29e,#29d,#29d,#29d,#29e,#38e,#38f,#38f,#29e,#1ab,#1bc,#29e,#37f,#47f,#38e,#29e,#2ad,#1ad,#2bb,#6c7,#7b6,#2bb,#46f,#38f,#38e,#38e,#37e,#45e,#44c,#44b,#44b,#44d,#38e,#1ad,#1bb,#2ad,#2ad,#1bb,#5c8,#6c7,#3ba,#29e,#38e,#38e,#38e,#29e,#29e,#29e,#29e,#29e,#1ad,#3ba,#5c7,#7c6,#8c5,#8c5,#6c7)"></i><i style="background:linear-gradient(#38e,#37f,#46f,#46f,#47f,#47f,#47f,#47f,#46f,#46f,#46e,#45e,#45e,#45e,#45e,#46f,#37f,#37f,#37f,#38e,#2bc,#2ad,#39d,#39d,#29d,#2ad,#2ad,#39e,#47e,#47e,#48d,#39e,#46f,#29e,#3ba,#6b7,#4b9,#1ab,#3ba,#3b9,#3ba,#3ba,#2bb,#2ad,#29d,#29e,#29e,#29e,#39d,#39d,#38e,#38e,#38e,#29e,#29e,#29d,#2ad,#2ad,#2ad,#0bc,#3ba,#4c9,#5c7,#5c7,#4b9,#39d,#46e)"></i><i style="background:linear-gradient(#29d,#38e,#38f,#38f,#38f,#38e,#29e,#29e,#29e,#29e,#2ad,#29d,#29e,#38e,#37e,#47f,#47f,#46f,#37f,#29e,#6c7,#7c6,#7c6,#6c7,#4c8,#3ca,#3ba,#4c8,#9b5,#9b5,#ab4,#6c7,#38f,#39e,#29d,#39e,#37e,#47f,#38e,#1ac,#2ba,#1bc,#29d,#38e,#46e,#45d,#46e,#39e,#1ad,#2bb,#3ba,#3ba,#3ba,#1bb,#2ad,#29d,#2ad,#29d,#29e,#29e,#38e,#38e,#39e,#39d,#37e,#45e,#44d)"></i><i style="background:linear-gradient(#3ba,#2bb,#0ac,#2ad,#29e,#39e,#38e,#38e,#38e,#38f,#38e,#38e,#2ad,#2bb,#3ba,#3ba,#3ba,#1ac,#29e,#38e,#3ba,#5c8,#4c9,#1bb,#1bb,#3b9,#5c7,#8c5,#bb3,#cb4,#cb3,#5c8,#38f,#29e,#29e,#38e,#38e,#38e,#2ad,#1bb,#1bb,#1bb,#3ba,#3b9,#4b9,#4b8,#1bb,#29e,#38e,#38e,#2ad,#3c9,#7c5,#5c7,#1bb,#2ad,#2ad,#2ad,#29e,#38f,#46f,#46f,#46f,#45e,#44e,#44d,#43d)"></i><i style="background:linear-gradient(#38e,#38e,#29e,#29d,#29e,#29e,#29e,#2ad,#1ad,#1ad,#29e,#39e,#38f,#38f,#47f,#47f,#47f,#37f,#38f,#38e,#39e,#38e,#38e,#39d,#39d,#39d,#3ac,#2bb,#2bb,#3ac,#3ab,#2ac,#37f,#29d,#2ad,#1ad,#1bc,#1ac,#3ba,#4b9,#6b7,#6c7,#5c7,#2bb,#2ad,#29d,#2ad,#29d,#29e,#2ad,#1bc,#1bb,#2bb,#1ac,#29d,#38e,#38e,#29e,#29e,#38e,#37f,#44e,#44d,#44d,#44d,#44d,#44d)"></i><i style="background:linear-gradient(#46f,#44d,#44d,#44d,#44d,#46e,#47f,#37f,#38f,#38e,#38f,#38f,#37f,#37f,#46f,#46f,#46e,#46f,#46f,#37f,#3b9,#6c7,#6c7,#7c6,#9c5,#cb4,#db5,#dc4,#dc4,#dc4,#db4,#5c8,#47f,#29e,#2ad,#2ad,#38e,#46e,#45e,#45d,#45e,#47e,#38e,#29e,#29e,#29e,#29e,#29e,#29e,#29d,#29e,#29d,#29d,#29e,#29e,#37f,#47f,#37f,#38e,#39e,#44d,#44d,#44d,#44d,#44d,#44d,#44d)"></i><i style="background:linear-gradient(#39e,#38e,#37e,#38e,#38e,#38e,#38e,#39e,#38e,#38e,#38e,#38e,#29e,#1ad,#1bc,#2bb,#2bb,#1ac,#1ad,#2ad,#2ac,#3ac,#2bb,#3ba,#4c9,#2ba,#2bb,#2ac,#1bb,#3c9,#5c8,#3ba,#38e,#1ad,#2ad,#39e,#46e,#44c,#43c,#43c,#44c,#45e,#46f,#39e,#2ad,#1ac,#29d,#29e,#39e,#29e,#38f,#38f,#38e,#29e,#2ad,#29e,#38e,#38f,#38e,#29e,#29d,#46e,#45e,#45e,#44e,#44d,#44d)"></i><i style="background:linear-gradient(#29e,#29e,#1bc,#3ba,#3ba,#1bc,#29e,#38e,#37f,#37f,#47f,#37f,#37f,#38e,#29e,#29e,#38e,#37f,#37f,#38f,#3ba,#8c6,#8c5,#7c6,#7c5,#6c6,#3c9,#2bb,#1bb,#1ac,#2ad,#39e,#46f,#29d,#1bc,#2bb,#0ac,#29e,#28e,#29d,#29d,#29d,#2ad,#29e,#29e,#29e,#1ad,#3b9,#4c9,#0bc,#39e,#38e,#38e,#2ad,#1bc,#0bc,#29e,#29e,#2ad,#1bc,#2ba,#3ba,#2ad,#37f,#45f,#44e,#44e)"></i><i style="background:linear-gradient(#1ac,#39e,#38f,#47e,#47e,#37f,#37f,#37f,#47f,#47f,#37f,#38f,#38f,#38f,#37f,#46f,#45e,#45e,#46e,#37f,#2ad,#2ad,#2ac,#1bc,#1bb,#1bc,#2ad,#2ad,#29e,#37f,#37f,#37f,#46f,#38e,#29e,#2ad,#0bc,#1ad,#1bb,#3ba,#1bb,#2ad,#29d,#29e,#29e,#29e,#29e,#39e,#29d,#1ad,#3ba,#3b9,#1bb,#2ad,#29e,#29e,#28e,#29d,#2ba,#7c6,#ac3,#bb3,#6c7,#0bc,#38e,#37f,#46f)"></i><i style="background:linear-gradient(#29e,#29e,#29e,#29e,#29e,#2ad,#2ad,#2ad,#2ad,#1ad,#1ac,#1ac,#1ac,#2ad,#29d,#1ac,#2ab,#2ab,#1ac,#1ac,#1bb,#1ac,#1ac,#1bb,#3ba,#3ba,#1bb,#1bb,#0bc,#2ad,#39d,#38e,#46f,#2ad,#29e,#38e,#38f,#37f,#38e,#29e,#0bc,#3ba,#1bb,#2ad,#1ad,#1ac,#2ad,#38e,#38f,#29e,#1bc,#3c9,#1bb,#2ad,#29e,#29e,#1ad,#2ba,#4c9,#6c7,#bb3,#eb4,#8c5,#2bb,#1ad,#29e,#38f)"></i><i style="background:linear-gradient(#29e,#38e,#38e,#38e,#38e,#38e,#37f,#47f,#46e,#44d,#44d,#44d,#44d,#44d,#44d,#44d,#44d,#45e,#47f,#38f,#29e,#28e,#38e,#37f,#47e,#37e,#29e,#3ad,#2bc,#3ba,#9c4,#3c9,#46f,#37f,#47f,#37f,#38f,#37f,#37f,#38e,#29e,#29d,#29e,#45e,#44c,#34b,#44c,#45d,#46e,#37f,#2ad,#4c8,#5c7,#1bb,#29e,#38e,#29e,#2ad,#29d,#39d,#2ac,#3ba,#1bb,#29d,#28e,#38e,#38e)"></i><i style="background:linear-gradient(#44d,#44d,#44d,#44d,#44d,#45e,#46f,#47f,#37f,#37e,#37e,#46e,#45e,#46e,#46e,#47e,#37f,#46f,#46f,#37f,#2ad,#2ac,#2ac,#3ad,#39d,#2ad,#2bb,#ab4,#db4,#db4,#db3,#3c9,#37f,#2ad,#1bc,#39d,#38e,#37f,#29e,#1ad,#1ad,#1ad,#0bc,#0ac,#2ac,#1ac,#3ba,#4b9,#3ba,#0ac,#29e,#29d,#1bb,#2bb,#2ad,#38e,#38e,#37f,#37f,#37f,#37f,#38e,#37f,#47f,#37f,#38e,#29e)"></i><i style="background:linear-gradient(#2ad,#38e,#47e,#47e,#37e,#37e,#38e,#38e,#29d,#0bc,#3bb,#3ba,#3ba,#3bb,#3bb,#3bb,#2bb,#1ad,#29e,#1ad,#9c4,#bb3,#cb3,#cb3,#cb3,#8c5,#4c8,#6c6,#db4,#eb4,#bb3,#1bb,#46f,#29e,#3ba,#7c7,#5b8,#2ad,#38e,#37f,#38e,#38e,#29e,#0ac,#4b8,#5c8,#3ba,#2ac,#39e,#38f,#45e,#45e,#46f,#38e,#38f,#37f,#46f,#45e,#45e,#45e,#46f,#46f,#46f,#37f,#38e,#2ad,#2bb)"></i><i style="background:linear-gradient(#3ba,#4b9,#4b9,#4b9,#3b9,#3ba,#2bb,#1bc,#1ad,#29d,#38e,#38e,#38e,#38e,#38e,#38e,#37f,#46f,#46f,#38f,#6c7,#ab4,#cb3,#cb3,#bb3,#8c5,#3ba,#1bc,#2ac,#2ac,#2bb,#2bb,#37f,#29e,#29d,#38e,#39e,#29e,#2ad,#38e,#45e,#44c,#45e,#46e,#37e,#47e,#45e,#44d,#45e,#38f,#38e,#28e,#29e,#38e,#38e,#37f,#46f,#44d,#43b,#43c,#45e,#47f,#37f,#38f,#29e,#1ad,#0bc)"></i><i style="background:linear-gradient(#38e,#38e,#37e,#37e,#38e,#38e,#38e,#38e,#38e,#38e,#29e,#1ac,#2ab,#1ab,#1ac,#29d,#29e,#39e,#38e,#37f,#38e,#47e,#47e,#47e,#47e,#47e,#37f,#38f,#38f,#38f,#47f,#46e,#45e,#2ad,#1bb,#1ad,#29e,#38e,#0bc,#4b8,#6b7,#6b7,#3ba,#1ac,#0ac,#2bb,#2ad,#28e,#38e,#29e,#29e,#2ad,#1bc,#1bb,#2bb,#2ad,#38e,#46f,#46f,#46f,#37f,#38e,#38f,#37f,#38f,#28e,#29e)"></i><i style="background:linear-gradient(#44c,#44d,#44d,#44d,#45e,#45e,#45e,#45e,#45e,#44d,#44d,#44d,#44d,#44d,#44d,#46f,#37f,#29e,#0bc,#3b9,#3ba,#2ad,#39d,#38d,#48e,#38e,#39d,#39e,#39e,#29e,#2ad,#29e,#46f,#29e,#1ad,#1bb,#1ac,#38e,#38e,#39d,#29d,#2ad,#29d,#29d,#29e,#29e,#38e,#37f,#38f,#38e,#2ad,#3c9,#3ca,#2ad,#39e,#38f,#38f,#38e,#29e,#29e,#29e,#38e,#38e,#38e,#38e,#29e,#1ac)"></i><i style="background:linear-gradient(#5b8,#4b9,#3ba,#2ab,#1ad,#29d,#29e,#38e,#37f,#37f,#37f,#46f,#45e,#45e,#45e,#46f,#37f,#37f,#38e,#2ad,#5c8,#9c5,#bb4,#cb3,#bb3,#bb4,#9c4,#7c6,#3ba,#1bb,#1bb,#0bc,#38e,#2bb,#1bc,#29d,#28e,#46f,#47f,#38e,#29e,#1ad,#3ba,#4b9,#1ad,#38e,#38f,#38e,#29e,#2ad,#2bb,#3ba,#1ac,#29e,#38e,#37f,#38e,#29d,#1bc,#1ad,#29d,#29d,#2ac,#1ac,#1ad,#1bb,#4c9)"></i><i style="background:linear-gradient(#47e,#46e,#46e,#37f,#38f,#38f,#38f,#37f,#38f,#38e,#38e,#38e,#38e,#38e,#38e,#37f,#46f,#45e,#44e,#45e,#2ad,#2ba,#5c8,#7c6,#bb3,#eb4,#ec4,#dc4,#cb4,#ab3,#9c4,#2ba,#46f,#46e,#46e,#37f,#29e,#29e,#29d,#29e,#2ad,#2ad,#29d,#39e,#29e,#29e,#0bc,#2ba,#1bc,#29e,#37f,#38e,#29d,#2ba,#2bb,#2ad,#2ad,#1bb,#3c9,#2bb,#1bb,#5c7,#9c4,#7c6,#2bb,#1ad,#2ad)"></i><i style="background:linear-gradient(#38f,#37f,#38f,#38e,#29d,#1ad,#1ad,#1ad,#0bc,#2bb,#3ba,#3ba,#4b9,#3b9,#3ba,#0ac,#29e,#37f,#37f,#38e,#1ad,#1bb,#3ba,#3c9,#1bb,#39d,#49d,#3ac,#2ba,#5c7,#8c5,#1bb,#46f,#46f,#47f,#47f,#47f,#46f,#37f,#38f,#38f,#29e,#29e,#29e,#29e,#29e,#2ad,#1ad,#1ad,#29e,#39e,#38e,#29e,#1ad,#1bb,#0bb,#0bc,#1bb,#3ba,#2bb,#2bb,#7c6,#ab4,#6c6,#0bc,#39e,#37f)"></i><i style="background:linear-gradient(#29e,#38e,#38f,#47f,#45e,#45e,#46f,#38f,#29e,#29e,#38e,#38e,#38e,#38e,#39e,#29e,#29e,#29e,#38e,#29e,#2ac,#2ad,#3ad,#2ac,#1bb,#3ba,#5c7,#6c7,#2ba,#2bc,#3ac,#2ad,#37f,#2ad,#2bb,#3b9,#2bb,#29e,#38e,#29e,#29e,#29e,#1ad,#1bb,#1ad,#29e,#38e,#38e,#29e,#29e,#29d,#29e,#29e,#1ad,#2ba,#3c9,#2ba,#2ad,#29e,#39e,#29e,#2ad,#2ac,#29d,#38f,#46f,#46f)"></i><i style="background:linear-gradient(#2ad,#29e,#38e,#38e,#38e,#29e,#29e,#38e,#38f,#37f,#37f,#37f,#37f,#37f,#37f,#38f,#38f,#38f,#37f,#29d,#9b5,#8b6,#8b6,#9b5,#9b5,#6c6,#4c8,#3c9,#4c8,#ab4,#db4,#7c6,#38e,#2ad,#1bb,#1bb,#0bc,#29e,#38e,#38f,#46f,#47f,#38e,#29d,#29d,#29e,#29e,#29e,#2ad,#2bb,#0bc,#29e,#29d,#1bb,#5c7,#6c7,#3c9,#2ad,#38f,#37f,#37f,#38e,#29e,#29e,#38e,#38f,#38f)"></i><i style="background:linear-gradient(#38e,#47e,#46e,#47e,#37f,#38f,#38f,#37f,#37f,#37f,#37f,#37f,#47f,#46f,#47f,#37f,#47f,#46f,#46f,#45e,#45d,#46e,#47e,#48d,#3ac,#1bb,#3c9,#5c7,#ac4,#bc3,#6c7,#1bc,#47f,#39e,#29d,#29d,#28e,#37f,#37f,#38f,#38e,#38e,#38e,#38e,#37f,#46f,#37f,#29e,#0bc,#2bb,#0ac,#1ac,#3ba,#5c8,#6c7,#7c6,#5c7,#1bb,#39e,#38f,#38e,#29d,#1ac,#1ad,#29e,#38e,#38f)"></i><i style="background:linear-gradient(#4b9,#4b9,#4b9,#4b9,#2bb,#29e,#38f,#46e,#45e,#44d,#44d,#45d,#45e,#46e,#47f,#38f,#38e,#29e,#2ad,#29e,#39d,#3ba,#7c6,#ab4,#9c5,#5c7,#5c7,#ac3,#db4,#bb3,#3c9,#2ad,#38e,#4c9,#4c9,#0bc,#29e,#37f,#37f,#37f,#47f,#46e,#45e,#44d,#44d,#45e,#38e,#29e,#38e,#46e,#44d,#46e,#37f,#38e,#39d,#1bc,#3ba,#3ba,#1bb,#0bc,#3ba,#5c8,#4c8,#0bc,#38e,#37f,#46f)"></i><i style="background:linear-gradient(#38e,#47e,#47e,#37e,#38e,#29e,#0ac,#3bb,#3b9,#4b9,#4b9,#4b9,#4b9,#3b9,#3ba,#1ad,#38f,#46f,#46f,#38e,#bb4,#cb4,#bb3,#7c6,#4c8,#4c8,#5c7,#4c8,#1bb,#39d,#29d,#29e,#46f,#1bc,#5c8,#2ba,#29e,#38f,#38e,#29d,#1bc,#1bb,#29d,#28e,#29e,#1ad,#2bb,#2ad,#38f,#46f,#47f,#37f,#46f,#45e,#46f,#37f,#39e,#2ad,#1ad,#0bc,#2ba,#3ba,#1bc,#28e,#47f,#46f,#46f)"></i><i style="background:linear-gradient(#29e,#38e,#38e,#38e,#38e,#38e,#28e,#38e,#38e,#38e,#38e,#38e,#38e,#38e,#37f,#37f,#37f,#37f,#37f,#2ad,#3b9,#2ac,#3ad,#2ad,#0bc,#3c9,#3ba,#1bb,#0bc,#1bb,#3b9,#2ba,#46f,#37f,#29d,#2ad,#1ad,#29d,#2ad,#0bc,#4c9,#4c8,#2ad,#38e,#38e,#29d,#2ad,#29d,#29d,#29d,#2ad,#38e,#47f,#45e,#45e,#46f,#38f,#38e,#2ad,#0bc,#1bc,#2ad,#29e,#28e,#38f,#38f,#38e)"></i><i style="background:linear-gradient(#29e,#28e,#38f,#38e,#38e,#38e,#38e,#38e,#38e,#28e,#38e,#38f,#37f,#46f,#46f,#47f,#37f,#29e,#1ac,#1bb,#39e,#37f,#28e,#29e,#29d,#2ad,#2ad,#1ad,#0bc,#4c8,#9c4,#3c9,#46f,#37f,#38e,#29e,#2ad,#29e,#2ad,#0bc,#2ba,#3ba,#3ba,#4b9,#3b9,#1ad,#38e,#45d,#44c,#45e,#46f,#46f,#37f,#37f,#37f,#37f,#38f,#39e,#2ad,#0bc,#1ad,#2ad,#2ad,#1bc,#1bb,#1ad,#29e)"></i><i style="background:linear-gradient(#1bb,#1ac,#1ac,#1ac,#2bb,#2bb,#1ac,#1ac,#1ad,#1ad,#1ad,#1ac,#1ac,#1ac,#1ac,#29e,#37f,#46f,#44d,#45d,#3ad,#1bc,#1bb,#1bc,#29d,#38e,#29e,#1ad,#1ac,#1bc,#1bb,#2ad,#46f,#38e,#29e,#29d,#1ad,#29e,#38e,#37f,#46e,#47f,#38e,#38e,#38e,#29e,#1bb,#5b8,#1bb,#38e,#45e,#45e,#46f,#46f,#38f,#28e,#29e,#29d,#29d,#29e,#29e,#29e,#1bb,#4c9,#2bb,#29e,#37f)"></i><i style="background:linear-gradient(#46e,#46e,#46f,#37f,#37f,#37f,#37f,#37f,#38f,#38f,#38f,#38f,#37f,#47f,#46f,#46e,#46f,#46f,#37f,#1ab,#ab4,#9b5,#6c7,#3c9,#0bc,#2ad,#2ad,#1ad,#0bc,#0bc,#1ad,#2ad,#38e,#2ad,#2ad,#29d,#38e,#37f,#38e,#39e,#38e,#38e,#29e,#29e,#29e,#29d,#1ad,#0bb,#2bb,#1bb,#1ad,#29d,#2ad,#2ad,#1ad,#1ac,#0bc,#2ba,#3ba,#2ad,#29e,#29e,#2ad,#2ad,#38e,#37f,#46f)"></i><i style="background:linear-gradient(#3ba,#1ac,#29e,#37f,#47f,#46f,#46f,#47f,#37f,#47f,#47f,#47f,#37f,#37f,#38e,#29e,#2ad,#2ad,#29e,#38f,#57d,#48d,#49d,#3ac,#3ac,#39d,#48e,#48e,#39d,#1bc,#0bc,#2ad,#46f,#1ac,#3ba,#0bc,#29e,#38f,#38e,#29e,#39e,#38e,#29e,#29e,#29e,#2ad,#1ad,#0bc,#1bb,#1bb,#0bc,#0bc,#2bb,#1ac,#29e,#29e,#0bc,#7c5,#ab4,#3ba,#29d,#38e,#38e,#38f,#46f,#46f,#37f)"></i><i style="background:linear-gradient(#47f,#45e,#44d,#44d,#44e,#46f,#37f,#37f,#37f,#37f,#38f,#38e,#2ad,#1ac,#2bb,#1bc,#1ad,#29e,#38f,#29e,#7b6,#bb4,#cb5,#db5,#dc4,#dc4,#ec3,#ec4,#eb4,#7c6,#1bb,#2ad,#46f,#29e,#39e,#28e,#38e,#38f,#29e,#29e,#29e,#29e,#38e,#38f,#47f,#46f,#38f,#29d,#1bb,#0bc,#29e,#29e,#29e,#29e,#29e,#2ad,#0bc,#3c9,#3ba,#2ad,#39e,#38e,#38f,#37f,#37f,#47f,#38f)"></i><i style="background:linear-gradient(#38e,#37e,#37e,#37e,#38e,#29e,#29e,#29e,#29e,#29e,#29e,#38e,#38f,#37f,#47f,#46f,#46f,#46f,#37f,#38e,#39d,#39d,#2ac,#2bb,#4b9,#8c6,#db3,#eb4,#eb4,#9b4,#6c7,#3ba,#38f,#1bb,#3ba,#2ad,#37f,#45f,#47f,#38f,#29e,#2ad,#2ad,#2ad,#2ad,#29e,#38e,#46f,#46e,#47e,#38e,#39d,#2ad,#2ad,#1ad,#0bc,#0bb,#1bc,#2ad,#29d,#39e,#38e,#38f,#37f,#38f,#38e,#29d)"></i><i style="background:linear-gradient(#1ac,#2bb,#3ba,#3b9,#3ba,#1ac,#38e,#37f,#47f,#46f,#46f,#46f,#37f,#37f,#38f,#37f,#47f,#45f,#44e,#45e,#2ad,#2ad,#29e,#28e,#38e,#38e,#47e,#56e,#56d,#57d,#48e,#38e,#46f,#2ad,#0bc,#1bc,#39e,#46f,#47f,#29e,#0bc,#2bb,#1ac,#29d,#29e,#29e,#2ad,#1ac,#1ac,#2bb,#5b8,#7b6,#6c7,#3ba,#1ac,#1ac,#1bb,#3ba,#4c9,#2ba,#2ad,#38f,#46f,#45e,#46f,#38e,#29e)"></i><i style="background:linear-gradient(#3b9,#2ba,#1bb,#1ac,#29d,#38e,#37f,#47f,#46f,#45e,#45e,#45e,#46f,#46f,#37f,#37f,#46f,#46f,#46f,#38e,#7c6,#4c9,#2bb,#0ac,#1ac,#1ac,#1ac,#1bb,#3b9,#7c6,#8b5,#0bc,#46f,#38e,#2ad,#1bc,#3ba,#3bb,#3ba,#3ba,#0ac,#2ad,#0bc,#3ba,#2bb,#29e,#38e,#37f,#38f,#38e,#38e,#38e,#38e,#38e,#38f,#38e,#38e,#29d,#1bc,#0bc,#29e,#37f,#46f,#46f,#37f,#39e,#2ad)"></i><i style="background:linear-gradient(#38e,#38e,#38e,#38e,#38e,#38e,#29e,#2ad,#1ac,#1bb,#1bb,#1ac,#39e,#38e,#37e,#38e,#38e,#38e,#38e,#38e,#2ad,#2ad,#1ad,#0bc,#2bb,#3ca,#3c9,#4c8,#3ca,#4c9,#5c7,#0bc,#46f,#38e,#29e,#29e,#38e,#37f,#47f,#37e,#28e,#29e,#29d,#2ad,#29d,#38e,#46f,#45e,#47f,#39e,#29e,#38e,#37f,#46f,#45f,#45e,#45e,#46f,#38f,#28e,#38e,#38f,#38e,#38e,#29e,#2ad,#1ad)"></i><i style="background:linear-gradient(#38e,#47f,#46f,#47f,#38f,#29e,#1ad,#0bc,#1bb,#2bb,#3ba,#3b9,#4b9,#4b9,#4b9,#3ba,#3ba,#1bc,#0ac,#1ad,#1bc,#1bb,#1bc,#1bb,#4c9,#5c8,#3c9,#2ba,#3c9,#7c5,#9c4,#1bb,#37f,#29d,#2ad,#2ad,#29e,#38f,#38e,#29d,#1ad,#2ad,#29e,#29e,#29e,#2ad,#1bc,#3ba,#3ba,#2bb,#1ad,#2ad,#29d,#38e,#47f,#46f,#46f,#47f,#37f,#37f,#38e,#2ad,#1bb,#0bc,#2ad,#29e,#38e)"></i><i style="background:linear-gradient(#29e,#38e,#37f,#37f,#37f,#38f,#38e,#38e,#38e,#38e,#38e,#38e,#37e,#37e,#37e,#37e,#37e,#37f,#38e,#1ad,#4c8,#6c7,#7c6,#2ba,#1ac,#2ac,#0bb,#5c7,#8c5,#5c7,#3ba,#0bc,#37f,#39e,#29e,#29e,#29e,#37f,#37f,#37f,#38e,#38e,#38f,#37f,#46f,#38f,#29e,#2ad,#29d,#29e,#39d,#3ba,#5c8,#1bb,#29d,#38e,#38e,#38e,#38f,#38f,#29e,#0bc,#3ca,#2bb,#2ad,#38e,#37f)"></i><i style="background:linear-gradient(#47e,#46e,#47f,#37f,#46f,#46f,#45f,#46f,#46f,#46f,#45e,#44e,#44d,#44e,#45e,#46f,#46f,#45f,#45f,#46f,#29d,#29d,#2ad,#1bc,#1bb,#1bb,#3ba,#2ba,#2ba,#1bb,#0bc,#29d,#46f,#29e,#29e,#38e,#37f,#46f,#38e,#1bb,#4c8,#3ba,#29e,#37f,#46e,#46f,#37f,#38f,#29e,#0bc,#9b4,#dd3,#eb4,#3c9,#2ad,#29e,#29e,#29e,#38e,#38e,#39e,#2ad,#2ad,#1ad,#2ad,#38e,#46f)"></i><i style="background:linear-gradient(#5b8,#4b9,#3ba,#1ac,#29e,#38f,#37f,#46f,#45e,#44d,#44d,#45e,#46f,#37f,#37f,#47f,#46f,#46f,#46f,#37f,#2ad,#1ac,#1bc,#1bb,#7c6,#bb4,#bb4,#ab4,#7c6,#4c8,#3ba,#2ad,#46f,#29e,#1bc,#3ba,#2bb,#1ac,#2bb,#3c9,#4c9,#2ba,#1ac,#1ad,#2bb,#1bb,#2ad,#29e,#29e,#2ad,#3ba,#8c5,#9c5,#3ca,#1ad,#2ad,#29d,#29e,#38e,#38e,#29e,#29d,#29e,#29e,#39e,#38e,#37f)"></i><i style="background:linear-gradient(#44c,#44d,#44d,#45d,#46f,#38f,#29e,#1ad,#1ac,#2ab,#2ab,#1ac,#38e,#37f,#47f,#46f,#37f,#37f,#37f,#38f,#2ad,#1bb,#3ba,#1bb,#2bc,#2ac,#3ac,#3ac,#2bc,#2ba,#8c5,#6c7,#37f,#2ad,#5c8,#6c7,#2bb,#2ad,#2ad,#2ad,#39e,#38e,#29e,#29d,#1ad,#0bc,#1bc,#2ad,#29d,#29e,#29d,#3ad,#1bb,#1bb,#2ad,#38e,#37f,#37f,#38f,#38e,#29e,#29e,#29e,#38e,#38e,#38f,#38f)"></i><i style="background:linear-gradient(#29e,#28e,#29d,#1ac,#1ac,#2ad,#38e,#38e,#37f,#47f,#47f,#47f,#46f,#46f,#47f,#46f,#46e,#45e,#44d,#46e,#6c6,#6c6,#3ba,#1bb,#1bc,#1bb,#2bb,#3b9,#3ba,#1bb,#1bb,#29d,#46f,#29e,#29d,#39d,#29d,#28e,#29e,#38e,#37f,#38e,#29e,#2ad,#0bc,#3ba,#5c8,#5c7,#4b9,#2bb,#0bc,#1bb,#3c9,#3c9,#2ad,#38e,#38f,#38e,#38e,#29e,#29e,#29e,#39e,#29e,#29e,#39d,#39e)"></i><i style="background:linear-gradient(#38e,#38e,#38e,#38e,#29e,#29d,#2ad,#2ad,#29e,#38e,#38e,#38e,#38e,#39e,#1ac,#3ba,#3ba,#3ba,#3ba,#3ba,#3b9,#1bb,#2ad,#29e,#29e,#2ad,#1ad,#2ad,#2ad,#1ad,#1bb,#1bc,#37f,#0bc,#1bb,#3ba,#3ba,#1ac,#1bc,#1bc,#1ac,#39d,#39d,#39e,#28e,#38e,#38e,#38e,#38e,#38e,#28e,#2ad,#3ba,#1bb,#2ad,#29e,#29e,#2ad,#1ad,#2ad,#29e,#29e,#29e,#1ad,#4c8,#8c6,#4c9)"></i><i style="background:linear-gradient(#5b8,#3ba,#1ad,#38e,#37f,#37f,#37f,#38f,#2ad,#2bb,#3b9,#4b9,#4b9,#3ba,#2bb,#2ad,#39e,#37e,#37f,#46e,#45d,#47e,#37e,#38e,#28e,#38e,#38e,#39d,#39d,#47e,#47e,#38e,#46f,#28e,#29d,#29d,#38e,#37f,#38e,#2ad,#4c8,#6c7,#5c8,#2bb,#2ad,#29e,#29e,#38e,#38e,#38e,#38e,#38e,#38e,#38f,#37f,#38f,#38e,#29e,#2ad,#29e,#38e,#39e,#1ad,#3c9,#ec4,#dd3,#7c6)"></i><i style="background:linear-gradient(#38e,#38e,#38f,#37f,#47f,#46f,#46f,#37f,#38e,#29d,#2ad,#2ad,#29d,#38e,#38e,#47f,#46f,#46f,#46f,#37f,#4b9,#4b9,#4b9,#3ba,#2bb,#5c8,#cb3,#db4,#db4,#db4,#bb4,#3ba,#37f,#29e,#29d,#29e,#38f,#37f,#1ad,#2bb,#2ad,#39d,#39d,#2ad,#1ac,#1ad,#29e,#29e,#29e,#0bc,#1bb,#39d,#38e,#46e,#46f,#37f,#38f,#39e,#29e,#29d,#29d,#2ad,#1ad,#1bb,#7c7,#7c6,#1bb)"></i><i style="background:linear-gradient(#38e,#38f,#38f,#38f,#37f,#46f,#45d,#44d,#44d,#44d,#44d,#44d,#46f,#46f,#46f,#46e,#45e,#46f,#46f,#37f,#38e,#39d,#1bc,#6c6,#bb3,#bb3,#ac3,#9c4,#9c5,#9c4,#8c5,#2ba,#46f,#29e,#2ad,#29e,#38f,#46f,#47f,#38e,#38e,#38f,#46f,#45e,#45e,#46f,#38f,#29e,#2ad,#1bb,#4b8,#6b7,#5b8,#3bb,#1ac,#1ad,#2ad,#29e,#2ad,#0bc,#2ba,#1bb,#2ad,#29e,#29d,#39d,#29e)"></i><i style="background:linear-gradient(#1ac,#29e,#38e,#29e,#1ad,#2bb,#3b9,#3b9,#4b9,#3ba,#1ac,#29e,#38e,#38e,#29e,#2ad,#29d,#38e,#37f,#37f,#3ba,#3c9,#2ba,#3ba,#7c6,#cb2,#cb3,#8c5,#4c8,#3c9,#5c7,#3c9,#47f,#37f,#46e,#46e,#38f,#37f,#38f,#29e,#29e,#29e,#38e,#37f,#37f,#38e,#38e,#38f,#38e,#38f,#46e,#45d,#45e,#47f,#38e,#29e,#29e,#29e,#29d,#1bc,#0bc,#1ad,#29e,#29e,#39e,#38e,#38f)"></i><i style="background:linear-gradient(#37f,#46f,#47f,#38f,#29d,#1bc,#1bb,#1ac,#29d,#38e,#37f,#46f,#46f,#37f,#37f,#38f,#38f,#37f,#37f,#29e,#1ac,#2ba,#6c7,#ac4,#cb3,#cb3,#9c4,#5c7,#3c9,#3c9,#4c8,#0bc,#37f,#2ad,#0ac,#1bb,#1bc,#2ad,#0ac,#1bc,#0bc,#1bc,#2bb,#1bb,#29d,#29e,#29e,#29e,#29e,#38e,#38f,#37f,#37f,#46f,#47f,#38f,#39e,#29e,#29e,#29e,#28e,#38e,#38e,#38e,#38e,#38e,#38e)"></i><i style="background:linear-gradient(#2ad,#29e,#38e,#37f,#47f,#46e,#45e,#45d,#45e,#46f,#37f,#37f,#37f,#46f,#46f,#46f,#37f,#37f,#38e,#2ad,#0bc,#0bb,#3ba,#5c7,#7c6,#7c6,#7c6,#7c6,#4c8,#2bb,#0bb,#2ad,#38f,#0bc,#0bc,#1ad,#29e,#37f,#38e,#29e,#29e,#29d,#29d,#2ad,#2ad,#29e,#29d,#2ad,#1ac,#29e,#38e,#38f,#37f,#47f,#37f,#38e,#29d,#2ad,#29d,#39e,#38e,#38f,#38f,#38e,#29e,#29e,#29e)"></i><i style="background:linear-gradient(#29d,#29e,#38e,#38e,#38e,#29e,#2ad,#1ac,#2bb,#3bb,#3bb,#1bb,#1ad,#29e,#29e,#29e,#2ad,#2ad,#29d,#1ad,#2bb,#3ba,#3ca,#1bc,#39d,#38e,#47e,#38e,#2ad,#2ad,#2ad,#29e,#46f,#29e,#1ad,#29e,#37f,#46e,#46f,#37f,#29e,#0bc,#1bb,#2bb,#2bb,#2bb,#2ba,#3b9,#3ba,#1ad,#29e,#38e,#37f,#37f,#38e,#2ad,#4c8,#5c7,#2bb,#29d,#39e,#38e,#38f,#37f,#38f,#38f,#37f)"></i><i style="background:linear-gradient(#46e,#46f,#47f,#37f,#38f,#38e,#38e,#38e,#38e,#38e,#38e,#38e,#38e,#38e,#38e,#38f,#37f,#47f,#46e,#46e,#29d,#1ac,#0bb,#1bc,#2ac,#3ad,#39d,#39d,#2ac,#1bb,#3c9,#1ad,#46f,#47f,#29e,#0bc,#2bb,#2ad,#29e,#29e,#2ad,#1ad,#2ad,#39d,#39d,#39d,#39d,#39e,#38e,#38f,#38e,#38e,#38e,#29e,#29d,#2bb,#9c5,#bb3,#3c9,#29d,#39e,#38e,#38e,#37f,#37f,#37f,#37f)"></i><i style="background:linear-gradient(#1ac,#29e,#38f,#37f,#37f,#37f,#37f,#37f,#37f,#46f,#45f,#45e,#45f,#46f,#37f,#38f,#29e,#29d,#2ad,#1ac,#3ba,#2ba,#1bb,#3c9,#ab4,#db5,#db5,#db5,#ab4,#6c7,#4c9,#1bb,#37f,#38e,#29e,#1ad,#3ba,#1bb,#0bc,#29d,#29e,#2ad,#3ba,#5c8,#6c7,#6c7,#4b9,#2ad,#39e,#29e,#29e,#29e,#38e,#37f,#46f,#46f,#2ac,#4b9,#2bb,#2ad,#29e,#29e,#38e,#38e,#38e,#38e,#38e)"></i><i style="background:linear-gradient(#37e,#46f,#46e,#45e,#45e,#45e,#44d,#44e,#45e,#46f,#47f,#37f,#37f,#38f,#38e,#2ad,#0bc,#1ad,#2ad,#1ac,#ab4,#ab4,#8c5,#4c9,#1bb,#3ad,#3ac,#2bb,#2ba,#1bc,#1ac,#1ad,#46f,#46e,#37e,#29e,#2ad,#2ad,#2ad,#29e,#38e,#38e,#29e,#2ad,#1ac,#2ad,#29d,#29e,#29e,#29e,#29e,#38e,#38f,#47f,#45f,#44d,#45e,#37e,#38e,#29e,#29e,#29e,#38e,#38e,#38e,#38e,#29e)"></i><i style="background:linear-gradient(#1bb,#1ac,#1ad,#1ad,#1ad,#2ad,#29e,#38e,#38e,#38f,#38f,#38f,#38e,#29e,#2ad,#2ad,#28e,#37f,#46f,#46f,#39d,#39d,#39d,#29d,#2ad,#1ac,#5c8,#ab4,#9c5,#2bb,#0bc,#2ad,#37f,#3ba,#4c9,#1bc,#29e,#38f,#38e,#29e,#2ad,#29e,#38e,#38e,#38e,#29e,#1ad,#1bb,#1bb,#1ac,#29e,#29e,#29d,#29e,#46f,#43c,#43c,#43c,#45e,#47f,#38f,#38e,#38e,#38f,#38f,#38e,#38e)"></i><i style="background:linear-gradient(#29e,#28e,#29e,#29e,#38e,#38e,#38e,#29e,#2ad,#2ad,#29e,#38f,#37f,#46f,#45e,#44d,#44d,#44d,#44d,#44e,#29e,#1ad,#1bb,#2bb,#0ac,#2ad,#29d,#39d,#2ac,#0bc,#0bc,#29e,#47f,#1bb,#3c9,#2ba,#1ad,#38e,#38e,#38e,#38e,#38e,#38e,#38f,#46f,#45e,#46f,#38e,#2ad,#1ad,#29e,#29d,#1bc,#2bb,#2ad,#38e,#46e,#45e,#46f,#37f,#37f,#37f,#37f,#37f,#37f,#38f,#38e)"></i><i style="background:linear-gradient(#2ad,#29e,#38e,#37f,#46e,#45e,#45e,#46e,#46e,#47e,#37f,#37f,#37f,#47f,#47f,#47e,#47e,#47f,#37f,#38e,#1bc,#29d,#47e,#47e,#29e,#2ad,#1ad,#2ad,#2ad,#2ad,#1ad,#2ad,#46f,#29d,#1ad,#2ad,#29e,#38f,#38f,#37e,#38e,#39e,#29e,#38e,#37f,#37f,#37e,#38e,#29e,#29e,#29e,#29e,#29e,#2ad,#2bb,#2bb,#1ad,#2ad,#2ad,#29e,#38e,#37f,#47f,#38f,#38e,#2ad,#1ad)"></i><i style="background:linear-gradient(#3ba,#1ab,#1ac,#1ac,#1ac,#2ab,#3ab,#3ba,#3ba,#2bb,#1ac,#29d,#29e,#2ad,#1ac,#3ba,#3ba,#2ab,#1ab,#2bb,#5c7,#4c9,#4c8,#4b9,#3ba,#3ca,#2bb,#1bc,#1ad,#1ac,#1bb,#1bc,#46f,#29e,#1ac,#1bc,#29e,#38f,#1ad,#5c8,#6c7,#5c7,#1bb,#29e,#29e,#1ac,#3ba,#2ba,#1ad,#29e,#38f,#46f,#37f,#29e,#1bc,#1bb,#2bb,#3ca,#1bc,#29e,#37f,#46f,#46f,#37f,#38e,#2ad,#2bb)"></i><i style="background:linear-gradient(#44d,#44d,#44d,#44d,#44d,#44d,#45d,#45e,#46e,#37f,#38f,#38e,#38e,#37f,#45e,#44d,#44d,#44d,#44d,#44d,#3ad,#1bb,#2ba,#3ba,#4c8,#4c8,#3c9,#3ba,#1bb,#2ba,#4c9,#1bc,#46f,#38e,#2ad,#1ac,#2ad,#38e,#29e,#1ac,#2bb,#1bc,#29d,#38e,#38e,#29e,#1ad,#3ba,#0bc,#38e,#46f,#47f,#29e,#1ac,#1bc,#2ad,#1ad,#1bc,#2ad,#38f,#47f,#46f,#46f,#37f,#38e,#29e,#1ad)"></i><i style="background:linear-gradient(#38e,#38e,#38e,#29e,#29d,#1ad,#2ad,#38e,#38f,#38f,#29e,#1ad,#1ac,#1ac,#1ac,#1ad,#29d,#29d,#29d,#1ac,#5c8,#8b5,#bb4,#bb4,#ab4,#5c7,#2ba,#3ba,#6c6,#cb3,#db4,#6c6,#38e,#1bb,#1bb,#2ad,#29d,#29d,#29d,#29e,#37f,#37f,#29e,#1ad,#2ad,#29e,#29e,#39e,#29e,#38e,#38e,#38e,#38e,#29e,#1ad,#1bb,#1bb,#0bc,#29d,#38e,#37f,#47f,#37f,#38e,#29e,#2ad,#1ad)"></i><i style="background:linear-gradient(#29e,#38e,#38f,#38f,#38e,#29e,#29e,#38e,#38f,#37f,#37f,#37f,#37f,#37f,#37f,#38f,#38e,#29e,#29e,#29e,#38e,#38e,#39d,#39d,#2ac,#1bc,#4c8,#9c4,#bc3,#9c4,#7c7,#2ba,#37f,#29e,#2ad,#38f,#45e,#45e,#46f,#37f,#38f,#38f,#29e,#1ad,#1ad,#29e,#38e,#38e,#29e,#2ad,#2ad,#29e,#29e,#38e,#29e,#29e,#2ad,#1ad,#0bc,#1ad,#29e,#38e,#38e,#29e,#2ad,#29e,#29e)"></i><i style="background:linear-gradient(#37e,#37e,#37f,#37f,#47f,#46f,#46e,#45e,#46e,#46e,#46f,#46f,#37f,#37f,#38e,#38e,#38f,#37f,#38f,#38e,#38e,#38e,#29e,#2ad,#2ad,#1bc,#2ba,#6c6,#bb3,#db4,#db4,#5c8,#37f,#39e,#29e,#29d,#29d,#38e,#38e,#38e,#38f,#37f,#46f,#37f,#29e,#29e,#29e,#29e,#2ad,#0bc,#0bc,#2ad,#29e,#38e,#38e,#38e,#29e,#1ac,#2ba,#2bb,#2ad,#39e,#29e,#2ad,#2ad,#38e,#37f)"></i><i style="background:linear-gradient(#4b9,#4b9,#3ba,#2bb,#2ad,#39e,#39e,#29d,#1ad,#1ad,#2ad,#29e,#2ad,#1ac,#2bb,#2bb,#1ac,#29e,#37f,#37f,#2ad,#2ac,#0bc,#3ba,#3c9,#2ba,#1bb,#3ca,#4c8,#4c9,#1bb,#2ad,#46f,#29e,#2bb,#5c8,#4c9,#0ac,#29e,#38f,#38f,#39e,#29e,#1ac,#1ac,#2ad,#29e,#29e,#29e,#29d,#29d,#29e,#29e,#29e,#38e,#38e,#38e,#29d,#1ad,#2ad,#38e,#38f,#38e,#29e,#29e,#38e,#37f)"></i><i style="background:linear-gradient(#39d,#38e,#38e,#29e,#1ac,#2bb,#2bb,#0ac,#29d,#29e,#38e,#38e,#38f,#37f,#46e,#45e,#45e,#46f,#46f,#38e,#7c6,#8c5,#4c8,#3ca,#2bb,#1bb,#3ca,#3c9,#2bb,#2ad,#29e,#38e,#46f,#38e,#29d,#2ad,#2ad,#28e,#38e,#39e,#39e,#39e,#39e,#29e,#29e,#29d,#0bc,#2bb,#2ad,#38f,#46f,#46f,#37f,#46f,#46f,#47f,#37f,#38e,#28e,#38e,#38e,#38e,#28e,#2ad,#1ad,#39d,#48e)"></i><i style="background:linear-gradient(#38f,#37f,#37f,#38f,#38e,#38e,#37f,#37f,#47f,#46f,#45e,#45e,#46f,#37f,#38f,#38e,#37f,#46f,#44d,#45e,#4c9,#7c6,#6c7,#4c8,#3ba,#3ca,#3c9,#1bb,#2ad,#2ad,#2ad,#29d,#46f,#29e,#29e,#38e,#38e,#2ad,#3c9,#5c8,#4c9,#3ba,#3b9,#3ba,#2bb,#2ad,#29e,#39e,#38e,#38e,#37f,#47f,#47f,#37f,#38f,#29e,#2ad,#1ad,#1bb,#3c9,#5c8,#3ba,#1bb,#2bb,#3ca,#ee2,#ee2)"></i><i style="background:linear-gradient(#29d,#38e,#38f,#38f,#37f,#37f,#37f,#37f,#37f,#37f,#38e,#38e,#37f,#37f,#37f,#37f,#28e,#29e,#28e,#38e,#38e,#47e,#47e,#38e,#2ad,#0bc,#3c9,#3c9,#3c9,#4c9,#5c7,#1bb,#47f,#2ad,#1bb,#3b9,#4c8,#3c9,#5c8,#7c6,#7c6,#7c6,#5c8,#1bb,#29e,#29e,#2bb,#4b9,#3ba,#2bb,#2bb,#1ad,#38e,#38f,#38e,#29e,#0bc,#1bb,#2ba,#6c6,#9c4,#7c6,#ee2,#ef2,#ef2,#ff1,#ff1)"></i><i style="background:linear-gradient(#5b8,#3ba,#29e,#37f,#45e,#44d,#45e,#37f,#29e,#2bb,#3ba,#2bb,#2ad,#38e,#46e,#45d,#45e,#46f,#37f,#2ad,#4b9,#3ba,#3b9,#5c8,#5c8,#1bb,#1bc,#1bb,#4c8,#6c7,#5c7,#1bc,#46f,#1bc,#5c8,#6c7,#4c8,#1bb,#2ad,#38e,#38e,#38e,#38e,#38e,#38f,#38f,#38e,#38e,#38e,#39e,#29e,#29e,#38e,#38e,#38e,#29e,#1ad,#1bb,#1bb,#7c5,#ef1,#ef2,#ff1,#ff1,#ff1,#ff1,#ff1)"></i><i style="background:linear-gradient(#44c,#44d,#45e,#37f,#38f,#29e,#1ad,#1ad,#2ad,#29d,#1ad,#2ba,#4b9,#4b9,#4b9,#4b9,#2bb,#29e,#38f,#38f,#38e,#39d,#2ad,#2ac,#1bb,#3c9,#4c8,#5c7,#ab3,#cb4,#ac4,#3ba,#46f,#37f,#46e,#46e,#47e,#46f,#37f,#37f,#37f,#37f,#37f,#38f,#38e,#39e,#37f,#46f,#47f,#38f,#38e,#37f,#47f,#47f,#47e,#48e,#39d,#ee2,#ee2,#ef2,#ff1,#ff1,#ff1,#ff1,#ff1,#ff1,#ff1)"></i><i style="background:linear-gradient(#9cf,#acf,#acf,#acf,#9cf,#9cf,#abf,#abf,#abf,#abf,#abf,#acf,#acf,#acf,#9ce,#9ce,#9ce,#acf,#abf,#acf,#9dd,#adc,#add,#9dd,#9dd,#9dd,#9dd,#8dd,#9dd,#9dd,#9dd,#9de,#abf,#abf,#9cf,#9cf,#acf,#abf,#abf,#9cf,#9cf,#9cf,#9cf,#9cf,#9cf,#9cf,#9cf,#9cf,#9cf,#acf,#abf,#abf,#abf,#abf,#ef9,#ef9,#ef9,#ff9,#ff9,#ff9,#ff9,#ff9,#ff9,#ff9,#ff9,#ff9,#ff9)"></i></div>
<svg width="550" height="671" viewBox="0 0 550 671" style="position:absolute;left:0;top:0;text-rendering:geometricPrecision">
<rect x="3.8" y="6.6" width="539" height="657.6" fill="none" stroke="#4d4d4d" stroke-width="1.2"/>
<g font-family="Liberation Sans, Arial, sans-serif" fill="#111" stroke="#111" stroke-width="0.3">
<rect x="93.0" y="41.5" width="428.5" height="72.9" fill="none" stroke="#7f7f7f" stroke-width="1"/>
<path d="M176.7 114.4v-4.3M176.7 41.5v4.3M260.4 114.4v-4.3M260.4 41.5v4.3M344.0 114.4v-4.3M344.0 41.5v4.3M427.7 114.4v-4.3M427.7 41.5v4.3M511.4 114.4v-4.3M511.4 41.5v4.3M93.0 48.5h4.3M521.5 48.5h-4.3" stroke="#444" stroke-width="0.9" fill="none"/>
<polyline points="93.0,114.2 93.5,114.2 94.0,114.2 94.5,114.2 95.0,114.2 95.5,114.2 96.0,114.2 96.5,114.2 97.0,114.2 97.5,114.2 98.0,114.2 98.5,114.1 99.0,114.1 99.5,114.1 100.0,114.1 100.5,114.1 101.0,114.1 101.5,114.1 102.0,114.1 102.5,114.1 103.0,114.1 103.5,114.1 104.0,114.1 104.5,114.1 105.0,114.1 105.5,114.1 106.0,114.1 106.5,114.1 107.0,114.1 107.5,114.1 108.0,114.0 108.5,114.0 109.0,114.0 109.5,114.0 110.0,114.0 110.5,114.0 111.0,114.0 111.5,114.0 112.0,114.0 112.5,114.0 113.0,114.0 113.5,112.0 114.0,110.0 114.5,108.0 115.0,99.0 115.5,90.0 116.0,79.1 116.3,72.6 116.5,76.1 117.0,85.0 117.5,94.4 117.8,100.0 118.0,102.1 118.5,107.4 118.7,109.5 119.0,105.9 119.5,100.0 120.0,81.2 120.3,70.0 120.5,63.0 121.0,45.7 121.1,42.2 121.5,56.1 121.9,70.0 122.0,73.6 122.5,91.4 122.6,95.0 123.0,101.0 123.2,104.0 123.5,97.1 124.0,85.7 124.5,94.6 124.8,100.0 125.0,102.0 125.5,107.0 125.6,108.0 126.0,109.2 126.5,110.7 127.0,109.8 127.5,109.0 128.0,107.1 128.5,105.2 128.8,104.0 129.0,105.2 129.5,108.2 129.8,110.0 130.0,110.7 130.5,112.6 130.6,113.0 131.0,112.5 131.5,113.8 132.0,112.7 132.5,113.0 133.0,112.6 133.5,112.6 134.0,113.6 134.5,112.8 135.0,112.8 135.5,113.4 136.0,113.5 136.5,113.7 137.0,113.3 137.5,111.9 138.0,113.6 138.5,113.5 139.0,113.9 139.5,112.6 140.0,114.2 140.5,112.0 141.0,113.0 141.5,112.7 142.0,112.4 142.5,113.4 143.0,112.8 143.5,111.4 144.0,112.2 144.5,113.3 145.0,114.2 145.5,112.0 146.0,113.0 146.5,114.0 147.0,113.4 147.5,112.7 148.0,112.0 148.5,111.8 149.0,112.5 149.5,112.7 150.0,111.4 150.5,111.8 151.0,113.2 151.5,112.7 152.0,112.5 152.5,112.7 153.0,112.4 153.5,113.6 154.0,114.1 154.5,114.2 155.0,113.5 155.5,113.0 156.0,113.0 156.5,110.7 157.0,108.0 157.5,107.6 158.0,106.1 158.5,106.1 159.0,108.6 159.5,107.7 160.0,107.5 160.5,108.1 161.0,109.1 161.5,111.7 162.0,111.8 162.5,110.7 163.0,111.7 163.5,111.6 164.0,111.7 164.5,112.9 165.0,111.2 165.5,110.3 166.0,111.2 166.5,110.7 167.0,111.5 167.5,111.2 168.0,111.2 168.5,110.6 169.0,111.2 169.5,110.5 170.0,111.2 170.5,110.6 171.0,110.0 171.5,111.1 172.0,110.2 172.5,111.7 173.0,111.0 173.5,110.9 174.0,110.6 174.5,110.5 175.0,108.8 175.5,111.3 176.0,109.9 176.5,111.1 177.0,109.9 177.5,110.2 178.0,110.2 178.5,109.6 179.0,110.1 179.5,110.6 180.0,109.9 180.5,108.7 181.0,108.6 181.5,107.8 182.0,107.1 182.5,105.6 183.0,103.4 183.5,100.7 183.6,101.6 184.0,103.2 184.5,105.8 185.0,108.0 185.5,109.1 186.0,110.3 186.5,109.1 187.0,109.3 187.5,108.4 188.0,109.6 188.5,109.5 189.0,110.2 189.5,109.6 190.0,109.2 190.5,111.0 191.0,108.8 191.5,108.6 192.0,109.1 192.5,109.9 193.0,109.3 193.5,109.2 194.0,108.7 194.5,110.5 195.0,109.1 195.5,108.7 196.0,109.4 196.5,106.4 197.0,105.5 197.5,105.2 197.6,103.7 198.0,105.7 198.5,107.7 199.0,108.9 199.5,110.6 200.0,111.4 200.5,110.8 201.0,110.4 201.5,111.0 202.0,111.7 202.5,111.2 203.0,111.1 203.5,110.0 204.0,112.0 204.5,110.3 205.0,110.5 205.5,111.1 206.0,111.5 206.5,111.5 207.0,111.0 207.5,111.3 208.0,111.2 208.5,110.3 209.0,111.4 209.5,111.1 210.0,111.9 210.5,111.5 211.0,112.2 211.5,112.0 212.0,112.2 212.5,112.4 213.0,112.0 213.5,111.4 214.0,112.5 214.5,110.9 215.0,111.5 215.5,112.1 216.0,111.3 216.5,111.5 217.0,109.9 217.5,108.2 218.0,109.8 218.5,109.5 219.0,110.0 219.5,106.3 220.0,106.4 220.5,106.3 221.0,105.1 221.5,100.1 222.0,101.1 222.5,105.3 223.0,98.2 223.5,103.4 224.0,101.5 224.5,106.4 225.0,103.6 225.5,107.9 226.0,105.1 226.5,110.6 227.0,112.3 227.5,110.4 228.0,112.3 228.5,111.0 229.0,111.5 229.5,109.6 230.0,112.3 230.5,110.6 231.0,110.6 231.5,109.9 232.0,109.8 232.5,110.3 233.0,108.0 233.5,109.0 234.0,108.3 234.5,108.6 235.0,108.0 235.5,108.7 236.0,110.2 236.5,110.2 237.0,111.4 237.5,110.5 238.0,111.3 238.5,111.5 239.0,109.4 239.5,109.6 240.0,112.0 240.5,110.9 241.0,110.7 241.5,111.0 242.0,111.3 242.5,111.1 243.0,110.4 243.5,112.0 244.0,110.5 244.5,109.9 245.0,110.1 245.5,110.4 246.0,110.2 246.5,110.4 247.0,110.7 247.5,108.2 248.0,109.9 248.5,111.1 249.0,110.9 249.5,110.0 250.0,110.0 250.5,111.3 251.0,110.3 251.5,110.1 252.0,111.7 252.5,110.2 253.0,110.9 253.5,110.4 254.0,110.5 254.5,109.8 255.0,109.8 255.5,111.3 256.0,109.6 256.5,110.1 257.0,108.6 257.5,108.8 258.0,108.3 258.5,106.5 259.0,107.8 259.5,107.5 260.0,109.2 260.5,108.3 261.0,109.9 261.5,111.2 262.0,110.0 262.5,109.3 263.0,110.1 263.5,109.9 264.0,109.7 264.5,109.7 265.0,109.4 265.5,110.1 266.0,109.5 266.5,109.2 267.0,110.4 267.5,109.7 268.0,111.7 268.5,109.6 269.0,109.3 269.5,109.4 270.0,110.1 270.5,109.3 271.0,108.9 271.5,110.9 272.0,108.9 272.5,109.6 273.0,107.4 273.3,105.8 273.5,108.4 274.0,108.8 274.3,109.3 274.5,110.1 275.0,111.0 275.5,110.7 276.0,110.9 276.5,111.5 277.0,110.5 277.5,110.6 278.0,110.2 278.5,109.3 279.0,110.2 279.5,111.5 280.0,109.1 280.5,111.3 281.0,110.5 281.5,109.7 282.0,110.4 282.5,111.6 283.0,110.0 283.5,110.9 284.0,111.2 284.5,109.7 285.0,110.8 285.5,110.8 286.0,110.1 286.5,110.9 287.0,110.1 287.5,110.0 288.0,109.5 288.5,110.8 289.0,110.4 289.5,110.5 290.0,110.2 290.5,110.2 291.0,110.8 291.5,112.0 292.0,111.1 292.5,112.8 293.0,112.2 293.5,112.2 294.0,111.4 294.5,113.8 295.0,111.4 295.5,112.8 296.0,113.6 296.5,112.3 297.0,111.9 297.5,112.4 298.0,113.1 298.5,113.4 299.0,112.8 299.5,111.7 300.0,112.2 300.5,112.5 301.0,112.0 301.5,112.4 302.0,113.1 302.5,112.1 303.0,112.8 303.5,112.2 304.0,112.3 304.5,112.4 305.0,112.0 305.5,112.4 306.0,112.8 306.5,112.7 307.0,112.7 307.5,112.2 308.0,112.4 308.5,112.5 309.0,112.7 309.5,112.9 310.0,112.2 310.5,113.0 311.0,112.4 311.5,112.4 312.0,112.1 312.5,112.5 313.0,112.4 313.5,112.1 314.0,112.4 314.5,112.5 315.0,112.4 315.5,112.7 316.0,112.2 316.5,112.8 317.0,112.4 317.5,112.6 318.0,111.9 318.5,112.5 319.0,112.5 319.5,112.8 320.0,112.2 320.5,112.9 321.0,112.2 321.5,112.9 322.0,112.7 322.5,112.3 323.0,113.2 323.5,112.2 324.0,112.5 324.5,112.6 325.0,112.7 325.5,112.6 326.0,112.8 326.5,112.7 327.0,112.5 327.5,112.3 328.0,112.4 328.5,112.8 329.0,112.2 329.5,112.6 330.0,111.9 330.5,112.3 331.0,112.1 331.5,112.9 332.0,112.0 332.5,112.5 333.0,112.8 333.5,112.7 334.0,112.8 334.5,112.9 335.0,112.7 335.5,112.8 336.0,112.6 336.5,112.6 337.0,112.1 337.5,112.6 338.0,113.0 338.5,112.4 339.0,112.2 339.5,112.6 340.0,112.9 340.5,113.0 341.0,112.1 341.5,112.7 342.0,112.4 342.5,111.5 343.0,109.5 343.5,111.7 344.0,112.6 344.5,112.8 345.0,112.7 345.5,112.4 346.0,112.9 346.5,112.6 347.0,112.5 347.5,112.9 348.0,112.7 348.5,112.5 349.0,113.0 349.5,112.6 350.0,112.7 350.5,113.0 351.0,113.0 351.5,113.1 352.0,113.2 352.5,112.8 353.0,112.5 353.5,113.2 354.0,113.2 354.5,112.7 355.0,113.0 355.5,112.6 356.0,112.3 356.5,113.1 357.0,112.9 357.5,112.8 358.0,113.3 358.5,113.2 359.0,112.6 359.5,112.4 360.0,112.2 360.5,112.8 361.0,112.7 361.5,112.9 362.0,112.8 362.5,112.6 363.0,112.7 363.5,112.3 364.0,113.2 364.5,112.6 365.0,113.0 365.5,112.6 366.0,112.8 366.5,113.0 367.0,112.7 367.5,112.6 368.0,113.5 368.5,112.8 369.0,113.0 369.5,112.8 370.0,112.6 370.5,113.2 371.0,113.0 371.5,112.9 372.0,112.2 372.5,112.9 373.0,113.1 373.5,112.9 374.0,112.8 374.5,113.2 375.0,112.9 375.5,113.0 376.0,113.2 376.5,113.2 377.0,112.5 377.5,113.0 378.0,112.7 378.5,112.3 379.0,113.0 379.5,112.4 380.0,112.7 380.5,112.1 381.0,112.6 381.5,112.8 382.0,112.9 382.5,112.7 383.0,112.6 383.5,112.6 384.0,113.4 384.5,112.8 385.0,112.9 385.5,113.5 386.0,112.4 386.5,112.3 387.0,112.6 387.5,112.8 388.0,112.6 388.5,112.9 389.0,112.9 389.5,112.5 390.0,113.0 390.5,112.5 391.0,113.2 391.5,113.0 392.0,113.6 392.5,113.2 393.0,112.9 393.5,113.1 394.0,113.0 394.5,112.7 395.0,112.5 395.5,113.3 396.0,113.4 396.5,112.8 397.0,112.9 397.5,112.8 398.0,113.3 398.5,113.3 399.0,112.7 399.5,112.9 400.0,112.8 400.5,113.1 401.0,113.2 401.5,113.3 402.0,112.9 402.5,112.7 403.0,113.2 403.5,113.2 404.0,112.9 404.5,113.1 405.0,113.1 405.5,113.3 406.0,113.0 406.5,113.2 407.0,113.1 407.5,112.7 408.0,113.2 408.5,113.1 409.0,113.4 409.5,112.7 410.0,112.8 410.5,113.1 411.0,112.5 411.5,113.0 412.0,112.9 412.5,112.9 413.0,113.0 413.5,112.4 414.0,113.1 414.5,113.1 415.0,113.4 415.5,113.5 416.0,113.2 416.5,113.4 417.0,112.4 417.5,113.3 418.0,113.4 418.5,113.4 419.0,113.2 419.5,113.0 420.0,113.0 420.5,113.1 421.0,113.2 421.5,113.2 422.0,113.1 422.5,112.9 423.0,113.4 423.5,113.0 424.0,112.7 424.5,113.3 425.0,113.3 425.5,113.2 426.0,113.3 426.5,113.2 427.0,113.0 427.5,113.2 428.0,113.0 428.5,113.0 429.0,113.0 429.5,113.2 430.0,113.3 430.5,113.1 431.0,113.2 431.5,112.8 432.0,113.0 432.5,113.2 433.0,113.3 433.5,113.3 434.0,113.3 434.5,112.9 435.0,113.1 435.5,112.8 436.0,113.2 436.5,113.2 437.0,113.1 437.5,113.0 438.0,113.3 438.5,113.3 439.0,113.2 439.5,113.1 440.0,113.2 440.5,113.2 441.0,113.2 441.5,113.3 442.0,113.2 442.5,113.0 443.0,113.2 443.5,113.3 444.0,113.2 444.5,113.3 445.0,113.1 445.5,113.4 446.0,113.3 446.5,113.3 447.0,113.3 447.5,113.3 448.0,113.3 448.5,113.4 449.0,113.3 449.5,113.3 450.0,113.2 450.5,113.1 451.0,113.3 451.5,113.3 452.0,113.1 452.5,113.5 453.0,113.3 453.5,113.1 454.0,113.2 454.5,113.3 455.0,113.3 455.5,113.2 456.0,113.3 456.5,113.1 457.0,113.2 457.5,113.3 458.0,113.2 458.5,113.4 459.0,113.4 459.5,113.2 460.0,112.9 460.5,113.4 461.0,113.5 461.5,113.1 462.0,113.3 462.5,113.4 463.0,113.1 463.5,113.2 464.0,113.5 464.5,113.4 465.0,113.3 465.5,113.5 466.0,113.2 466.5,113.1 467.0,113.5 467.5,113.2 468.0,113.3 468.5,113.5 469.0,113.4 469.5,113.4 470.0,113.3 470.5,113.4 471.0,113.7 471.5,113.3 472.0,113.2 472.5,113.4 473.0,113.3 473.5,113.4 474.0,113.4 474.5,113.4 475.0,113.4 475.5,113.4 476.0,113.6 476.5,113.2 477.0,113.4 477.5,113.4 478.0,113.2 478.5,113.3 479.0,113.3 479.5,113.3 480.0,113.6 480.5,113.4 481.0,113.8 481.5,113.4 482.0,113.4 482.5,113.8 483.0,113.3 483.5,113.7 484.0,113.0 484.5,113.3 485.0,113.6 485.5,113.7 486.0,113.5 486.5,113.3 487.0,113.4 487.5,113.6 488.0,113.5 488.5,113.6 489.0,113.3 489.5,113.6 490.0,113.6 490.5,113.9 491.0,113.6 491.5,113.6 492.0,113.3 492.5,113.3 493.0,113.1 493.5,113.5 494.0,113.8 494.5,113.5 495.0,113.1 495.5,113.5 496.0,113.5 496.5,113.4 497.0,113.8 497.5,113.7 498.0,113.7 498.5,113.4 499.0,113.6 499.5,113.3 500.0,113.7 500.5,113.3 501.0,113.7 501.5,113.6 502.0,113.6 502.5,113.3 503.0,113.6 503.5,113.2 504.0,113.3 504.5,113.4 505.0,113.8 505.5,113.5 506.0,113.4 506.5,113.6 507.0,113.9 507.5,113.5 508.0,113.4 508.5,113.4 509.0,113.5 509.5,113.8 510.0,113.5 510.5,113.5 511.0,113.4 511.5,113.4 512.0,113.7 512.5,113.6 513.0,113.6 513.5,113.4 514.0,113.7 514.5,113.6 515.0,113.8 515.5,113.7 516.0,113.5 516.5,113.6 517.0,113.6 517.5,113.6 518.0,113.5 518.5,113.7 519.0,113.9 519.5,113.6 520.0,113.8 520.5,113.6 521.0,113.6 521.5,113.6" fill="none" stroke="#111" stroke-width="1.1" stroke-linejoin="round"/>
<polyline points="93.0,114.2 93.5,114.2 94.0,114.2 94.5,114.2 95.0,114.2 95.5,114.1 96.0,114.1 96.5,114.1 97.0,114.1 97.5,114.1 98.0,114.1 98.5,114.1 99.0,114.1 99.5,114.1 100.0,114.1 100.5,114.0 101.0,114.0 101.5,114.0 102.0,114.0 102.5,114.0 103.0,114.0 103.5,114.0 104.0,114.0 104.5,114.0 105.0,114.0 105.5,113.9 106.0,113.9 106.5,113.9 107.0,113.9 107.5,113.9 108.0,113.9 108.5,113.9 109.0,113.9 109.5,113.9 110.0,113.9 110.5,113.8 111.0,113.8 111.5,113.8 112.0,113.8 112.5,113.8 112.7,113.8 113.0,113.1 113.5,112.0 114.0,108.2 114.3,106.0 114.5,104.2 115.0,99.7 115.1,98.8 115.5,90.9 115.8,85.0 116.0,81.7 116.5,73.5 116.7,70.2 117.0,71.3 117.2,72.0 117.5,65.6 118.0,55.0 118.1,52.9 118.5,62.7 118.8,70.0 119.0,75.1 119.5,88.0 120.0,82.3 120.2,80.0 120.5,73.5 121.0,62.8 121.1,60.6 121.5,71.7 121.8,80.0 122.0,83.9 122.4,91.6 122.5,90.4 123.0,84.5 123.5,78.5 124.0,84.8 124.1,86.0 124.5,85.0 124.7,84.5 125.0,89.0 125.4,95.0 125.5,96.1 126.0,101.7 126.2,104.0 126.5,106.1 127.0,109.5 127.5,108.8 128.0,108.0 128.5,107.0 129.0,106.0 129.5,103.0 130.0,100.0 130.3,98.2 130.5,100.4 131.0,106.0 131.5,109.7 131.8,111.9 132.0,111.8 132.5,111.4 133.0,111.0 133.5,110.5 134.0,110.0 134.5,109.5 135.0,109.0 135.5,107.5 136.0,106.0 136.5,103.0 137.0,100.0 137.5,98.1 137.8,97.0 138.0,95.4 138.5,91.2 138.6,90.4 139.0,95.2 139.4,100.0 139.5,101.0 140.0,106.2 140.2,108.3 140.5,108.6 141.0,108.0 141.5,111.2 142.0,108.5 142.5,109.7 143.0,108.0 143.5,107.2 144.0,110.3 144.5,110.6 145.0,110.4 145.5,111.2 146.0,110.3 146.5,110.5 147.0,111.5 147.5,114.2 148.0,113.3 148.5,111.5 149.0,112.9 149.5,111.6 150.0,111.6 150.5,113.3 151.0,111.6 151.5,110.1 152.0,111.1 152.5,112.4 153.0,112.4 153.5,113.9 154.0,111.3 154.5,113.2 155.0,112.8 155.5,112.1 156.0,113.4 156.5,112.9 157.0,111.1 157.5,113.6 158.0,110.6 158.5,112.2 159.0,112.1 159.5,112.6 160.0,111.1 160.5,112.0 161.0,111.8 161.5,113.3 162.0,111.0 162.5,112.1 163.0,111.7 163.5,110.3 164.0,114.2 164.5,111.9 165.0,110.1 165.5,113.8 166.0,110.6 166.5,112.1 167.0,112.4 167.5,110.0 168.0,109.9 168.5,108.4 169.0,107.6 169.5,104.3 170.0,103.4 170.5,106.1 171.0,108.9 171.5,106.8 172.0,106.7 172.5,107.2 173.0,107.3 173.5,107.3 174.0,104.4 174.5,105.3 175.0,105.7 175.5,107.9 176.0,108.8 176.5,107.9 177.0,108.5 177.5,107.9 178.0,110.3 178.5,111.0 179.0,111.5 179.5,110.1 180.0,113.9 180.5,112.8 181.0,111.1 181.5,110.5 182.0,110.7 182.5,111.2 183.0,111.0 183.5,111.4 184.0,111.5 184.5,112.0 185.0,111.5 185.5,109.4 186.0,109.5 186.5,108.0 187.0,107.2 187.5,109.5 188.0,105.4 188.5,107.6 189.0,103.5 189.5,103.6 190.0,103.9 190.5,101.5 191.0,100.9 191.5,101.7 191.8,102.4 192.0,103.4 192.5,104.2 193.0,108.1 193.5,106.8 194.0,110.2 194.5,104.8 195.0,108.5 195.5,109.5 196.0,108.6 196.5,110.7 197.0,110.5 197.5,109.6 198.0,110.9 198.5,114.2 199.0,111.2 199.5,111.6 200.0,110.9 200.5,111.8 201.0,110.0 201.5,111.5 202.0,114.2 202.5,113.3 203.0,112.8 203.5,113.5 204.0,114.2 204.5,113.1 205.0,113.2 205.5,112.9 206.0,112.7 206.5,113.3 207.0,111.7 207.5,112.4 208.0,112.7 208.5,112.3 209.0,112.6 209.5,112.4 210.0,112.4 210.5,113.7 211.0,112.9 211.5,112.6 212.0,113.2 212.5,112.6 213.0,113.0 213.5,112.8 214.0,113.4 214.5,112.1 215.0,113.0 215.5,112.8 216.0,112.3 216.5,113.2 217.0,112.4 217.5,113.4 218.0,113.0 218.5,113.0 219.0,112.8 219.5,113.1 220.0,112.0 220.5,112.8 221.0,112.5 221.5,112.9 222.0,112.8 222.5,113.1 223.0,112.5 223.5,113.6 224.0,113.8 224.5,112.7 225.0,112.8 225.5,113.0 226.0,113.4 226.5,113.6 227.0,112.4 227.5,112.6 228.0,112.5 228.5,112.4 229.0,112.2 229.5,113.0 230.0,112.4 230.5,113.5 231.0,113.3 231.5,112.5 232.0,112.5 232.5,112.7 233.0,113.5 233.5,112.6 234.0,112.3 234.5,112.9 235.0,113.1 235.5,112.7 236.0,113.6 236.5,113.0 237.0,113.1 237.5,112.6 238.0,112.9 238.5,112.9 239.0,112.1 239.5,113.1 240.0,112.2 240.5,113.0 241.0,112.4 241.5,113.8 242.0,113.1 242.5,113.3 243.0,113.4 243.5,112.5 244.0,112.1 244.5,112.9 245.0,113.4 245.5,113.0 246.0,113.3 246.5,113.4 247.0,112.4 247.5,113.1 248.0,113.8 248.5,112.8 249.0,112.2 249.5,112.9 250.0,112.8 250.5,113.2 251.0,112.7 251.5,113.1 252.0,112.2 252.5,113.4 253.0,113.7 253.5,113.6 254.0,112.5 254.5,113.2 255.0,111.9 255.5,113.2 256.0,113.0 256.5,112.7 257.0,113.2 257.5,113.1 258.0,113.5 258.5,113.1 259.0,113.2 259.5,112.3 260.0,112.6 260.5,112.9 261.0,113.2 261.5,113.1 262.0,113.7 262.5,112.8 263.0,113.0 263.5,113.2 264.0,113.0 264.5,113.3 265.0,112.9 265.5,113.7 266.0,113.0 266.5,113.6 267.0,113.2 267.5,113.8 268.0,112.6 268.5,113.4 269.0,113.0 269.5,113.3 270.0,113.7 270.5,112.7 271.0,112.7 271.5,112.8 272.0,113.3 272.5,112.5 273.0,113.3 273.5,112.7 274.0,112.8 274.5,113.1 275.0,113.4 275.5,113.0 276.0,113.1 276.5,113.2 277.0,113.2 277.5,112.2 278.0,113.1 278.5,113.3 279.0,113.7 279.5,114.1 280.0,113.6 280.5,113.3 281.0,112.9 281.5,113.4 282.0,113.6 282.5,113.8 283.0,113.0 283.5,113.4 284.0,113.7 284.5,114.1 285.0,113.5 285.5,113.1 286.0,113.1 286.5,113.2 287.0,113.1 287.5,113.7 288.0,113.8 288.5,113.7 289.0,113.9 289.5,113.2 290.0,113.6 290.5,113.3 291.0,113.4 291.5,113.9 292.0,113.4 292.5,112.7 293.0,113.3 293.5,113.1 294.0,112.8 294.5,113.1 295.0,113.8 295.5,114.1 296.0,113.3 296.5,113.9 297.0,113.9 297.5,113.0 298.0,113.5 298.5,113.5 299.0,113.6 299.5,112.9 300.0,113.4 300.5,113.7 301.0,113.7 301.5,113.8 302.0,113.5 302.5,113.8 303.0,113.6 303.5,113.3 304.0,113.6 304.5,113.5 305.0,113.6 305.5,113.5 306.0,113.7 306.5,113.6 307.0,113.5 307.5,113.7 308.0,113.6 308.5,113.5 309.0,113.7 309.5,113.5 310.0,113.5 310.5,113.5 311.0,113.3 311.5,113.5 312.0,113.8 312.5,113.4 313.0,113.6 313.5,113.4 314.0,113.5 314.5,113.8 315.0,113.7 315.5,113.5 316.0,113.6 316.5,113.5 317.0,113.5 317.5,113.5 318.0,113.5 318.5,113.6 319.0,113.7 319.5,113.7 320.0,113.6 320.5,113.4 321.0,113.6 321.5,113.5 322.0,113.7 322.5,113.7 323.0,113.7 323.5,113.6 324.0,113.3 324.5,113.8 325.0,113.8 325.5,113.4 326.0,113.7 326.5,113.8 327.0,113.5 327.5,113.9 328.0,113.6 328.5,113.5 329.0,113.9 329.5,113.7 330.0,113.6 330.5,113.8 331.0,113.4 331.5,113.9 332.0,113.5 332.5,113.7 333.0,113.6 333.5,113.7 334.0,113.8 334.5,113.5 335.0,113.8 335.5,113.6 336.0,113.6 336.5,113.6 337.0,113.5 337.5,113.6 338.0,113.8 338.5,113.7 339.0,113.9 339.5,113.8 340.0,113.5 340.5,113.4 341.0,113.6 341.5,113.7 342.0,113.7 342.5,113.6 343.0,113.9 343.5,113.5 344.0,113.5 344.5,113.7 345.0,114.1 345.5,113.8 346.0,113.6 346.5,113.8 347.0,113.8 347.5,113.9 348.0,113.7 348.5,113.6 349.0,113.8 349.5,113.8 350.0,114.0 350.5,114.1 351.0,113.6 351.5,113.7 352.0,113.8 352.5,113.7 353.0,113.8 353.5,113.8 354.0,113.8 354.5,114.0 355.0,113.8 355.5,113.6 356.0,113.5 356.5,113.6 357.0,113.6 357.5,113.5 358.0,113.9 358.5,113.8 359.0,113.7 359.5,113.7 360.0,113.6 360.5,113.7 361.0,114.1 361.5,113.5 362.0,113.8 362.5,113.9 363.0,113.8 363.5,113.8 364.0,113.9 364.5,113.6 365.0,113.9 365.5,114.0 366.0,113.7 366.5,113.7 367.0,113.8 367.5,114.0 368.0,114.0 368.5,113.9 369.0,113.7 369.5,113.6 370.0,113.8 370.5,113.9 371.0,113.6 371.5,113.8 372.0,113.9 372.5,114.0 373.0,113.7 373.5,113.9 374.0,113.6 374.5,113.8 375.0,113.8 375.5,114.0 376.0,114.2 376.5,113.9 377.0,113.9 377.5,114.0 378.0,113.6 378.5,113.9 379.0,113.6 379.5,114.1 380.0,114.0 380.5,113.9 381.0,113.7 381.5,114.1 382.0,113.9 382.5,113.8 383.0,113.9 383.5,113.6 384.0,113.9 384.5,114.0 385.0,113.9 385.5,113.9 386.0,113.7 386.5,113.9 387.0,113.9 387.5,113.8 388.0,113.8 388.5,114.0 389.0,114.0 389.5,113.9 390.0,114.0 390.5,114.0 391.0,114.1 391.5,113.9 392.0,113.8 392.5,113.8 393.0,113.8 393.5,113.9 394.0,114.0 394.5,113.8 395.0,113.9 395.5,113.7 396.0,114.0 396.5,113.8 397.0,113.9 397.5,113.7 398.0,113.8 398.5,113.7 399.0,114.1 399.5,113.9 400.0,113.8 400.5,113.7 401.0,113.8 401.5,113.9 402.0,114.1 402.5,113.6 403.0,113.7 403.5,113.8 404.0,113.8 404.5,113.6 405.0,113.9 405.5,114.0 406.0,113.6 406.5,113.9 407.0,114.0 407.5,114.0 408.0,113.8 408.5,114.2 409.0,113.9 409.5,113.7 410.0,114.0 410.5,113.7 411.0,114.0 411.5,113.7 412.0,114.0 412.5,113.8 413.0,114.0 413.5,114.0 414.0,113.9 414.5,113.9 415.0,114.0 415.5,113.6 416.0,113.9 416.5,113.9 417.0,114.0 417.5,114.0 418.0,114.2 418.5,113.9 419.0,114.0 419.5,113.9 420.0,114.1 420.5,113.6 421.0,114.1 421.5,113.8 422.0,113.5 422.5,113.7 423.0,113.9 423.5,113.9 424.0,113.9 424.5,114.0 425.0,113.9 425.5,113.9 426.0,113.6 426.5,114.0 427.0,114.0 427.5,113.8 428.0,113.6 428.5,113.7 429.0,114.1 429.5,113.8 430.0,113.8 430.5,113.8 431.0,114.0 431.5,113.8 432.0,113.8 432.5,113.7 433.0,113.9 433.5,114.0 434.0,113.9 434.5,114.0 435.0,113.9 435.5,113.9 436.0,113.9 436.5,113.9 437.0,114.0 437.5,114.0 438.0,113.8 438.5,113.9 439.0,113.9 439.5,114.0 440.0,113.9 440.5,114.0 441.0,113.7 441.5,114.0 442.0,114.1 442.5,113.7 443.0,114.1 443.5,113.9 444.0,113.9 444.5,113.6 445.0,114.1 445.5,113.8 446.0,113.8 446.5,114.0 447.0,113.8 447.5,113.8 448.0,113.7 448.5,113.9 449.0,114.0 449.5,114.0 450.0,114.0 450.5,113.9 451.0,113.9 451.5,113.8 452.0,114.2 452.5,113.9 453.0,113.6 453.5,113.8 454.0,114.2 454.5,113.7 455.0,113.9 455.5,114.0 456.0,113.8 456.5,114.1 457.0,114.2 457.5,113.8 458.0,114.1 458.5,113.8 459.0,113.8 459.5,114.0 460.0,114.0 460.5,113.8 461.0,114.1 461.5,113.7 462.0,113.8 462.5,113.8 463.0,114.0 463.5,114.0 464.0,114.0 464.5,113.7 465.0,113.9 465.5,114.0 466.0,113.7 466.5,113.8 467.0,114.0 467.5,114.0 468.0,114.0 468.5,114.0 469.0,114.0 469.5,114.0 470.0,113.9 470.5,113.8 471.0,113.9 471.5,113.9 472.0,114.2 472.5,114.0 473.0,113.9 473.5,113.9 474.0,113.9 474.5,113.9 475.0,114.0 475.5,113.9 476.0,114.1 476.5,113.8 477.0,114.0 477.5,114.1 478.0,113.8 478.5,114.0 479.0,114.0 479.5,113.9 480.0,113.9 480.5,113.7 481.0,114.1 481.5,113.8 482.0,113.8 482.5,114.1 483.0,113.7 483.5,114.1 484.0,114.0 484.5,114.0 485.0,113.9 485.5,113.8 486.0,113.7 486.5,114.2 487.0,113.9 487.5,113.9 488.0,114.2 488.5,113.9 489.0,113.9 489.5,113.9 490.0,113.9 490.5,113.8 491.0,113.9 491.5,114.2 492.0,114.1 492.5,113.5 493.0,113.7 493.5,114.0 494.0,113.9 494.5,113.9 495.0,114.1 495.5,113.7 496.0,114.1 496.5,114.0 497.0,114.1 497.5,114.0 498.0,114.1 498.5,113.9 499.0,113.9 499.5,114.1 500.0,114.0 500.5,113.8 501.0,114.2 501.5,114.2 502.0,114.2 502.5,114.0 503.0,114.0 503.5,113.9 504.0,113.8 504.5,114.0 505.0,114.0 505.5,113.9 506.0,114.2 506.5,113.7 507.0,113.9 507.5,113.9 508.0,114.2 508.5,113.9 509.0,113.9 509.5,113.9 510.0,113.9 510.5,113.8 511.0,114.1 511.5,114.1 512.0,114.1 512.5,113.9 513.0,114.2 513.5,113.8 514.0,113.7 514.5,113.9 515.0,114.0 515.5,114.1 516.0,113.8 516.5,114.1 517.0,114.2 517.5,113.9 518.0,113.9 518.5,113.7 519.0,114.0 519.5,114.1 520.0,114.1 520.5,114.1 521.0,114.2 521.5,114.0" fill="none" stroke="#f00" stroke-width="1.1" stroke-linejoin="round"/>
<g font-size="10" fill="#111"><text transform="translate(93.8 123.6) scale(.9 1)" text-anchor="middle">0</text><text transform="translate(177.5 123.6) scale(.9 1)" text-anchor="middle">50</text><text transform="translate(261.2 123.6) scale(.9 1)" text-anchor="middle">100</text><text transform="translate(344.8 123.6) scale(.9 1)" text-anchor="middle">150</text><text transform="translate(428.5 123.6) scale(.9 1)" text-anchor="middle">200</text><text transform="translate(512.2 123.6) scale(.9 1)" text-anchor="middle">250</text></g>
<g font-size="10"><text transform="translate(91.2 52.1) scale(.9 1)" text-anchor="end">50</text><text transform="translate(91.2 117.6) scale(.9 1)" text-anchor="end">0</text></g>
<text x="27" y="42" font-size="18.6">(a)</text>
<text x="239" y="36.9" font-size="11.5">Power Spectral Density</text>
<text x="264.7" y="135.7" font-size="11.4">Frequency (Hz)</text>
<text transform="translate(66.6 124.1) rotate(-90)" font-size="11.2">PSD (mm/s²)²/Hz</text>
<rect x="93.0" y="166.5" width="428.5" height="72.0" fill="none" stroke="#7f7f7f" stroke-width="1"/>
<path d="M176.7 238.5v-4.3M176.7 166.5v4.3M260.4 238.5v-4.3M260.4 166.5v4.3M344.0 238.5v-4.3M344.0 166.5v4.3M427.7 238.5v-4.3M427.7 166.5v4.3M511.4 238.5v-4.3M511.4 166.5v4.3M93.0 166.9h4.3M521.5 166.9h-4.3M93.0 202.6h4.3M521.5 202.6h-4.3" stroke="#444" stroke-width="0.9" fill="none"/>
<polyline points="93.3,237.6 93.5,238.4 93.7,235.7 93.9,232.7 94.0,236.0 94.2,231.3 94.4,200.9 94.6,235.5 94.8,225.7 95.0,229.9 95.2,232.6 95.3,234.9 95.5,212.0 95.7,229.7 95.9,237.7 96.1,234.0 96.3,238.4 96.5,237.9 96.7,236.8 96.8,237.7 97.0,232.1 97.2,230.8 97.4,236.6 97.6,236.8 97.8,238.0 98.0,238.1 98.1,232.9 98.3,234.4 98.5,238.2 98.7,235.6 98.9,236.2 99.1,230.0 99.3,232.8 99.4,234.4 99.6,234.9 99.8,225.1 100.0,219.1 100.2,236.6 100.4,237.3 100.6,231.3 100.7,238.2 100.9,236.5 101.1,238.2 101.3,236.8 101.5,238.2 101.7,237.0 101.9,231.5 102.0,227.9 102.2,231.4 102.4,234.8 102.6,234.2 102.8,236.5 103.0,237.7 103.2,235.9 103.4,232.6 103.5,200.4 103.7,237.5 103.9,231.9 104.1,236.9 104.3,233.1 104.5,232.5 104.7,226.3 104.8,236.2 105.0,236.5 105.2,231.1 105.4,232.0 105.6,233.7 105.8,231.0 106.0,233.9 106.1,224.3 106.3,236.7 106.5,232.5 106.7,225.0 106.9,236.7 107.1,234.2 107.3,236.5 107.4,235.7 107.6,238.1 107.8,238.4 108.0,232.1 108.2,235.8 108.4,234.1 108.6,232.4 108.7,236.1 108.9,232.5 109.1,206.4 109.3,231.4 109.5,230.4 109.7,232.5 109.9,229.1 110.1,233.8 110.2,233.1 110.4,237.5 110.6,231.9 110.8,236.7 111.0,235.9 111.2,236.8 111.4,212.0 111.5,233.7 111.7,234.6 111.9,236.8 112.1,237.4 112.3,230.1 112.5,236.9 112.7,235.9 112.8,238.1 113.0,236.9 113.2,238.1 113.4,236.6 113.6,232.9 113.8,222.1 114.0,234.1 114.1,237.1 114.3,233.7 114.5,234.1 114.7,230.6 114.9,235.1 115.1,227.6 115.3,236.1 115.4,166.5 115.6,225.6 115.8,227.0 116.0,232.7 116.2,235.4 116.4,235.4 116.6,233.8 116.8,235.8 116.9,234.9 117.1,222.5 117.3,226.4 117.5,230.2 117.7,237.9 117.9,234.8 118.1,207.5 118.2,227.6 118.4,236.8 118.6,226.5 118.8,237.3 119.0,236.0 119.2,224.0 119.4,234.4 119.5,226.4 119.7,235.0 119.9,237.3 120.1,232.9 120.3,233.0 120.5,214.5 120.7,233.8 120.8,237.8 121.0,226.6 121.2,224.4 121.4,223.3 121.6,236.5 121.8,238.3 122.0,234.9 122.1,232.5 122.3,233.8 122.5,238.3 122.7,237.3 122.9,233.0 123.1,238.2 123.3,230.1 123.5,218.2 123.6,237.2 123.8,238.2 124.0,221.0 124.2,231.9 124.4,235.8 124.6,235.6 124.8,227.4 124.9,236.5 125.1,238.3 125.3,234.2 125.5,236.8 125.7,233.4 125.9,225.2 126.1,201.5 126.2,234.4 126.4,238.3 126.6,230.5 126.8,238.1 127.0,224.8 127.2,233.0 127.4,227.6 127.5,230.9 127.7,237.5 127.9,237.6 128.1,223.9 128.3,237.0 128.5,231.5 128.7,237.7 128.8,236.9 129.0,233.5 129.2,237.2 129.4,232.2 129.6,229.0 129.8,231.4 130.0,209.0 130.2,237.1 130.3,236.0 130.5,238.2 130.7,234.7 130.9,233.3 131.1,234.7 131.3,234.3 131.5,218.5 131.6,228.0 131.8,235.1 132.0,229.6 132.2,236.5 132.4,237.8 132.6,237.4 132.8,231.4 132.9,237.3 133.1,231.8 133.3,228.0 133.5,235.0 133.7,237.8 133.9,234.1 134.1,236.4 134.2,227.7 134.4,237.4 134.6,237.3 134.8,235.5 135.0,235.4 135.2,237.6 135.4,236.4 135.6,233.5 135.7,235.6 135.9,238.2 136.1,236.1 136.3,236.1 136.5,235.8 136.7,238.4 136.9,236.5 137.0,220.0 137.2,228.8 137.4,225.8 137.6,232.1 137.8,235.9 138.0,226.0 138.2,236.9 138.3,234.5 138.5,234.5 138.7,235.9 138.9,237.2 139.1,236.7 139.3,233.9 139.5,237.0 139.6,236.6 139.8,236.5 140.0,236.7 140.2,230.6 140.4,234.9 140.6,224.0 140.8,232.4 140.9,235.4 141.1,231.7 141.3,235.4 141.5,236.8 141.7,230.3 141.9,237.6 142.1,237.0 142.3,235.5 142.4,229.7 142.6,237.9 142.8,236.6 143.0,235.1 143.2,233.4 143.4,238.0 143.6,232.2 143.7,234.8 143.9,235.2 144.1,236.3 144.3,236.8 144.5,228.5 144.7,216.9 144.9,237.6 145.0,237.4 145.2,233.6 145.4,232.0 145.6,230.7 145.8,236.9 146.0,237.4 146.2,238.2 146.3,236.4 146.5,234.8 146.7,229.2 146.9,238.3 147.1,237.8 147.3,216.0 147.5,233.4 147.6,237.9 147.8,238.0 148.0,238.4 148.2,233.8 148.4,237.0 148.6,237.3 148.8,233.6 149.0,237.9 149.1,235.0 149.3,238.1 149.5,238.2 149.7,233.5 149.9,231.4 150.1,236.0 150.3,236.5 150.4,233.7 150.6,238.2 150.8,237.2 151.0,229.2 151.2,226.7 151.4,238.3 151.6,238.5 151.7,232.7 151.9,236.1 152.1,232.8 152.3,234.4 152.5,236.1 152.7,233.6 152.9,234.8 153.0,238.4 153.2,236.0 153.4,230.0 153.6,232.5 153.8,234.3 154.0,234.7 154.2,231.8 154.3,237.1 154.5,236.5 154.7,234.6 154.9,203.0 155.1,235.5 155.3,237.8 155.5,237.2 155.7,236.2 155.8,238.1 156.0,234.6 156.2,229.5 156.4,236.8 156.6,226.1 156.8,236.3 157.0,235.5 157.1,223.6 157.3,233.6 157.5,235.7 157.7,232.9 157.9,236.0 158.1,233.4 158.3,237.5 158.4,238.2 158.6,234.9 158.8,235.6 159.0,236.1 159.2,238.0 159.4,227.7 159.6,238.0 159.7,224.9 159.9,237.0 160.1,237.2 160.3,227.4 160.5,225.7 160.7,233.7 160.9,226.2 161.0,237.7 161.2,230.8 161.4,234.7 161.6,237.1 161.8,234.9 162.0,238.0 162.2,232.3 162.4,207.7 162.5,232.4 162.7,237.5 162.9,237.1 163.1,236.0 163.3,237.5 163.5,237.1 163.7,235.3 163.8,237.9 164.0,233.0 164.2,236.1 164.4,236.4 164.6,235.1 164.8,237.8 165.0,229.7 165.1,238.0 165.3,235.4 165.5,225.2 165.7,237.9 165.9,233.7 166.1,223.9 166.3,216.9 166.4,236.8 166.6,234.6 166.8,227.2 167.0,234.6 167.2,230.3 167.4,233.8 167.6,236.6 167.7,218.5 167.9,229.6 168.1,236.0 168.3,236.2 168.5,237.1 168.7,237.8 168.9,234.1 169.1,236.5 169.2,230.0 169.4,238.3 169.6,230.3 169.8,238.1 170.0,231.6 170.2,236.1 170.4,233.2 170.5,236.1 170.7,237.8 170.9,226.8 171.1,234.4 171.3,237.5 171.5,234.9 171.7,237.6 171.8,236.5 172.0,234.9 172.2,233.8 172.4,217.0 172.6,235.1 172.8,236.1 173.0,235.6 173.1,230.8 173.3,235.1 173.5,231.9 173.7,236.7 173.9,237.7 174.1,237.2 174.3,238.4 174.5,236.7 174.6,234.5 174.8,231.2 175.0,237.4 175.2,233.7 175.4,233.0 175.6,233.8 175.8,225.4 175.9,235.1 176.1,236.2 176.3,235.5 176.5,238.5 176.7,238.5 176.9,235.8 177.1,235.8 177.2,218.5 177.4,235.8 177.6,234.4 177.8,235.6 178.0,236.5 178.2,232.7 178.4,238.3 178.5,229.9 178.7,234.0 178.9,236.3 179.1,233.8 179.3,227.4 179.5,234.3 179.7,234.1 179.8,233.7 180.0,228.7 180.2,229.8 180.4,237.2 180.6,238.4 180.8,237.2 181.0,236.7 181.2,237.4 181.3,236.1 181.5,227.5 181.7,237.7 181.9,236.6 182.1,231.4 182.3,237.9 182.5,236.8 182.6,235.3 182.8,232.7 183.0,230.7 183.2,237.3 183.4,226.4 183.6,236.2 183.8,237.9 183.9,237.8 184.1,236.2 184.3,231.9 184.5,238.2 184.7,237.5 184.9,232.1 185.1,231.6 185.2,237.6 185.4,238.3 185.6,234.3 185.8,232.2 186.0,238.3 186.2,235.6 186.4,237.9 186.5,234.9 186.7,238.0 186.9,237.9 187.1,235.4 187.3,226.9 187.5,235.3 187.7,211.8 187.9,237.2 188.0,231.8 188.2,237.4 188.4,237.2 188.6,236.3 188.8,230.8 189.0,237.2 189.2,236.0 189.3,235.9 189.5,235.8 189.7,236.2 189.9,232.0 190.1,237.6 190.3,234.8 190.5,213.0 190.6,230.4 190.8,236.3 191.0,216.9 191.2,234.2 191.4,237.6 191.6,228.3 191.8,237.1 191.9,234.5 192.1,232.8 192.3,238.1 192.5,237.7 192.7,236.3 192.9,236.7 193.1,217.2 193.2,235.4 193.4,236.7 193.6,222.7 193.8,236.1 194.0,236.1 194.2,237.4 194.4,237.7 194.6,237.3 194.7,229.9 194.9,229.9 195.1,237.8 195.3,236.5 195.5,235.1 195.7,235.3 195.9,237.6 196.0,238.2 196.2,232.2 196.4,237.9 196.6,236.5 196.8,232.8 197.0,233.9 197.2,236.4 197.3,232.1 197.5,218.7 197.7,211.8 197.9,229.9 198.1,235.6 198.3,236.6 198.5,220.4 198.6,232.6 198.8,237.9 199.0,235.4 199.2,236.6 199.4,235.8 199.6,232.9 199.8,236.9 199.9,234.9 200.1,237.4 200.3,225.0 200.5,229.8 200.7,233.2 200.9,236.7 201.1,237.2 201.3,234.8 201.4,235.9 201.6,221.1 201.8,237.1 202.0,228.5 202.2,237.4 202.4,232.1 202.6,230.6 202.7,237.7 202.9,236.2 203.1,233.6 203.3,236.4 203.5,238.0 203.7,232.7 203.9,235.9 204.0,237.7 204.2,238.3 204.4,235.6 204.6,237.1 204.8,231.9 205.0,237.8 205.2,238.4 205.3,229.1 205.5,236.4 205.7,230.9 205.9,235.2 206.1,224.0 206.3,227.5 206.5,238.2 206.6,237.2 206.8,237.7 207.0,226.1 207.2,233.8 207.4,228.2 207.6,221.8 207.8,232.3 208.0,230.3 208.1,227.3 208.3,234.8 208.5,231.7 208.7,224.0 208.9,236.0 209.1,237.5 209.3,234.2 209.4,238.3 209.6,237.0 209.8,236.6 210.0,232.0 210.2,238.4 210.4,237.0 210.6,237.0 210.7,234.2 210.9,230.3 211.1,235.9 211.3,231.1 211.5,222.7 211.7,235.7 211.9,237.0 212.0,237.6 212.2,229.7 212.4,234.8 212.6,237.3 212.8,235.4 213.0,236.4 213.2,238.4 213.4,233.8 213.5,230.5 213.7,234.8 213.9,237.9 214.1,236.3 214.3,237.6 214.5,237.8 214.7,237.1 214.8,229.5 215.0,231.2 215.2,232.3 215.4,228.1 215.6,238.0 215.8,237.5 216.0,238.3 216.1,238.5 216.3,234.4 216.5,236.4 216.7,235.2 216.9,230.5 217.1,237.2 217.3,237.4 217.4,231.6 217.6,210.5 217.8,228.2 218.0,236.8 218.2,238.4 218.4,237.5 218.6,238.2 218.7,231.1 218.9,238.3 219.1,238.3 219.3,234.7 219.5,237.6 219.7,236.9 219.9,232.4 220.1,236.3 220.2,233.3 220.4,237.2 220.6,237.9 220.8,238.2 221.0,231.3 221.2,238.0 221.4,238.2 221.5,237.8 221.7,235.6 221.9,233.9 222.1,235.3 222.3,214.5 222.5,235.8 222.7,233.1 222.8,234.8 223.0,237.7 223.2,236.9 223.4,218.7 223.6,236.1 223.8,234.0 224.0,237.8 224.1,234.0 224.3,233.8 224.5,237.8 224.7,227.3 224.9,236.5 225.1,236.8 225.3,234.0 225.4,217.2 225.6,231.3 225.8,235.2 226.0,238.3 226.2,235.9 226.4,234.7 226.6,231.3 226.8,237.6 226.9,236.0 227.1,234.4 227.3,233.9 227.5,238.3 227.7,230.2 227.9,238.0 228.1,230.9 228.2,230.6 228.4,234.7 228.6,235.4 228.8,236.8 229.0,236.6 229.2,228.4 229.4,234.3 229.5,236.0 229.7,236.7 229.9,217.4 230.1,226.1 230.3,226.9 230.5,226.8 230.7,236.5 230.8,230.4 231.0,233.3 231.2,227.5 231.4,232.5 231.6,230.4 231.8,218.5 232.0,234.6 232.1,233.1 232.3,238.1 232.5,236.3 232.7,231.2 232.9,238.1 233.1,236.7 233.3,234.1 233.5,235.8 233.6,238.2 233.8,237.7 234.0,233.6 234.2,234.9 234.4,234.5 234.6,227.8 234.8,226.3 234.9,236.9 235.1,228.8 235.3,235.2 235.5,233.9 235.7,238.0 235.9,235.9 236.1,214.5 236.2,225.9 236.4,236.1 236.6,237.2 236.8,224.0 237.0,235.4 237.2,225.2 237.4,238.3 237.5,234.4 237.7,237.0 237.9,238.5 238.1,235.5 238.3,225.2 238.5,235.7 238.7,237.4 238.8,233.1 239.0,229.1 239.2,232.1 239.4,237.2 239.6,231.7 239.8,231.7 240.0,235.7 240.2,232.2 240.3,238.3 240.5,237.5 240.7,236.3 240.9,226.7 241.1,233.1 241.3,233.5 241.5,230.7 241.6,232.7 241.8,238.2 242.0,228.5 242.2,232.0 242.4,217.2 242.6,234.4 242.8,235.8 242.9,238.4 243.1,231.2 243.3,236.6 243.5,234.1 243.7,230.8 243.9,226.5 244.1,235.1 244.2,235.8 244.4,238.5 244.6,238.0 244.8,232.7 245.0,237.6 245.2,235.1 245.4,237.7 245.5,231.4 245.7,237.4 245.9,231.9 246.1,235.9 246.3,232.3 246.5,236.5 246.7,223.4 246.9,235.4 247.0,236.2 247.2,236.1 247.4,236.9 247.6,233.5 247.8,237.6 248.0,237.7 248.2,223.6 248.3,237.4 248.5,231.0 248.7,238.1 248.9,234.4 249.1,238.0 249.3,236.5 249.5,236.7 249.6,216.0 249.8,235.5 250.0,237.0 250.2,232.1 250.4,232.1 250.6,231.5 250.8,234.6 250.9,232.2 251.1,235.9 251.3,236.8 251.5,231.0 251.7,236.2 251.9,237.9 252.1,224.5 252.3,237.9 252.4,231.9 252.6,237.4 252.8,229.7 253.0,234.1 253.2,225.5 253.4,234.3 253.6,230.2 253.7,235.4 253.9,228.6 254.1,236.1 254.3,226.6 254.5,233.8 254.7,227.1 254.9,238.3 255.0,236.5 255.2,228.1 255.4,237.1 255.6,235.0 255.8,236.1 256.0,238.5 256.2,238.3 256.3,235.5 256.5,236.4 256.7,228.7 256.9,236.7 257.1,237.7 257.3,237.9 257.5,236.1 257.6,219.7 257.8,228.3 258.0,235.1 258.2,235.2 258.4,234.1 258.6,217.2 258.8,234.0 259.0,226.0 259.1,229.1 259.3,235.7 259.5,236.6 259.7,235.1 259.9,235.3 260.1,236.8 260.3,237.9 260.4,232.7 260.6,228.6 260.8,233.8 261.0,237.0 261.2,235.9 261.4,237.6 261.6,226.1 261.7,237.2 261.9,236.5 262.1,233.8 262.3,232.5 262.5,235.8 262.7,237.8 262.9,236.1 263.0,230.9 263.2,237.0 263.4,236.1 263.6,237.1 263.8,236.4 264.0,236.7 264.2,235.6 264.3,230.5 264.5,230.9 264.7,236.2 264.9,214.5 265.1,236.6 265.3,233.4 265.5,232.5 265.7,232.5 265.8,237.4 266.0,237.4 266.2,218.8 266.4,234.5 266.6,232.0 266.8,237.5 267.0,234.2 267.1,236.9 267.3,235.5 267.5,235.9 267.7,229.7 267.9,236.5 268.1,232.5 268.3,218.5 268.4,234.3 268.6,229.8 268.8,237.3 269.0,236.1 269.2,221.5 269.4,230.6 269.6,228.8 269.7,234.4 269.9,236.4 270.1,237.8 270.3,229.5 270.5,238.0 270.7,226.3 270.9,226.6 271.0,225.1 271.2,231.7 271.4,233.6 271.6,236.3 271.8,230.5 272.0,234.6 272.2,235.3 272.4,237.8 272.5,231.1 272.7,208.5 272.9,234.2 273.1,233.0 273.3,235.9 273.5,237.9 273.7,234.8 273.8,231.5 274.0,217.8 274.2,237.2 274.4,236.3 274.6,235.5 274.8,235.5 275.0,237.3 275.1,236.7 275.3,238.1 275.5,234.7 275.7,216.9 275.9,237.9 276.1,232.8 276.3,235.1 276.4,236.7 276.6,236.7 276.8,219.2 277.0,238.0 277.2,234.5 277.4,235.0 277.6,225.6 277.7,237.5 277.9,238.4 278.1,228.7 278.3,236.7 278.5,236.1 278.7,237.9 278.9,234.9 279.1,221.3 279.2,233.3 279.4,237.8 279.6,237.5 279.8,236.2 280.0,236.2 280.2,238.3 280.4,216.9 280.5,230.2 280.7,231.7 280.9,233.1 281.1,236.2 281.3,233.5 281.5,230.3 281.7,232.8 281.8,211.8 282.0,231.7 282.2,232.6 282.4,227.6 282.6,231.4 282.8,236.7 283.0,235.3 283.1,238.1 283.3,236.1 283.5,233.9 283.7,237.4 283.9,234.6 284.1,236.7 284.3,237.3 284.4,236.5 284.6,234.4 284.8,235.7 285.0,235.8 285.2,231.8 285.4,205.8 285.6,231.8 285.8,238.0 285.9,238.4 286.1,236.4 286.3,237.9 286.5,233.7 286.7,229.8 286.9,232.5 287.1,235.9 287.2,230.3 287.4,232.9 287.6,235.2 287.8,234.3 288.0,237.6 288.2,238.4 288.4,227.2 288.5,214.5 288.7,234.6 288.9,234.6 289.1,231.5 289.3,238.0 289.5,232.8 289.7,231.4 289.8,237.3 290.0,234.8 290.2,231.2 290.4,225.2 290.6,236.1 290.8,237.8 291.0,232.6 291.2,234.2 291.3,235.4 291.5,236.3 291.7,238.4 291.9,227.1 292.1,236.3 292.3,213.2 292.5,232.4 292.6,234.5 292.8,238.3 293.0,232.0 293.2,232.4 293.4,238.5 293.6,233.8 293.8,236.9 293.9,237.0 294.1,229.8 294.3,238.2 294.5,236.1 294.7,224.6 294.9,238.1 295.1,234.3 295.2,237.2 295.4,237.3 295.6,236.6 295.8,232.9 296.0,236.1 296.2,232.9 296.4,227.2 296.5,227.5 296.7,235.0 296.9,237.2 297.1,234.0 297.3,238.1 297.5,236.6 297.7,236.9 297.9,224.7 298.0,234.8 298.2,236.3 298.4,237.0 298.6,235.1 298.8,216.0 299.0,229.7 299.2,235.4 299.3,221.9 299.5,238.3 299.7,234.3 299.9,236.0 300.1,236.9 300.3,235.5 300.5,216.9 300.6,236.2 300.8,225.8 301.0,235.1 301.2,236.3 301.4,238.2 301.6,238.1 301.8,213.2 301.9,235.3 302.1,237.0 302.3,236.4 302.5,238.2 302.7,237.5 302.9,237.4 303.1,236.0 303.2,237.8 303.4,234.3 303.6,235.7 303.8,233.2 304.0,237.5 304.2,237.3 304.4,235.7 304.6,236.2 304.7,236.7 304.9,237.8 305.1,235.4 305.3,236.4 305.5,236.4 305.7,231.4 305.9,192.7 306.0,227.9 306.2,224.4 306.4,236.6 306.6,238.2 306.8,237.3 307.0,238.2 307.2,221.7 307.3,236.9 307.5,237.7 307.7,238.0 307.9,230.7 308.1,234.8 308.3,228.1 308.5,236.3 308.6,236.0 308.8,235.2 309.0,210.5 309.2,235.2 309.4,237.2 309.6,234.8 309.8,225.4 309.9,234.8 310.1,235.9 310.3,238.2 310.5,219.7 310.7,238.4 310.9,234.8 311.1,216.0 311.3,227.0 311.4,236.6 311.6,227.6 311.8,229.4 312.0,236.6 312.2,234.8 312.4,236.4 312.6,229.3 312.7,233.2 312.9,233.3 313.1,234.3 313.3,234.1 313.5,233.0 313.7,229.3 313.9,236.9 314.0,237.7 314.2,236.7 314.4,231.6 314.6,229.8 314.8,236.1 315.0,234.9 315.2,231.3 315.3,232.0 315.5,231.8 315.7,235.1 315.9,233.6 316.1,237.9 316.3,235.1 316.5,238.4 316.6,235.8 316.8,238.0 317.0,228.9 317.2,230.3 317.4,234.4 317.6,226.8 317.8,237.9 318.0,233.2 318.1,236.1 318.3,232.9 318.5,231.9 318.7,226.3 318.9,225.1 319.1,235.0 319.3,227.4 319.4,236.0 319.6,232.7 319.8,235.1 320.0,229.6 320.2,237.7 320.4,232.1 320.6,230.0 320.7,232.8 320.9,237.7 321.1,233.9 321.3,230.6 321.5,237.6 321.7,221.8 321.9,236.8 322.0,237.7 322.2,234.0 322.4,238.4 322.6,234.4 322.8,236.0 323.0,224.9 323.2,236.9 323.3,235.5 323.5,238.4 323.7,234.7 323.9,216.0 324.1,234.9 324.3,236.6 324.5,232.5 324.7,236.1 324.8,237.2 325.0,237.8 325.2,238.4 325.4,231.8 325.6,235.7 325.8,237.0 326.0,238.1 326.1,232.8 326.3,229.4 326.5,236.7 326.7,236.0 326.9,224.3 327.1,237.0 327.3,236.3 327.4,236.1 327.6,234.4 327.8,236.3 328.0,226.6 328.2,231.7 328.4,237.0 328.6,238.1 328.7,228.3 328.9,232.2 329.1,236.5 329.3,233.6 329.5,237.6 329.7,236.6 329.9,232.9 330.1,234.9 330.2,234.1 330.4,234.9 330.6,236.0 330.8,235.6 331.0,233.2 331.2,218.9 331.4,237.4 331.5,226.0 331.7,236.8 331.9,235.2 332.1,236.9 332.3,223.5 332.5,233.2 332.7,236.8 332.8,230.7 333.0,234.5 333.2,234.9 333.4,235.9 333.6,225.4 333.8,231.8 334.0,237.4 334.1,237.8 334.3,233.6 334.5,236.7 334.7,237.3 334.9,237.5 335.1,238.1 335.3,236.1 335.4,233.6 335.6,230.9 335.8,236.8 336.0,238.2 336.2,237.4 336.4,237.9 336.6,236.2 336.8,238.4 336.9,232.3 337.1,234.7 337.3,231.8 337.5,227.5 337.7,228.6 337.9,236.9 338.1,237.9 338.2,236.4 338.4,229.5 338.6,229.0 338.8,234.2 339.0,236.5 339.2,234.6 339.4,237.2 339.5,238.0 339.7,238.4 339.9,238.4 340.1,230.5 340.3,235.8 340.5,236.9 340.7,233.1 340.8,235.7 341.0,238.0 341.2,234.6 341.4,236.6 341.6,235.4 341.8,227.9 342.0,238.3 342.1,229.5 342.3,237.8 342.5,238.1 342.7,237.2 342.9,233.3 343.1,237.3 343.3,238.3 343.5,234.1 343.6,235.3 343.8,234.1 344.0,233.9 344.2,229.3 344.4,237.2 344.6,232.6 344.8,236.6 344.9,236.3 345.1,238.4 345.3,231.5 345.5,235.2 345.7,236.9 345.9,238.3 346.1,237.5 346.2,237.1 346.4,235.2 346.6,233.2 346.8,237.0 347.0,237.3 347.2,238.3 347.4,232.0 347.5,237.7 347.7,233.1 347.9,234.6 348.1,237.1 348.3,237.7 348.5,238.1 348.7,221.3 348.8,233.7 349.0,227.2 349.2,235.1 349.4,237.6 349.6,233.5 349.8,235.4 350.0,232.7 350.2,236.1 350.3,234.5 350.5,237.8 350.7,237.8 350.9,238.2 351.1,231.9 351.3,236.2 351.5,238.0 351.6,231.0 351.8,236.3 352.0,237.9 352.2,238.3 352.4,238.2 352.6,235.8 352.8,237.0 352.9,232.6 353.1,233.7 353.3,235.9 353.5,237.0 353.7,234.0 353.9,233.1 354.1,236.4 354.2,234.9 354.4,233.1 354.6,236.9 354.8,235.9 355.0,237.7 355.2,236.6 355.4,237.5 355.5,238.1 355.7,233.1 355.9,235.3 356.1,235.2 356.3,231.1 356.5,233.1 356.7,236.8 356.9,237.4 357.0,236.1 357.2,231.7 357.4,228.2 357.6,227.8 357.8,236.8 358.0,235.8 358.2,229.5 358.3,236.6 358.5,233.6 358.7,237.9 358.9,238.0 359.1,237.2 359.3,237.8 359.5,237.9 359.6,238.2 359.8,236.9 360.0,238.0 360.2,230.3 360.4,238.4 360.6,238.4 360.8,237.5 360.9,231.9 361.1,232.2 361.3,237.5 361.5,238.3 361.7,234.1 361.9,237.5 362.1,230.6 362.2,236.8 362.4,236.4 362.6,237.8 362.8,233.1 363.0,230.5 363.2,232.8 363.4,233.8 363.6,236.9 363.7,238.2 363.9,238.4 364.1,236.0 364.3,233.3 364.5,237.9 364.7,236.9 364.9,236.7 365.0,235.0 365.2,238.3 365.4,238.3 365.6,237.9 365.8,236.0 366.0,236.7 366.2,227.4 366.3,236.1 366.5,231.4 366.7,237.8 366.9,238.4 367.1,232.4 367.3,236.6 367.5,238.2 367.6,235.8 367.8,235.8 368.0,237.5 368.2,231.5 368.4,232.8 368.6,236.5 368.8,237.6 369.0,237.4 369.1,231.0 369.3,236.8 369.5,235.6 369.7,237.9 369.9,235.6 370.1,226.0 370.3,231.2 370.4,225.4 370.6,235.9 370.8,235.7 371.0,235.8 371.2,233.9 371.4,238.2 371.6,234.5 371.7,224.0 371.9,237.9 372.1,236.7 372.3,236.3 372.5,231.8 372.7,238.0 372.9,238.4 373.0,237.2 373.2,231.7 373.4,237.6 373.6,237.9 373.8,234.4 374.0,238.4 374.2,234.6 374.3,236.5 374.5,236.6 374.7,233.0 374.9,236.9 375.1,236.3 375.3,237.5 375.5,232.9 375.7,233.2 375.8,233.9 376.0,238.3 376.2,236.6 376.4,222.7 376.6,234.6 376.8,227.1 377.0,237.9 377.1,235.1 377.3,221.3 377.5,234.9 377.7,237.5 377.9,238.3 378.1,234.1 378.3,237.2 378.4,236.7 378.6,237.3 378.8,237.2 379.0,228.5 379.2,235.0 379.4,231.7 379.6,236.6 379.7,233.3 379.9,232.2 380.1,237.9 380.3,228.5 380.5,238.1 380.7,235.7 380.9,236.9 381.0,216.0 381.2,234.2 381.4,235.2 381.6,234.6 381.8,238.3 382.0,235.5 382.2,236.0 382.4,237.0 382.5,238.0 382.7,238.1 382.9,234.2 383.1,236.5 383.3,222.7 383.5,236.9 383.7,233.2 383.8,237.9 384.0,237.5 384.2,238.2 384.4,232.6 384.6,231.7 384.8,236.6 385.0,237.1 385.1,232.8 385.3,236.6 385.5,237.9 385.7,235.8 385.9,235.9 386.1,233.9 386.3,234.1 386.4,225.4 386.6,237.5 386.8,228.7 387.0,237.3 387.2,234.3 387.4,236.3 387.6,236.4 387.7,238.4 387.9,237.4 388.1,235.7 388.3,238.0 388.5,236.9 388.7,237.3 388.9,236.1 389.1,237.8 389.2,234.6 389.4,237.1 389.6,238.3 389.8,226.7 390.0,226.8 390.2,234.1 390.4,232.7 390.5,238.0 390.7,238.0 390.9,238.3 391.1,237.5 391.3,234.1 391.5,238.0 391.7,228.5 391.8,236.4 392.0,232.6 392.2,235.7 392.4,236.0 392.6,236.9 392.8,235.0 393.0,236.8 393.1,232.9 393.3,237.5 393.5,238.2 393.7,235.8 393.9,237.9 394.1,237.8 394.3,217.9 394.4,233.8 394.6,237.2 394.8,236.8 395.0,236.2 395.2,237.4 395.4,237.4 395.6,226.8 395.8,237.7 395.9,237.9 396.1,232.0 396.3,233.9 396.5,225.3 396.7,235.3 396.9,237.9 397.1,236.3 397.2,230.8 397.4,235.4 397.6,233.0 397.8,237.6 398.0,238.0 398.2,227.5 398.4,236.3 398.5,231.5 398.7,235.8 398.9,237.3 399.1,234.6 399.3,236.5 399.5,238.0 399.7,233.6 399.8,220.3 400.0,232.4 400.2,234.9 400.4,233.5 400.6,233.3 400.8,238.5 401.0,230.8 401.1,238.4 401.3,238.3 401.5,235.2 401.7,238.0 401.9,233.9 402.1,224.5 402.3,234.3 402.5,238.0 402.6,237.4 402.8,233.5 403.0,235.5 403.2,236.3 403.4,237.5 403.6,237.9 403.8,237.2 403.9,237.0 404.1,237.3 404.3,233.5 404.5,237.8 404.7,237.5 404.9,236.2 405.1,236.6 405.2,236.6 405.4,238.4 405.6,236.5 405.8,233.1 406.0,230.9 406.2,233.5 406.4,237.1 406.5,235.2 406.7,237.0 406.9,236.5 407.1,228.7 407.3,228.0 407.5,234.9 407.7,236.5 407.9,235.3 408.0,235.8 408.2,238.4 408.4,237.6 408.6,234.5 408.8,236.1 409.0,233.4 409.2,237.9 409.3,238.3 409.5,234.9 409.7,235.6 409.9,235.4 410.1,233.4 410.3,237.6 410.5,229.5 410.6,231.5 410.8,230.9 411.0,233.6 411.2,237.5 411.4,232.2 411.6,228.9 411.8,228.4 411.9,231.3 412.1,233.7 412.3,237.7 412.5,237.9 412.7,236.0 412.9,231.1 413.1,236.1 413.2,236.1 413.4,234.5 413.6,238.1 413.8,236.6 414.0,237.2 414.2,237.5 414.4,236.7 414.6,216.0 414.7,227.1 414.9,233.9 415.1,228.7 415.3,236.1 415.5,237.1 415.7,228.5 415.9,237.5 416.0,238.2 416.2,235.7 416.4,231.0 416.6,236.5 416.8,236.9 417.0,235.3 417.2,236.8 417.3,235.7 417.5,237.2 417.7,238.0 417.9,235.6 418.1,234.2 418.3,234.2 418.5,235.6 418.6,238.2 418.8,234.6 419.0,237.6 419.2,238.4 419.4,236.5 419.6,233.5 419.8,236.0 419.9,224.0 420.1,234.6 420.3,236.1 420.5,236.1 420.7,229.7 420.9,237.1 421.1,235.3 421.3,238.0 421.4,233.7 421.6,237.0 421.8,234.4 422.0,235.5 422.2,230.7 422.4,238.1 422.6,238.2 422.7,229.2 422.9,236.2 423.1,233.4 423.3,236.4 423.5,238.3 423.7,233.8 423.9,237.1 424.0,236.3 424.2,235.3 424.4,235.2 424.6,233.7 424.8,235.6 425.0,237.7 425.2,234.2 425.3,238.0 425.5,222.7 425.7,225.8 425.9,233.3 426.1,236.6 426.3,236.9 426.5,231.4 426.6,238.4 426.8,231.1 427.0,237.5 427.2,237.0 427.4,237.4 427.6,236.9 427.8,234.3 428.0,220.4 428.1,236.8 428.3,237.7 428.5,237.4 428.7,235.6 428.9,234.6 429.1,234.8 429.3,235.6 429.4,234.5 429.6,235.1 429.8,231.9 430.0,235.1 430.2,225.3 430.4,235.2 430.6,233.9 430.7,234.9 430.9,224.0 431.1,233.8 431.3,236.6 431.5,237.9 431.7,238.1 431.9,237.4 432.0,234.4 432.2,236.3 432.4,236.0 432.6,231.1 432.8,233.5 433.0,235.8 433.2,238.5 433.3,238.3 433.5,235.6 433.7,237.8 433.9,235.7 434.1,235.7 434.3,234.6 434.5,232.8 434.7,236.7 434.8,237.2 435.0,226.3 435.2,236.7 435.4,237.0 435.6,236.1 435.8,234.7 436.0,238.2 436.1,237.0 436.3,238.2 436.5,234.2 436.7,231.1 436.9,230.0 437.1,235.6 437.3,236.8 437.4,232.5 437.6,216.0 437.8,237.0 438.0,237.7 438.2,238.3 438.4,238.0 438.6,231.2 438.7,236.6 438.9,238.4 439.1,236.9 439.3,237.4 439.5,238.4 439.7,238.2 439.9,233.2 440.0,236.6 440.2,231.3 440.4,238.0 440.6,237.1 440.8,229.3 441.0,235.7 441.2,230.9 441.4,222.7 441.5,235.7 441.7,234.7 441.9,229.1 442.1,237.6 442.3,232.9 442.5,232.0 442.7,238.3 442.8,237.2 443.0,236.2 443.2,233.9 443.4,236.7 443.6,236.3 443.8,238.4 444.0,237.9 444.1,237.1 444.3,236.4 444.5,227.1 444.7,237.3 444.9,234.2 445.1,238.4 445.3,235.9 445.4,233.3 445.6,235.5 445.8,218.5 446.0,234.2 446.2,236.3 446.4,235.5 446.6,229.9 446.8,237.3 446.9,235.3 447.1,238.0 447.3,237.0 447.5,237.8 447.7,233.8 447.9,236.9 448.1,234.8 448.2,235.8 448.4,236.7 448.6,234.6 448.8,237.7 449.0,232.4 449.2,233.6 449.4,237.1 449.5,236.1 449.7,233.4 449.9,213.0 450.1,232.2 450.3,232.4 450.5,233.0 450.7,234.8 450.8,237.8 451.0,219.8 451.2,238.1 451.4,237.7 451.6,237.1 451.8,238.5 452.0,237.5 452.1,229.5 452.3,237.4 452.5,234.9 452.7,229.5 452.9,236.9 453.1,234.8 453.3,234.3 453.5,230.4 453.6,238.1 453.8,235.0 454.0,235.6 454.2,234.7 454.4,235.8 454.6,229.4 454.8,231.7 454.9,236.9 455.1,236.8 455.3,237.7 455.5,231.0 455.7,237.4 455.9,225.3 456.1,238.5 456.2,222.9 456.4,237.3 456.6,237.7 456.8,238.3 457.0,233.5 457.2,236.6 457.4,235.7 457.5,222.7 457.7,231.8 457.9,235.3 458.1,232.9 458.3,237.2 458.5,233.5 458.7,238.1 458.8,228.5 459.0,238.3 459.2,235.6 459.4,237.6 459.6,237.4 459.8,236.2 460.0,238.4 460.2,237.1 460.3,237.5 460.5,233.5 460.7,232.9 460.9,235.9 461.1,235.1 461.3,236.7 461.5,238.0 461.6,232.5 461.8,236.9 462.0,236.8 462.2,226.6 462.4,225.1 462.6,237.2 462.8,232.6 462.9,233.4 463.1,237.2 463.3,235.7 463.5,229.4 463.7,225.4 463.9,236.7 464.1,236.4 464.2,231.0 464.4,238.1 464.6,238.0 464.8,235.7 465.0,221.6 465.2,234.7 465.4,236.4 465.5,233.4 465.7,238.0 465.9,236.0 466.1,235.2 466.3,237.9 466.5,237.4 466.7,237.2 466.9,235.0 467.0,229.6 467.2,238.5 467.4,234.7 467.6,235.5 467.8,230.4 468.0,236.6 468.2,233.3 468.3,236.1 468.5,238.2 468.7,235.0 468.9,234.7 469.1,225.4 469.3,237.1 469.5,238.2 469.6,227.9 469.8,237.4 470.0,237.1 470.2,238.2 470.4,237.2 470.6,237.5 470.8,237.3 470.9,235.8 471.1,238.0 471.3,238.1 471.5,236.0 471.7,224.1 471.9,233.9 472.1,236.9 472.2,237.6 472.4,233.1 472.6,218.5 472.8,235.1 473.0,236.0 473.2,237.6 473.4,230.8 473.6,237.5 473.7,236.5 473.9,235.2 474.1,230.3 474.3,237.7 474.5,231.2 474.7,233.1 474.9,237.9 475.0,236.8 475.2,230.3 475.4,217.2 475.6,237.0 475.8,222.0 476.0,236.0 476.2,236.6 476.3,238.2 476.5,238.1 476.7,236.5 476.9,236.1 477.1,232.7 477.3,238.2 477.5,235.7 477.6,237.6 477.8,232.4 478.0,210.0 478.2,231.7 478.4,236.6 478.6,235.6 478.8,237.7 478.9,237.9 479.1,237.8 479.3,236.5 479.5,237.4 479.7,236.9 479.9,234.0 480.1,238.4 480.3,224.3 480.4,227.7 480.6,237.5 480.8,233.0 481.0,238.1 481.2,235.4 481.4,238.1 481.6,237.1 481.7,229.9 481.9,229.5 482.1,236.8 482.3,238.2 482.5,237.8 482.7,232.0 482.9,238.3 483.0,235.4 483.2,224.7 483.4,238.3 483.6,237.0 483.8,236.3 484.0,237.6 484.2,234.1 484.3,236.0 484.5,236.3 484.7,238.3 484.9,236.9 485.1,237.8 485.3,238.1 485.5,237.5 485.7,237.9 485.8,237.4 486.0,238.5 486.2,237.4 486.4,238.3 486.6,237.6 486.8,237.2 487.0,236.4 487.1,238.4 487.3,237.6 487.5,238.3 487.7,237.7 487.9,238.5 488.1,237.7 488.3,237.3 488.4,236.9 488.6,238.4 488.8,238.4 489.0,238.4 489.2,237.5 489.4,237.5 489.6,237.2 489.7,237.3 489.9,238.3 490.1,237.7 490.3,238.5 490.5,238.3 490.7,238.4 490.9,236.5 491.0,238.5 491.2,238.2 491.4,237.8 491.6,238.1 491.8,237.8 492.0,237.7 492.2,237.4 492.4,237.8 492.5,238.3 492.7,238.4 492.9,238.1 493.1,237.7 493.3,237.6 493.5,237.5 493.7,237.9 493.8,238.3 494.0,236.6 494.2,238.1 494.4,237.4 494.6,237.5 494.8,237.6 495.0,237.4 495.1,236.7 495.3,237.0 495.5,236.2 495.7,237.5 495.9,236.8 496.1,235.4 496.3,238.2 496.4,238.0 496.6,238.0 496.8,238.3 497.0,238.1 497.2,238.1 497.4,237.0 497.6,236.9 497.7,237.7 497.9,238.2 498.1,237.4 498.3,237.9 498.5,237.8 498.7,238.3 498.9,237.4 499.1,237.9 499.2,237.7 499.4,238.0 499.6,237.1 499.8,237.9 500.0,237.8 500.2,237.7 500.4,237.9 500.5,237.5 500.7,238.2 500.9,237.4 501.1,237.4 501.3,238.2 501.5,238.4 501.7,237.6 501.8,237.6 502.0,238.5 502.2,237.7 502.4,237.3 502.6,238.1 502.8,238.5 503.0,237.8 503.1,230.3 503.3,237.7 503.5,238.1 503.7,238.0 503.9,238.3 504.1,238.4 504.3,236.6 504.4,238.4 504.6,238.2 504.8,238.4 505.0,238.2 505.2,238.0 505.4,238.0 505.6,237.9 505.8,238.0 505.9,237.8 506.1,238.5 506.3,237.9 506.5,238.4 506.7,237.6 506.9,238.5 507.1,238.4 507.2,238.3 507.4,237.8 507.6,238.2 507.8,236.7 508.0,237.0 508.2,237.7 508.4,236.3 508.5,238.4 508.7,238.1 508.9,238.3 509.1,236.6 509.3,238.4 509.5,238.0 509.7,238.4 509.8,236.5 510.0,237.8 510.2,238.3 510.4,236.8 510.6,228.7 510.8,236.8 511.0,237.7 511.1,237.9 511.3,237.7 511.5,238.4 511.7,238.1 511.9,238.3 512.1,237.3 512.3,237.7 512.5,237.2 512.6,238.3 512.8,235.9 513.0,237.8 513.2,238.4 513.4,237.6 513.6,238.0 513.8,238.0 513.9,238.1 514.1,235.7 514.3,237.9 514.5,237.6 514.7,235.0 514.9,236.7 515.1,238.2 515.2,237.6 515.4,237.9 515.6,238.3 515.8,237.2 516.0,228.2 516.2,237.7 516.4,237.5 516.5,236.9 516.7,238.3 516.9,238.5 517.1,238.3 517.3,237.4 517.5,237.0 517.7,238.4 517.8,237.9 518.0,238.1 518.2,238.3 518.4,238.3 518.6,238.0 518.8,237.8 519.0,237.5 519.2,237.1 519.3,238.2 519.5,237.9 519.7,237.8 519.9,236.4 520.1,237.1 520.3,236.9 520.5,237.8 520.6,238.1 520.8,238.3 521.0,237.9 521.2,231.0" fill="none" stroke="#0072bd" stroke-width="0.95" stroke-linejoin="round"/>
<g font-size="10" fill="#111"><text transform="translate(93.8 247.9) scale(.9 1)" text-anchor="middle">0</text><text transform="translate(177.5 247.9) scale(.9 1)" text-anchor="middle">50</text><text transform="translate(261.2 247.9) scale(.9 1)" text-anchor="middle">100</text><text transform="translate(344.8 247.9) scale(.9 1)" text-anchor="middle">150</text><text transform="translate(428.5 247.9) scale(.9 1)" text-anchor="middle">200</text><text transform="translate(512.2 247.9) scale(.9 1)" text-anchor="middle">250</text></g>
<g font-size="10"><text transform="translate(91.2 171.6) scale(.9 1)" text-anchor="end">0.2</text><text transform="translate(91.2 206.4) scale(.9 1)" text-anchor="end">0.1</text><text transform="translate(91.2 242.0) scale(.9 1)" text-anchor="end">0</text></g>
<text x="27" y="161.6" font-size="18.6">(b)</text>
<text x="212.7" y="160.5" font-size="11.5">Magnitude-Squared Coherence</text>
<text x="260.4" y="259.7" font-size="11.4">Frequency (Hz)</text>
<text transform="translate(68.3 208.3) rotate(-90)" font-size="11">MSC</text>
<rect x="93.0" y="290.4" width="428.5" height="71.9" fill="none" stroke="#7f7f7f" stroke-width="1"/>
<path d="M176.7 362.3v-4.3M176.7 290.4v4.3M260.4 362.3v-4.3M260.4 290.4v4.3M344.0 362.3v-4.3M344.0 290.4v4.3M427.7 362.3v-4.3M427.7 290.4v4.3M511.4 362.3v-4.3M511.4 290.4v4.3M93.0 292.2h4.3M521.5 292.2h-4.3" stroke="#444" stroke-width="0.9" fill="none"/>
<polyline points="93.0,362.5 93.2,362.5 93.5,362.5 93.8,362.5 94.0,362.5 94.2,362.5 94.5,362.5 94.8,362.5 95.0,362.5 95.2,362.5 95.5,362.5 95.8,362.5 96.0,362.5 96.2,362.5 96.5,362.5 96.8,362.5 97.0,362.5 97.2,362.5 97.5,362.5 97.8,362.5 98.0,362.5 98.2,362.5 98.5,362.5 98.8,362.5 99.0,362.5 99.2,362.5 99.5,362.5 99.8,362.5 100.0,362.5 100.2,362.5 100.5,362.5 100.8,362.5 101.0,362.5 101.2,362.5 101.5,362.5 101.8,362.5 102.0,362.5 102.2,362.5 102.5,362.5 102.8,362.5 103.0,362.5 103.2,362.5 103.5,362.5 103.8,362.5 104.0,362.5 104.2,362.5 104.5,362.5 104.8,362.5 105.0,362.5 105.2,362.5 105.5,362.5 105.8,362.5 106.0,362.5 106.2,362.5 106.5,362.5 106.8,362.5 107.0,362.5 107.2,362.5 107.5,362.5 107.8,362.5 108.0,362.5 108.2,362.5 108.5,362.5 108.8,362.5 109.0,362.5 109.2,362.5 109.5,362.5 109.8,362.5 110.0,362.5 110.2,362.5 110.5,362.5 110.8,362.5 111.0,362.5 111.2,362.5 111.5,362.5 111.8,362.5 112.0,362.5 112.2,362.5 112.5,362.5 112.8,362.5 113.0,362.5 113.2,362.5 113.5,362.5 113.8,362.5 114.0,362.5 114.2,359.8 114.5,357.1 114.8,352.0 115.0,347.0 115.2,342.3 115.4,339.4 115.5,341.6 115.7,346.0 115.8,344.3 116.0,336.0 116.2,328.2 116.5,320.4 116.8,335.1 116.8,338.0 117.0,333.0 117.2,329.9 117.3,329.3 117.5,339.8 117.6,345.0 117.8,349.5 118.0,357.1 118.2,359.0 118.5,360.9 118.8,360.9 119.0,360.9 119.2,360.9 119.3,360.9 119.5,356.3 119.7,352.0 119.8,349.0 120.0,334.0 120.2,322.0 120.2,319.7 120.5,308.3 120.8,296.9 120.9,290.0 121.0,295.3 121.2,308.7 121.5,322.0 121.8,337.0 122.0,352.0 122.2,357.1 122.4,360.3 122.5,359.8 122.8,358.4 122.8,358.2 123.0,354.7 123.1,353.0 123.2,350.6 123.4,348.3 123.5,350.2 123.7,354.0 123.8,354.8 124.0,358.7 124.1,360.3 124.2,360.5 124.5,360.7 124.7,360.9 124.8,360.4 125.0,357.9 125.2,356.0 125.2,355.1 125.5,350.6 125.7,347.0 125.8,348.0 126.0,353.0 126.1,355.0 126.2,356.9 126.5,360.1 126.6,361.4 126.8,361.4 127.0,361.5 127.2,361.6 127.5,361.7 127.8,361.7 128.0,361.8 128.2,361.9 128.5,362.0 128.6,362.0 128.8,361.6 129.0,361.0 129.2,360.5 129.2,360.4 129.5,359.9 129.7,359.5 129.8,359.6 130.0,360.2 130.2,360.8 130.2,360.9 130.5,361.4 130.8,361.9 130.9,362.2 131.0,362.2 131.2,362.2 131.5,362.2 131.8,362.2 132.0,362.2 132.2,362.2 132.5,362.2 132.8,362.2 133.0,362.2 133.2,362.3 133.5,362.3 133.8,362.3 134.0,362.3 134.2,362.3 134.5,362.3 134.8,362.3 135.0,362.3 135.2,362.3 135.5,362.3 135.8,362.3 136.0,362.3 136.2,362.3 136.5,362.3 136.8,362.3 137.0,362.3 137.2,362.3 137.5,362.3 137.8,362.4 138.0,362.4 138.2,362.4 138.5,362.4 138.8,362.4 139.0,362.4 139.2,362.4 139.5,362.4 139.8,362.4 140.0,362.4 140.2,362.4 140.5,362.4 140.8,362.4 141.0,362.4 141.2,362.4 141.5,362.4 141.8,362.4 142.0,362.4 142.2,362.4 142.5,362.4 142.8,362.4 143.0,362.4 143.2,362.4 143.5,362.4 143.8,362.4 144.0,362.4 144.2,362.4 144.5,362.4 144.8,362.4 145.0,362.4 145.2,362.4 145.5,362.4 145.8,362.4 146.0,362.4 146.2,362.4 146.5,362.4 146.8,362.4 147.0,362.4 147.2,362.4 147.5,362.4 147.8,362.4 148.0,362.4 148.2,362.4 148.5,362.4 148.8,362.4 149.0,362.4 149.2,362.4 149.5,362.4 149.8,362.4 150.0,362.4 150.2,362.4 150.5,362.4 150.8,362.4 151.0,362.4 151.2,362.4 151.5,362.4 151.8,362.4 152.0,362.4 152.2,362.4 152.5,362.4 152.8,362.4 153.0,362.4 153.2,362.4 153.5,362.4 153.8,362.4 154.0,362.4 154.2,362.4 154.5,362.4 154.8,362.4 155.0,362.4 155.2,362.4 155.5,362.4 155.8,362.4 156.0,362.4 156.2,362.4 156.5,362.4 156.8,362.4 157.0,362.4 157.2,362.4 157.5,362.4 157.8,362.4 158.0,362.4 158.2,362.4 158.5,362.4 158.8,362.4 159.0,362.4 159.2,362.4 159.5,362.4 159.8,362.4 160.0,362.4 160.2,362.4 160.5,362.4 160.8,362.4 161.0,362.4 161.2,362.4 161.5,362.4 161.8,362.4 162.0,362.4 162.2,362.4 162.5,362.4 162.8,362.4 163.0,362.4 163.2,362.4 163.5,362.4 163.8,362.4 164.0,362.4 164.2,362.4 164.5,362.4 164.8,362.4 165.0,362.4 165.2,362.4 165.5,362.4 165.8,362.4 166.0,362.4 166.2,362.4 166.5,362.4 166.8,362.4 167.0,362.4 167.2,362.4 167.5,362.4 167.8,362.4 168.0,362.4 168.2,362.4 168.5,362.4 168.8,362.4 169.0,362.4 169.2,362.4 169.5,362.4 169.8,362.4 170.0,362.4 170.2,362.4 170.5,362.4 170.8,362.4 171.0,362.4 171.2,362.4 171.5,362.4 171.8,362.4 172.0,362.4 172.2,362.4 172.5,362.4 172.8,362.4 173.0,362.4 173.2,362.4 173.5,362.4 173.8,362.4 174.0,362.4 174.2,362.4 174.5,362.4 174.8,362.4 175.0,362.4 175.2,362.4 175.5,362.4 175.8,362.4 176.0,362.4 176.2,362.4 176.5,362.4 176.8,362.4 177.0,362.4 177.2,362.4 177.5,362.4 177.8,362.4 178.0,362.4 178.2,362.4 178.5,362.4 178.8,362.4 179.0,362.4 179.2,362.4 179.5,362.4 179.8,362.4 180.0,362.4 180.2,362.4 180.5,362.4 180.8,362.4 181.0,362.4 181.2,362.4 181.5,362.4 181.8,362.4 182.0,362.4 182.2,362.3 182.5,362.1 182.8,362.0 183.0,361.9 183.2,361.8 183.5,361.6 183.6,361.6 183.8,361.7 184.0,361.8 184.2,362.0 184.5,362.1 184.8,362.3 185.0,362.4 185.2,362.4 185.5,362.4 185.8,362.4 186.0,362.4 186.2,362.3 186.5,362.3 186.8,362.3 187.0,362.3 187.2,362.3 187.5,362.3 187.8,362.3 188.0,362.3 188.2,362.3 188.5,362.2 188.8,362.2 189.0,362.2 189.2,362.2 189.5,362.2 189.8,361.8 190.0,361.3 190.2,360.8 190.4,360.5 190.5,360.7 190.8,361.2 191.0,361.7 191.2,362.1 191.3,362.2 191.5,362.2 191.8,362.2 192.0,362.2 192.2,362.2 192.5,362.2 192.8,362.2 193.0,362.2 193.2,362.2 193.5,362.2 193.8,362.2 194.0,362.2 194.2,362.2 194.5,362.2 194.8,362.2 195.0,362.2 195.2,362.2 195.5,362.2 195.8,362.2 196.0,362.2 196.2,362.2 196.4,362.2 196.5,362.0 196.8,361.6 197.0,361.1 197.2,360.6 197.3,360.5 197.5,360.9 197.8,361.4 198.0,361.9 198.2,362.3 198.2,362.3 198.5,362.3 198.8,362.3 199.0,362.3 199.2,362.3 199.5,362.3 199.8,362.3 200.0,362.3 200.2,362.3 200.5,362.3 200.8,362.3 201.0,362.3 201.2,362.3 201.5,362.3 201.8,362.3 202.0,362.3 202.2,362.3 202.5,362.3 202.8,362.3 203.0,362.3 203.2,362.3 203.5,362.3 203.8,362.3 204.0,362.3 204.2,362.3 204.5,362.3 204.8,362.3 205.0,362.3 205.2,362.3 205.5,362.3 205.8,362.3 206.0,362.3 206.2,362.4 206.5,362.4 206.8,362.4 207.0,362.4 207.2,362.4 207.5,362.4 207.8,362.4 208.0,362.4 208.2,362.4 208.5,362.4 208.8,362.4 209.0,362.4 209.2,362.4 209.5,362.4 209.8,362.4 210.0,362.4 210.2,362.4 210.5,362.4 210.8,362.4 211.0,362.4 211.2,362.4 211.5,362.4 211.8,362.4 212.0,362.4 212.2,362.4 212.5,362.4 212.8,362.4 213.0,362.4 213.2,362.4 213.5,362.4 213.8,362.4 214.0,362.4 214.2,362.4 214.5,362.4 214.8,362.4 215.0,362.4 215.2,362.4 215.5,362.4 215.8,362.4 216.0,362.4 216.2,362.4 216.5,362.4 216.8,362.4 217.0,362.4 217.2,362.4 217.5,362.4 217.8,362.4 218.0,362.4 218.2,362.4 218.5,362.4 218.8,362.4 219.0,362.4 219.2,362.4 219.5,362.4 219.8,362.4 220.0,362.4 220.2,362.4 220.5,362.4 220.8,362.4 221.0,362.4 221.2,362.4 221.5,362.4 221.8,362.4 222.0,362.4 222.2,362.5 222.5,362.5 222.8,362.5 223.0,362.5 223.2,362.5 223.5,362.5 223.8,362.5 224.0,362.5 224.2,362.5 224.5,362.5 224.8,362.5 225.0,362.5 225.2,362.5 225.5,362.5 225.8,362.5 226.0,362.5 226.2,362.5 226.5,362.5 226.8,362.5 227.0,362.5 227.2,362.5 227.5,362.5 227.8,362.5 228.0,362.5 228.2,362.5 228.5,362.5 228.8,362.5 229.0,362.5 229.2,362.5 229.5,362.5 229.8,362.5 230.0,362.5 230.2,362.5 230.5,362.5 230.8,362.5 231.0,362.5 231.2,362.5 231.5,362.5 231.8,362.5 232.0,362.5 232.2,362.5 232.5,362.5 232.8,362.5 233.0,362.5 233.2,362.5 233.5,362.5 233.8,362.5 234.0,362.5 234.2,362.5 234.5,362.5 234.8,362.5 235.0,362.5 235.2,362.5 235.5,362.5 235.8,362.5 236.0,362.5 236.2,362.5 236.5,362.5 236.8,362.5 237.0,362.5 237.2,362.5 237.5,362.5 237.8,362.5 238.0,362.5 238.2,362.5 238.5,362.5 238.8,362.5 239.0,362.5 239.2,362.5 239.5,362.5 239.8,362.5 240.0,362.5 240.2,362.5 240.5,362.5 240.8,362.5 241.0,362.5 241.2,362.5 241.5,362.5 241.8,362.5 242.0,362.5 242.2,362.5 242.5,362.5 242.8,362.5 243.0,362.5 243.2,362.5 243.5,362.5 243.8,362.5 244.0,362.5 244.2,362.5 244.5,362.5 244.8,362.5 245.0,362.5 245.2,362.5 245.5,362.5 245.8,362.5 246.0,362.5 246.2,362.5 246.5,362.5 246.8,362.5 247.0,362.5 247.2,362.5 247.5,362.5 247.8,362.5 248.0,362.5 248.2,362.5 248.5,362.5 248.8,362.5 249.0,362.5 249.2,362.5 249.5,362.5 249.8,362.5 250.0,362.5 250.2,362.5 250.5,362.5 250.8,362.5 251.0,362.5 251.2,362.5 251.5,362.5 251.8,362.5 252.0,362.5 252.2,362.5 252.5,362.5 252.8,362.5 253.0,362.5 253.2,362.5 253.5,362.5 253.8,362.5 254.0,362.5 254.2,362.5 254.5,362.5 254.8,362.5 255.0,362.5 255.2,362.5 255.5,362.5 255.8,362.5 256.0,362.5 256.2,362.5 256.5,362.5 256.8,362.5 257.0,362.5 257.2,362.5 257.5,362.5 257.8,362.5 258.0,362.5 258.2,362.5 258.5,362.5 258.8,362.5 259.0,362.5 259.2,362.5 259.5,362.5 259.8,362.5 260.0,362.5 260.2,362.5 260.5,362.5 260.8,362.5 261.0,362.5 261.2,362.5 261.5,362.5 261.8,362.5 262.0,362.5 262.2,362.5 262.5,362.5 262.8,362.5 263.0,362.5 263.2,362.5 263.5,362.5 263.8,362.5 264.0,362.5 264.2,362.5 264.5,362.5 264.8,362.5 265.0,362.5 265.2,362.5 265.5,362.5 265.8,362.5 266.0,362.5 266.2,362.5 266.5,362.5 266.8,362.5 267.0,362.5 267.2,362.5 267.5,362.5 267.8,362.5 268.0,362.5 268.2,362.5 268.5,362.5 268.8,362.5 269.0,362.5 269.2,362.5 269.5,362.5 269.8,362.5 270.0,362.5 270.2,362.5 270.5,362.5 270.8,362.5 271.0,362.5 271.2,362.5 271.5,362.5 271.8,362.5 272.0,362.5 272.2,362.5 272.5,362.5 272.8,362.5 273.0,362.5 273.2,362.5 273.5,362.5 273.8,362.5 274.0,362.5 274.2,362.5 274.5,362.5 274.8,362.5 275.0,362.5 275.2,362.5 275.5,362.5 275.8,362.5 276.0,362.5 276.2,362.5 276.5,362.5 276.8,362.5 277.0,362.5 277.2,362.5 277.5,362.5 277.8,362.5 278.0,362.5 278.2,362.5 278.5,362.5 278.8,362.5 279.0,362.5 279.2,362.5 279.5,362.5 279.8,362.5 280.0,362.5 280.2,362.5 280.5,362.5 280.8,362.5 281.0,362.5 281.2,362.5 281.5,362.5 281.8,362.5 282.0,362.5 282.2,362.5 282.5,362.5 282.8,362.5 283.0,362.5 283.2,362.5 283.5,362.5 283.8,362.5 284.0,362.5 284.2,362.5 284.5,362.5 284.8,362.5 285.0,362.5 285.2,362.5 285.5,362.5 285.8,362.5 286.0,362.5 286.2,362.5 286.5,362.5 286.8,362.5 287.0,362.5 287.2,362.5 287.5,362.5 287.8,362.5 288.0,362.5 288.2,362.5 288.5,362.5 288.8,362.5 289.0,362.5 289.2,362.5 289.5,362.5 289.8,362.5 290.0,362.5 290.2,362.5 290.5,362.5 290.8,362.5 291.0,362.5 291.2,362.5 291.5,362.5 291.8,362.5 292.0,362.5 292.2,362.5 292.5,362.5 292.8,362.5 293.0,362.5 293.2,362.5 293.5,362.5 293.8,362.5 294.0,362.5 294.2,362.5 294.5,362.5 294.8,362.5 295.0,362.5 295.2,362.5 295.5,362.5 295.8,362.5 296.0,362.5 296.2,362.5 296.5,362.5 296.8,362.5 297.0,362.5 297.2,362.5 297.5,362.5 297.8,362.5 298.0,362.5 298.2,362.5 298.5,362.5 298.8,362.5 299.0,362.5 299.2,362.5 299.5,362.5 299.8,362.5 300.0,362.5 300.2,362.5 300.5,362.5 300.8,362.5 301.0,362.5 301.2,362.5 301.5,362.5 301.8,362.5 302.0,362.5 302.2,362.5 302.5,362.5 302.8,362.5 303.0,362.5 303.2,362.5 303.5,362.5 303.8,362.5 304.0,362.5 304.2,362.5 304.5,362.5 304.8,362.5 305.0,362.5 305.2,362.5 305.5,362.5 305.8,362.5 306.0,362.5 306.2,362.5 306.5,362.5 306.8,362.5 307.0,362.5 307.2,362.5 307.5,362.5 307.8,362.5 308.0,362.5 308.2,362.5 308.5,362.5 308.8,362.5 309.0,362.5 309.2,362.5 309.5,362.5 309.8,362.5 310.0,362.5 310.2,362.5 310.5,362.5 310.8,362.5 311.0,362.5 311.2,362.5 311.5,362.5 311.8,362.5 312.0,362.5 312.2,362.5 312.5,362.5 312.8,362.5 313.0,362.5 313.2,362.5 313.5,362.5 313.8,362.5 314.0,362.5 314.2,362.5 314.5,362.5 314.8,362.5 315.0,362.5 315.2,362.5 315.5,362.5 315.8,362.5 316.0,362.5 316.2,362.5 316.5,362.5 316.8,362.5 317.0,362.5 317.2,362.5 317.5,362.5 317.8,362.5 318.0,362.5 318.2,362.5 318.5,362.5 318.8,362.5 319.0,362.5 319.2,362.5 319.5,362.5 319.8,362.5 320.0,362.5 320.2,362.5 320.5,362.5 320.8,362.5 321.0,362.5 321.2,362.5 321.5,362.5 321.8,362.5 322.0,362.5 322.2,362.5 322.5,362.5 322.8,362.5 323.0,362.5 323.2,362.5 323.5,362.5 323.8,362.5 324.0,362.5 324.2,362.5 324.5,362.5 324.8,362.5 325.0,362.5 325.2,362.5 325.5,362.5 325.8,362.5 326.0,362.5 326.2,362.5 326.5,362.5 326.8,362.5 327.0,362.5 327.2,362.5 327.5,362.5 327.8,362.5 328.0,362.5 328.2,362.5 328.5,362.5 328.8,362.5 329.0,362.5 329.2,362.5 329.5,362.5 329.8,362.5 330.0,362.5 330.2,362.5 330.5,362.5 330.8,362.5 331.0,362.5 331.2,362.5 331.5,362.5 331.8,362.5 332.0,362.5 332.2,362.5 332.5,362.5 332.8,362.5 333.0,362.5 333.2,362.5 333.5,362.5 333.8,362.5 334.0,362.5 334.2,362.5 334.5,362.5 334.8,362.5 335.0,362.5 335.2,362.5 335.5,362.5 335.8,362.5 336.0,362.5 336.2,362.5 336.5,362.5 336.8,362.5 337.0,362.5 337.2,362.5 337.5,362.5 337.8,362.5 338.0,362.5 338.2,362.5 338.5,362.5 338.8,362.5 339.0,362.5 339.2,362.5 339.5,362.5 339.8,362.5 340.0,362.5 340.2,362.5 340.5,362.5 340.8,362.5 341.0,362.5 341.2,362.5 341.5,362.5 341.8,362.5 342.0,362.5 342.2,362.5 342.5,362.5 342.8,362.5 343.0,362.5 343.2,362.5 343.5,362.5 343.8,362.5 344.0,362.5 344.2,362.5 344.5,362.5 344.8,362.5 345.0,362.5 345.2,362.5 345.5,362.5 345.8,362.5 346.0,362.5 346.2,362.5 346.5,362.5 346.8,362.5 347.0,362.5 347.2,362.5 347.5,362.5 347.8,362.5 348.0,362.5 348.2,362.5 348.5,362.5 348.8,362.5 349.0,362.5 349.2,362.5 349.5,362.5 349.8,362.5 350.0,362.5 350.2,362.5 350.5,362.5 350.8,362.5 351.0,362.5 351.2,362.5 351.5,362.5 351.8,362.5 352.0,362.5 352.2,362.5 352.5,362.5 352.8,362.5 353.0,362.5 353.2,362.5 353.5,362.5 353.8,362.5 354.0,362.5 354.2,362.5 354.5,362.5 354.8,362.5 355.0,362.5 355.2,362.5 355.5,362.5 355.8,362.5 356.0,362.5 356.2,362.5 356.5,362.5 356.8,362.5 357.0,362.5 357.2,362.5 357.5,362.5 357.8,362.5 358.0,362.5 358.2,362.5 358.5,362.5 358.8,362.5 359.0,362.5 359.2,362.5 359.5,362.5 359.8,362.5 360.0,362.5 360.2,362.5 360.5,362.5 360.8,362.5 361.0,362.5 361.2,362.5 361.5,362.5 361.8,362.5 362.0,362.5 362.2,362.5 362.5,362.5 362.8,362.5 363.0,362.5 363.2,362.5 363.5,362.5 363.8,362.5 364.0,362.5 364.2,362.5 364.5,362.5 364.8,362.5 365.0,362.5 365.2,362.5 365.5,362.5 365.8,362.5 366.0,362.5 366.2,362.5 366.5,362.5 366.8,362.5 367.0,362.5 367.2,362.5 367.5,362.5 367.8,362.5 368.0,362.5 368.2,362.5 368.5,362.5 368.8,362.5 369.0,362.5 369.2,362.5 369.5,362.5 369.8,362.5 370.0,362.5 370.2,362.5 370.5,362.5 370.8,362.5 371.0,362.5 371.2,362.5 371.5,362.5 371.8,362.5 372.0,362.5 372.2,362.5 372.5,362.5 372.8,362.5 373.0,362.5 373.2,362.5 373.5,362.5 373.8,362.5 374.0,362.5 374.2,362.5 374.5,362.5 374.8,362.5 375.0,362.5 375.2,362.5 375.5,362.5 375.8,362.5 376.0,362.5 376.2,362.5 376.5,362.5 376.8,362.5 377.0,362.5 377.2,362.5 377.5,362.5 377.8,362.5 378.0,362.5 378.2,362.5 378.5,362.5 378.8,362.5 379.0,362.5 379.2,362.5 379.5,362.5 379.8,362.5 380.0,362.5 380.2,362.5 380.5,362.5 380.8,362.5 381.0,362.5 381.2,362.5 381.5,362.5 381.8,362.5 382.0,362.5 382.2,362.5 382.5,362.5 382.8,362.5 383.0,362.5 383.2,362.5 383.5,362.5 383.8,362.5 384.0,362.5 384.2,362.5 384.5,362.5 384.8,362.5 385.0,362.5 385.2,362.5 385.5,362.5 385.8,362.5 386.0,362.5 386.2,362.5 386.5,362.5 386.8,362.5 387.0,362.5 387.2,362.5 387.5,362.5 387.8,362.5 388.0,362.5 388.2,362.5 388.5,362.5 388.8,362.5 389.0,362.5 389.2,362.5 389.5,362.5 389.8,362.5 390.0,362.5 390.2,362.5 390.5,362.5 390.8,362.5 391.0,362.5 391.2,362.5 391.5,362.5 391.8,362.5 392.0,362.5 392.2,362.5 392.5,362.5 392.8,362.5 393.0,362.5 393.2,362.5 393.5,362.5 393.8,362.5 394.0,362.5 394.2,362.5 394.5,362.5 394.8,362.5 395.0,362.5 395.2,362.5 395.5,362.5 395.8,362.5 396.0,362.5 396.2,362.5 396.5,362.5 396.8,362.5 397.0,362.5 397.2,362.5 397.5,362.5 397.8,362.5 398.0,362.5 398.2,362.5 398.5,362.5 398.8,362.5 399.0,362.5 399.2,362.5 399.5,362.5 399.8,362.5 400.0,362.5 400.2,362.5 400.5,362.5 400.8,362.5 401.0,362.5 401.2,362.5 401.5,362.5 401.8,362.5 402.0,362.5 402.2,362.5 402.5,362.5 402.8,362.5 403.0,362.5 403.2,362.5 403.5,362.5 403.8,362.5 404.0,362.5 404.2,362.5 404.5,362.5 404.8,362.5 405.0,362.5 405.2,362.5 405.5,362.5 405.8,362.5 406.0,362.5 406.2,362.5 406.5,362.5 406.8,362.5 407.0,362.5 407.2,362.5 407.5,362.5 407.8,362.5 408.0,362.5 408.2,362.5 408.5,362.5 408.8,362.5 409.0,362.5 409.2,362.5 409.5,362.5 409.8,362.5 410.0,362.5 410.2,362.5 410.5,362.5 410.8,362.5 411.0,362.5 411.2,362.5 411.5,362.5 411.8,362.5 412.0,362.5 412.2,362.5 412.5,362.5 412.8,362.5 413.0,362.5 413.2,362.5 413.5,362.5 413.8,362.5 414.0,362.5 414.2,362.5 414.5,362.5 414.8,362.5 415.0,362.5 415.2,362.5 415.5,362.5 415.8,362.5 416.0,362.5 416.2,362.5 416.5,362.5 416.8,362.5 417.0,362.5 417.2,362.5 417.5,362.5 417.8,362.5 418.0,362.5 418.2,362.5 418.5,362.5 418.8,362.5 419.0,362.5 419.2,362.5 419.5,362.5 419.8,362.5 420.0,362.5 420.2,362.5 420.5,362.5 420.8,362.5 421.0,362.5 421.2,362.5 421.5,362.5 421.8,362.5 422.0,362.5 422.2,362.5 422.5,362.5 422.8,362.5 423.0,362.5 423.2,362.5 423.5,362.5 423.8,362.5 424.0,362.5 424.2,362.5 424.5,362.5 424.8,362.5 425.0,362.5 425.2,362.5 425.5,362.5 425.8,362.5 426.0,362.5 426.2,362.5 426.5,362.5 426.8,362.5 427.0,362.5 427.2,362.5 427.5,362.5 427.8,362.5 428.0,362.5 428.2,362.5 428.5,362.5 428.8,362.5 429.0,362.5 429.2,362.5 429.5,362.5 429.8,362.5 430.0,362.5 430.2,362.5 430.5,362.5 430.8,362.5 431.0,362.5 431.2,362.5 431.5,362.5 431.8,362.5 432.0,362.5 432.2,362.5 432.5,362.5 432.8,362.5 433.0,362.5 433.2,362.5 433.5,362.5 433.8,362.5 434.0,362.5 434.2,362.5 434.5,362.5 434.8,362.5 435.0,362.5 435.2,362.5 435.5,362.5 435.8,362.5 436.0,362.5 436.2,362.5 436.5,362.5 436.8,362.5 437.0,362.5 437.2,362.5 437.5,362.5 437.8,362.5 438.0,362.5 438.2,362.5 438.5,362.5 438.8,362.5 439.0,362.5 439.2,362.5 439.5,362.5 439.8,362.5 440.0,362.5 440.2,362.5 440.5,362.5 440.8,362.5 441.0,362.5 441.2,362.5 441.5,362.5 441.8,362.5 442.0,362.5 442.2,362.5 442.5,362.5 442.8,362.5 443.0,362.5 443.2,362.5 443.5,362.5 443.8,362.5 444.0,362.5 444.2,362.5 444.5,362.5 444.8,362.5 445.0,362.5 445.2,362.5 445.5,362.5 445.8,362.5 446.0,362.5 446.2,362.5 446.5,362.5 446.8,362.5 447.0,362.5 447.2,362.5 447.5,362.5 447.8,362.5 448.0,362.5 448.2,362.5 448.5,362.5 448.8,362.5 449.0,362.5 449.2,362.5 449.5,362.5 449.8,362.5 450.0,362.5 450.2,362.5 450.5,362.5 450.8,362.5 451.0,362.5 451.2,362.5 451.5,362.5 451.8,362.5 452.0,362.5 452.2,362.5 452.5,362.5 452.8,362.5 453.0,362.5 453.2,362.5 453.5,362.5 453.8,362.5 454.0,362.5 454.2,362.5 454.5,362.5 454.8,362.5 455.0,362.5 455.2,362.5 455.5,362.5 455.8,362.5 456.0,362.5 456.2,362.5 456.5,362.5 456.8,362.5 457.0,362.5 457.2,362.5 457.5,362.5 457.8,362.5 458.0,362.5 458.2,362.5 458.5,362.5 458.8,362.5 459.0,362.5 459.2,362.5 459.5,362.5 459.8,362.5 460.0,362.5 460.2,362.5 460.5,362.5 460.8,362.5 461.0,362.5 461.2,362.5 461.5,362.5 461.8,362.5 462.0,362.5 462.2,362.5 462.5,362.5 462.8,362.5 463.0,362.5 463.2,362.5 463.5,362.5 463.8,362.5 464.0,362.5 464.2,362.5 464.5,362.5 464.8,362.5 465.0,362.5 465.2,362.5 465.5,362.5 465.8,362.5 466.0,362.5 466.2,362.5 466.5,362.5 466.8,362.5 467.0,362.5 467.2,362.5 467.5,362.5 467.8,362.5 468.0,362.5 468.2,362.5 468.5,362.5 468.8,362.5 469.0,362.5 469.2,362.5 469.5,362.5 469.8,362.5 470.0,362.5 470.2,362.5 470.5,362.5 470.8,362.5 471.0,362.5 471.2,362.5 471.5,362.5 471.8,362.5 472.0,362.5 472.2,362.5 472.5,362.5 472.8,362.5 473.0,362.5 473.2,362.5 473.5,362.5 473.8,362.5 474.0,362.5 474.2,362.5 474.5,362.5 474.8,362.5 475.0,362.5 475.2,362.5 475.5,362.5 475.8,362.5 476.0,362.5 476.2,362.5 476.5,362.5 476.8,362.5 477.0,362.5 477.2,362.5 477.5,362.5 477.8,362.5 478.0,362.5 478.2,362.5 478.5,362.5 478.8,362.5 479.0,362.5 479.2,362.5 479.5,362.5 479.8,362.5 480.0,362.5 480.2,362.5 480.5,362.5 480.8,362.5 481.0,362.5 481.2,362.5 481.5,362.5 481.8,362.5 482.0,362.5 482.2,362.5 482.5,362.5 482.8,362.5 483.0,362.5 483.2,362.5 483.5,362.5 483.8,362.5 484.0,362.5 484.2,362.5 484.5,362.5 484.8,362.5 485.0,362.5 485.2,362.5 485.5,362.5 485.8,362.5 486.0,362.5 486.2,362.5 486.5,362.5 486.8,362.5 487.0,362.5 487.2,362.5 487.5,362.5 487.8,362.5 488.0,362.5 488.2,362.5 488.5,362.5 488.8,362.5 489.0,362.5 489.2,362.5 489.5,362.5 489.8,362.5 490.0,362.5 490.2,362.5 490.5,362.5 490.8,362.5 491.0,362.5 491.2,362.5 491.5,362.5 491.8,362.5 492.0,362.5 492.2,362.5 492.5,362.5 492.8,362.5 493.0,362.5 493.2,362.5 493.5,362.5 493.8,362.5 494.0,362.5 494.2,362.5 494.5,362.5 494.8,362.5 495.0,362.5 495.2,362.5 495.5,362.5 495.8,362.5 496.0,362.5 496.2,362.5 496.5,362.5 496.8,362.5 497.0,362.5 497.2,362.5 497.5,362.5 497.8,362.5 498.0,362.5 498.2,362.5 498.5,362.5 498.8,362.5 499.0,362.5 499.2,362.5 499.5,362.5 499.8,362.5 500.0,362.5 500.2,362.5 500.5,362.5 500.8,362.5 501.0,362.5 501.2,362.5 501.5,362.5 501.8,362.5 502.0,362.5 502.2,362.5 502.5,362.5 502.8,362.5 503.0,362.5 503.2,362.5 503.5,362.5 503.8,362.5 504.0,362.5 504.2,362.5 504.5,362.5 504.8,362.5 505.0,362.5 505.2,362.5 505.5,362.5 505.8,362.5 506.0,362.5 506.2,362.5 506.5,362.5 506.8,362.5 507.0,362.5 507.2,362.5 507.5,362.5 507.8,362.5 508.0,362.5 508.2,362.5 508.5,362.5 508.8,362.5 509.0,362.5 509.2,362.5 509.5,362.5 509.8,362.5 510.0,362.5 510.2,362.5 510.5,362.5 510.8,362.5 511.0,362.5 511.2,362.5 511.5,362.5 511.8,362.5 512.0,362.5 512.2,362.5 512.5,362.5 512.8,362.5 513.0,362.5 513.2,362.5 513.5,362.5 513.8,362.5 514.0,362.5 514.2,362.5 514.5,362.5 514.8,362.5 515.0,362.5 515.2,362.5 515.5,362.5 515.8,362.5 516.0,362.5 516.2,362.5 516.5,362.5 516.8,362.5 517.0,362.5 517.2,362.5 517.5,362.5 517.8,362.5 518.0,362.5 518.2,362.5 518.5,362.5 518.8,362.5 519.0,362.5 519.2,362.5 519.5,362.5 519.8,362.5 520.0,362.5 520.2,362.5 520.5,362.5 520.8,362.5 521.0,362.5 521.2,362.5 521.5,362.5" fill="none" stroke="#0072bd" stroke-width="1.05" stroke-linejoin="round"/>
<g font-size="10" fill="#111"><text transform="translate(93.8 372.6) scale(.9 1)" text-anchor="middle">0</text><text transform="translate(177.5 372.6) scale(.9 1)" text-anchor="middle">50</text><text transform="translate(261.2 372.6) scale(.9 1)" text-anchor="middle">100</text><text transform="translate(344.8 372.6) scale(.9 1)" text-anchor="middle">150</text><text transform="translate(428.5 372.6) scale(.9 1)" text-anchor="middle">200</text><text transform="translate(512.2 372.6) scale(.9 1)" text-anchor="middle">250</text></g>
<g font-size="10"><text transform="translate(91.2 296.0) scale(.9 1)" text-anchor="end">50</text><text transform="translate(91.2 366.0) scale(.9 1)" text-anchor="end">0</text></g>
<text x="27" y="279.6" font-size="18.6">(c)</text>
<text x="235.3" y="285.2" font-size="11.5">Squared Cross-Spectrum</text>
<text x="262.9" y="384.7" font-size="11.4">Frequency (Hz)</text>
<text transform="translate(68.3 366.3) rotate(-90)" font-size="11.2">SCS (mm/s²)²/Hz</text>
</g>
<defs><linearGradient id="pg" x1="0" y1="0" x2="0" y2="1"><stop offset="0.0000" stop-color="#f9fb15"/><stop offset="0.0159" stop-color="#f7f51b"/><stop offset="0.0317" stop-color="#f6ef20"/><stop offset="0.0476" stop-color="#f5e924"/><stop offset="0.0635" stop-color="#f5e327"/><stop offset="0.0794" stop-color="#f7dc2a"/><stop offset="0.0952" stop-color="#fad62d"/><stop offset="0.1111" stop-color="#fccf30"/><stop offset="0.1270" stop-color="#fec934"/><stop offset="0.1429" stop-color="#fec338"/><stop offset="0.1587" stop-color="#febe3c"/><stop offset="0.1746" stop-color="#f8ba3d"/><stop offset="0.1905" stop-color="#f0ba36"/><stop offset="0.2063" stop-color="#e6bb2d"/><stop offset="0.2222" stop-color="#dcbd29"/><stop offset="0.2381" stop-color="#d1bf27"/><stop offset="0.2540" stop-color="#c5c22a"/><stop offset="0.2698" stop-color="#b9c431"/><stop offset="0.2857" stop-color="#abc739"/><stop offset="0.3016" stop-color="#9dc943"/><stop offset="0.3175" stop-color="#8fcb4e"/><stop offset="0.3333" stop-color="#81cc59"/><stop offset="0.3492" stop-color="#72cd64"/><stop offset="0.3651" stop-color="#64cd6f"/><stop offset="0.3810" stop-color="#57cc7a"/><stop offset="0.3968" stop-color="#4acb84"/><stop offset="0.4127" stop-color="#3fca8e"/><stop offset="0.4286" stop-color="#37c897"/><stop offset="0.4444" stop-color="#31c69f"/><stop offset="0.4603" stop-color="#2cc4a7"/><stop offset="0.4762" stop-color="#24c1ae"/><stop offset="0.4921" stop-color="#19bfb6"/><stop offset="0.5079" stop-color="#0bbdbd"/><stop offset="0.5238" stop-color="#02bac3"/><stop offset="0.5397" stop-color="#01b8ca"/><stop offset="0.5556" stop-color="#08b5d0"/><stop offset="0.5714" stop-color="#12b1d6"/><stop offset="0.5873" stop-color="#18addb"/><stop offset="0.6032" stop-color="#1ca9df"/><stop offset="0.6190" stop-color="#20a5e3"/><stop offset="0.6349" stop-color="#23a0e5"/><stop offset="0.6508" stop-color="#259be8"/><stop offset="0.6667" stop-color="#2797eb"/><stop offset="0.6825" stop-color="#2b91ef"/><stop offset="0.6984" stop-color="#2d8cf3"/><stop offset="0.7143" stop-color="#2e87f7"/><stop offset="0.7302" stop-color="#2f81fa"/><stop offset="0.7460" stop-color="#327cfc"/><stop offset="0.7619" stop-color="#3875fe"/><stop offset="0.7778" stop-color="#3e6fff"/><stop offset="0.7937" stop-color="#4269fe"/><stop offset="0.8095" stop-color="#4563fd"/><stop offset="0.8254" stop-color="#465efb"/><stop offset="0.8413" stop-color="#4758f8"/><stop offset="0.8571" stop-color="#4852f4"/><stop offset="0.8730" stop-color="#484df0"/><stop offset="0.8889" stop-color="#4747eb"/><stop offset="0.9048" stop-color="#4741e5"/><stop offset="0.9206" stop-color="#463cde"/><stop offset="0.9365" stop-color="#4537d5"/><stop offset="0.9524" stop-color="#4332cb"/><stop offset="0.9683" stop-color="#422ec0"/><stop offset="0.9841" stop-color="#402ab4"/><stop offset="1.0000" stop-color="#3e26a8"/></linearGradient></defs>
<rect x="170.5" y="414.8" width="225" height="198.8" fill="none" stroke="#555" stroke-opacity=".55" stroke-width=".7"/>
<path d="M171.2 415V613.5M394.9 415V613.5" stroke="#fff" stroke-opacity=".45" stroke-width="1" stroke-dasharray="5.4 5.4" fill="none"/>
<path d="M171.4 581.5v5.2M171.4 592.6v5.3M171.4 603.6v5.8M394.7 583v5M394.7 593.8v5.2M394.7 604.5v5.5" stroke="#fff" stroke-opacity=".85" stroke-width="1.1" fill="none"/>
<rect x="402.2" y="415.3" width="12.3" height="198.5" fill="url(#pg)" stroke="#555" stroke-width=".6"/>
<path d="M414.5 594.5h-1.8M414.5 574.6h-1.8M414.5 554.7h-1.8M414.5 534.8h-1.8M414.5 514.9h-1.8M414.5 495.0h-1.8M414.5 475.1h-1.8M414.5 455.2h-1.8M414.5 435.3h-1.8" stroke="#333" stroke-width=".8" fill="none"/>
<g font-family="Liberation Sans, Arial, sans-serif" fill="#4d4d4d" stroke="#4d4d4d" stroke-width=".12" font-size="8.2">
<text transform="translate(417.6 617.5) scale(.87 1)">0</text>
<text transform="translate(417.6 597.6) scale(.87 1)">0.1</text>
<text transform="translate(417.6 577.7) scale(.87 1)">0.2</text>
<text transform="translate(417.6 557.8) scale(.87 1)">0.3</text>
<text transform="translate(417.6 537.9) scale(.87 1)">0.4</text>
<text transform="translate(417.6 518.0) scale(.87 1)">0.5</text>
<text transform="translate(417.6 498.1) scale(.87 1)">0.6</text>
<text transform="translate(417.6 478.2) scale(.87 1)">0.7</text>
<text transform="translate(417.6 458.3) scale(.87 1)">0.8</text>
<text transform="translate(417.6 438.4) scale(.87 1)">0.9</text>
<text transform="translate(417.6 418.5) scale(.87 1)">1</text>
<text transform="translate(167.3 418.8) scale(.93 1)" text-anchor="end">256</text>
<text transform="translate(167.3 438.2) scale(.93 1)" text-anchor="end">128</text>
<text transform="translate(167.3 457.6) scale(.93 1)" text-anchor="end">64</text>
<text transform="translate(167.3 477.1) scale(.93 1)" text-anchor="end">32</text>
<text transform="translate(167.3 496.5) scale(.93 1)" text-anchor="end">16</text>
<text transform="translate(167.3 515.9) scale(.93 1)" text-anchor="end">8</text>
<text transform="translate(167.3 535.3) scale(.93 1)" text-anchor="end">4</text>
<text transform="translate(167.3 554.7) scale(.93 1)" text-anchor="end">2</text>
<text transform="translate(167.3 574.2) scale(.93 1)" text-anchor="end">1</text>
<text transform="translate(167.3 593.6) scale(.93 1)" text-anchor="end">0.5</text>
<text transform="translate(167.3 613.0) scale(.93 1)" text-anchor="end">0.25</text>
<text x="170.5" y="625.3" text-anchor="middle">0</text>
<text x="196.1" y="625.3" text-anchor="middle">2</text>
<text x="221.6" y="625.3" text-anchor="middle">4</text>
<text x="247.2" y="625.3" text-anchor="middle">6</text>
<text x="272.7" y="625.3" text-anchor="middle">8</text>
<text x="298.3" y="625.3" text-anchor="middle">10</text>
<text x="323.9" y="625.3" text-anchor="middle">12</text>
<text x="349.4" y="625.3" text-anchor="middle">14</text>
<text x="375.0" y="625.3" text-anchor="middle">16</text>
</g>
<g font-family="Liberation Sans, Arial, sans-serif" fill="#111" stroke="#111" stroke-width=".3">
<text x="92" y="411.4" font-size="18.6">(d)</text>
<text x="243.4" y="412.7" font-size="11.5">Wavelet Coherence</text>
<text x="252.3" y="639" font-size="11.3">Time (mins)</text>
<text transform="translate(139.9 557.6) rotate(-90)" font-size="11.3">Frequency (Hz)</text>
<text transform="translate(447.4 525) rotate(-90)" font-size="10.6">WC</text>
</g>
</svg>
</div>
</body></html>
